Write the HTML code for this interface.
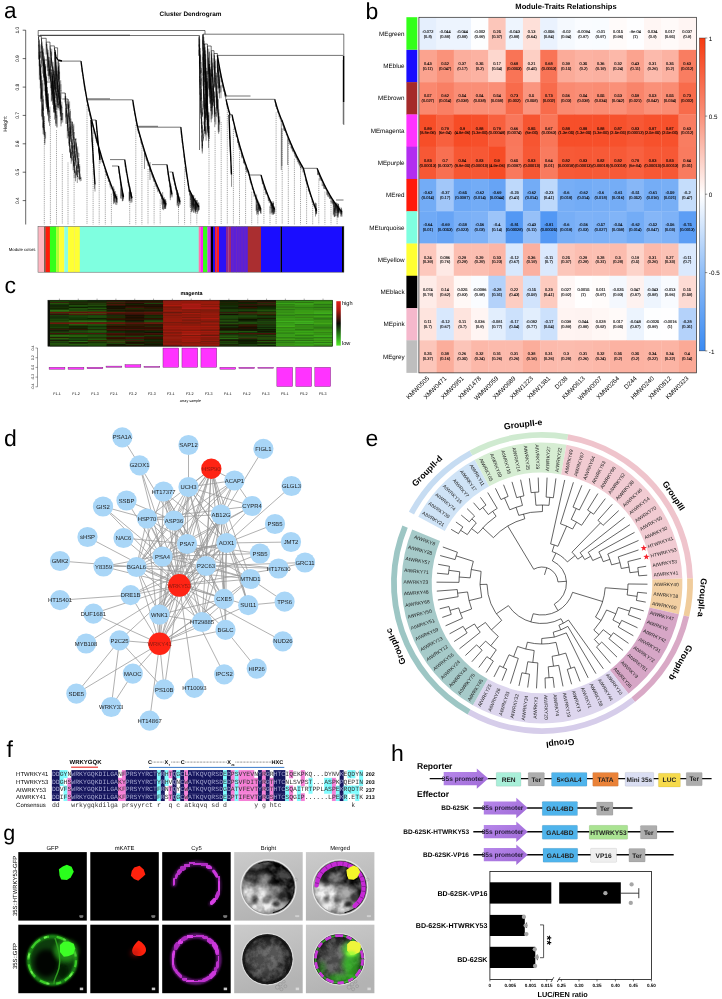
<!DOCTYPE html>
<html><head><meta charset="utf-8"><title>Figure</title>
<style>html,body{margin:0;padding:0;background:#fff}svg{display:block}text{font-family:"Liberation Sans",sans-serif;text-rendering:geometricPrecision}text.mo{font-family:"Liberation Mono",monospace;white-space:pre}</style>
</head><body>
<svg width="722" height="999" viewBox="0 0 722 999">
<rect width="722" height="999" fill="#fff"/>
<g id="panel_a">
<text x="3.9" y="17.7" font-size="22.5">a</text>
<text x="190.5" y="15.5" font-size="6.4" text-anchor="middle" font-weight="bold">Cluster Dendrogram</text>
<path d="M25.7 30.2V224.5" stroke="#000" stroke-width=".6" fill="none"/>
<text x="19.1" y="30.2" font-size="4.9" text-anchor="middle" transform="rotate(-90 19.1 30.2)">1.0</text>
<text x="19.1" y="58.6" font-size="4.9" text-anchor="middle" transform="rotate(-90 19.1 58.6)">0.9</text>
<text x="19.1" y="87.1" font-size="4.9" text-anchor="middle" transform="rotate(-90 19.1 87.1)">0.8</text>
<text x="19.1" y="115.4" font-size="4.9" text-anchor="middle" transform="rotate(-90 19.1 115.4)">0.7</text>
<text x="19.1" y="143.8" font-size="4.9" text-anchor="middle" transform="rotate(-90 19.1 143.8)">0.6</text>
<text x="19.1" y="172.2" font-size="4.9" text-anchor="middle" transform="rotate(-90 19.1 172.2)">0.5</text>
<text x="19.1" y="200.6" font-size="4.9" text-anchor="middle" transform="rotate(-90 19.1 200.6)">0.4</text>
<path d="M22.7 30.2H25.7M22.7 58.6H25.7M22.7 87.1H25.7M22.7 115.4H25.7M22.7 143.8H25.7M22.7 172.2H25.7M22.7 200.6H25.7" stroke="#000" stroke-width=".6" fill="none"/>
<text x="7" y="124" font-size="5.3" text-anchor="middle" transform="rotate(-90 7 124)">Height</text>
<path d="M44.3 121.07V224.4M50.4 116.22V224.4M56.5 130.23V224.4M62.3 154.08V224.4M68 162.48V224.4M74.1 159.5V224.4M87 104.9V224.4M93.1 132.75V224.4M99.2 157.48V224.4M105.3 174.33V224.4M111.4 193.77V224.4M129.7 192.73V224.4M135.8 124.94V224.4M141.9 145.91V224.4M148 169.17V224.4M154.1 186.16V224.4M160.2 199.51V224.4M178.5 203.28V224.4M184.6 166.83V224.4M190.7 195.62V224.4M196.8 210.82V224.4M209 128.48V224.4M215.1 130.97V224.4M221.2 122.16V224.4M227.3 108.37V224.4M233.4 129.25V224.4M239.5 151.32V224.4M245.6 167.4V224.4M251.7 191.75V224.4M257.8 209.02V224.4M263.9 190.29V224.4M270 206.82V224.4M276.1 112.47V224.4M282.2 129.33V224.4M288.3 141.2V224.4M294.4 158.76V224.4M300.5 166.84V224.4M306.6 186.86V224.4M312.7 204.25V224.4M318.8 178.58V224.4M324.9 191.66V224.4M331 201.24V224.4M337.1 209.83V224.4" stroke="#5c5c5c" stroke-width=".6" stroke-dasharray="1 .9" fill="none"/>
<path d="M39.28 39.41V46.27M39.22 40.4V45.9M38.48 44.34V59.26M40.07 44.25V59.03M39.85 45.88V57.92M39.36 45.8V66.54M40.54 51.96V57.61M38.99 51.91V59.94M39.33 55.2V79.53M39.74 55.3V75.41M39.3 60.43V65.98M40.08 60.11V80.03M40.36 64.26V81.58M40.87 64.43V86.22M40.74 66.64V85.05M40.24 66.33V88.4M40.76 71.1V79.12M40.9 73.26V79.84M41.72 75.76V94.4M40.78 75.4V98.67M41.58 80.22V96.59M42.35 80.17V101.51M40.74 83.6V101.65M42.7 83.23V101.32M41.68 87.8V98.12M41.84 89.3V93.15M41.24 91.61V98.91M41.64 92.74V99.13M41.55 96.68V116.35M43.23 95.57V110.6M42.22 100.89V119.78M43.5 99.26V111.02M42.27 105.55V111.36M42.92 104.47V112.74M42.17 109.09V117.12M43.36 107.49V118.85M43.52 112.61V127.72M42.55 111.76V127.5M44.54 116.17V132.73M43.54 118.26V126.85M43.11 122.47V134.2M43.32 121.65V127.98M43.25 126.33V129.69M44.01 126.71V130.38M44.81 130.45V144.81M44.25 129.8V136.39M45.58 132.02V138.6M44.82 134.74V143.06M41.89 41.6V48.87M41.51 42.33V67.23M42.62 46.05V73.62M41.56 44.9V63.6M43.68 48.49V77.57M42.64 50.08V60.47M43.37 52.34V76.07M42.72 52.24V65.85M44.43 56.35V84.27M44.2 58.09V80.54M43.8 62.78V77.42M43.64 62.09V66.81M45.47 65.62V84.69M45.54 64.1V89.81M44.35 70.38V81.54M44.32 69.18V78.14M46.09 73.71V95.71M46 74.9V90.88M46.68 76.9V94.54M45.77 78.71V96.22M45.91 80.94V100.36M46.04 82.13V103.66M47.19 86.92V106.51M45.99 84.72V92.3M46.43 89.05V107.48M47.51 90.48V110.37M46.87 95.58V106.78M47.96 94.04V113.49M47.97 97.1V116.21M47.51 98.96V114.58M48.04 102.05V110.27M48.42 103.42V109.78M48.76 106.53V122.5M49.92 106.64V118.02M49.55 110.4V125.93M48.54 110.68V120.81M46.06 43.76V54.64M47.04 43.98V54.37M47.16 48.66V67.53M48.12 49.89V67.5M47.46 53.44V71.1M48.01 52.58V76.09M49.34 57V79.11M48.49 56.79V75.76M48.88 60.78V80.95M49.91 60.28V76.24M50.43 65.66V88.2M50.43 63.92V81.51M49.24 69.17V76.4M49.49 70.27V75.09M51.18 71.86V90.6M51.03 72.57V80.56M51.94 75.7V84.15M52.09 77.41V85.58M52.73 80.17V94.12M51.56 81.12V88.3M51.64 85.76V95.13M51.27 85.06V101.67M51.84 89.78V100.43M52.88 90.58V103.41M54.05 91.92V112.41M52.95 94.71V98.82M53.56 98.5V112.53M54.9 96.43V107.31M53.91 100.19V108.64M55.06 102.68V112.95M55.65 105.72V109.75M56.17 105.1V109.94M50.07 47.55V74.08M51.71 48.76V55.65M51.54 51.56V66.25M50.65 52.76V64.52M51.12 58.08V67.67M51.32 57.63V63.31M53.04 61.92V73.01M51.82 61.74V77.36M52.54 66.96V70.68M53.17 66.44V85.95M54.56 70.91V84.07M53.5 69.74V91.1M54.02 73.93V94.72M55.26 74.42V91.86M55.29 77.76V97.99M54.54 79.51V90.04M54.58 81.67V88.9M54.78 83.64V91.12M56.9 86.1V104.75M55.58 87.24V95.4M56.04 91V102.02M57.73 89.42V98.92M56.88 93.66V106.97M57.12 96.55V103.44M58.03 99.27V108.24M58.09 100.76V105.72M57.89 103.8V110.43M57.75 104.09V107.54M55.39 50.29V61.6M55.54 49.73V74.61M55.29 54.98V81.03M54.79 53.79V83.59M54.9 57.53V78.69M56.13 57.84V84.51M55.46 62.55V85.89M56.92 61.71V78.95M56.77 65.52V89.44M57 67.51V86.33M56.2 71.2V76.13M57.68 70.6V77.66M57.63 74.32V91.94M56.32 73.97V89.18M57.77 78.83V97.64M56.85 78.23V95.94M57.28 83.72V91.91M57.55 82.3V100.59M58.58 87.45V108.18M58.97 86.3V99.57M59.31 92.45V105.37M58.49 90.45V97.64M59.58 96.72V103.91M58.95 94.74V100.11M60.24 99.97V113.3M59.8 99.44V110.72M61.13 104.32V108.7M61.22 104.87V120.62M61.42 106.1V116.97M60.26 108.37V116.84M44.15 62.26V91.16M44.81 61.14V71.3M45.69 66.47V74.7M45.45 67.31V92.35M45.27 71.93V95.24M45.28 70.65V75.48M44.84 74.97V85.48M46.31 75.99V85.77M46.61 79.64V97.64M46.35 77.3V101.06M45.95 82.82V92.07M46.4 82.92V104.98M46.07 87.86V97.83M47.24 87.14V92.32M46.34 91.2V109M46.22 90.88V102.37M48.01 93.56V111.87M48.08 93.18V107.22M48.01 99.85V109.14M47.45 97.74V111.52M52.33 73.85V93.89M52 72.58V100.93M52.63 75.78V89.86M52.56 76.03V104.94M53.48 80.82V92.34M52.65 81.38V89.31M53.67 85.34V108.96M54.72 84.65V108.97M53.37 89.73V96.04M53.15 89.28V100.21M54.5 91.34V102.04M54.17 92.76V111.62M54.44 96.99V110.49M54.23 95.1V101.98M55.07 100.11V106.85M54.46 101.19V119.62M55.21 104.66V112.54M56.16 103.38V124M54.81 107.87V112.66M55.74 108.24V125.92M55.94 111.22V116.17M56.92 111.08V127.79M55.73 117.54V123.23M56.93 115.18V126.79M59.21 63.01V77.25M59.01 65.19V73.93M58.53 66.75V81.74M58.68 69.13V80.09M59.58 71.63V79.32M58.39 72.15V77.7M59.27 77.26V87M58.48 77.02V87.2M60.69 80.2V89.52M59.68 81.43V94.04M60.93 84.23V91.22M58.95 84.85V91.84M60.02 89.78V99.38M61.08 89.87V99.31M60.09 93.5V97.22M59.8 92.37V103.24M60.69 98.35V107.52M60.28 96.5V109.56M60.34 100.89V107.03M61.87 101.68V107.56M60.59 106.13V110.68M62.12 106.94V114.45M60.83 108.66V116.22M60.49 111.41V114.35M62.52 113.14V120.14M62.73 113V122.5M61.29 117.19V123.64M60.97 118.01V126.35M65.72 96.07V105.47M64.94 96.22V102.43M67.23 100.75V108.88M65.66 100.06V117.5M67.26 103.89V119.07M66.53 104.07V108.58M66.26 108.16V123.94M65.92 108.02V123.65M67.81 113.19V126.12M66.33 110.55V116.28M68.11 114.68V122.94M67.12 114.5V123.94M67.45 119.29V131.01M67.48 121.43V127.49M69.19 123.6V136.25M67.32 124.8V138.36M69.65 126.7V136.84M68.17 128.27V135.89M69.97 133.08V140.78M69.57 131.16V143.96M69.68 136.7V147.26M69.16 135.34V142.8M69.21 139.49V144.37M68.93 141.65V145.94M69.87 142.87V152.52M71.26 145.02V155.46M69.79 148.38V152.27M70.53 149.17V157.55M71.29 151.92V158.85M71.77 151.94V161.49M72.17 157.12V160.41M71.18 155.79V163.75M68.26 102.38V108.93M69.6 101.38V108.26M68.87 104.24V114.68M68.52 104.8V117.24M70.43 111.03V123.07M70.07 108.81V120.61M68.77 114.56V130.3M69.09 112.53V119.7M70.99 118.44V129.67M69.98 118.78V133.33M71.38 123.35V135.89M70.7 123.01V133.62M70.06 127.17V134.65M71.02 125.82V133.27M70.16 130.91V136.6M70.53 130.95V142.14M72.19 134.36V140.54M70.73 134.81V138.96M72.25 139.84V148.24M72.37 138.88V144.05M71.95 141.36V149.26M72.49 143.15V149.56M73.52 145.34V154.5M72.12 146.15V153.97M72.12 149.74V156.31M73.83 151.23V158.42M73.49 156.07V166.48M73.68 154.63V158.52M73.12 158.8V170.38M73.99 160.23V165.66M74.45 162V168.81M74.38 162.36V167.35M74.19 168.51V178.13M75.82 167.44V177.94M76.14 171.84V174.9M75.5 170.53V181.28M73.63 125.56V130.81M73.75 123.74V133.39M72.77 129.26V135.09M73.12 130.09V138.49M74.2 132V139.75M73.86 132.42V137.75M74.83 138.57V141.82M74.22 137.04V147.04M74.35 141.41V148.3M74.85 141.81V149.36M73.93 145.53V153.4M74.37 145.09V153.83M75.26 151.08V160.08M74.53 151.23V157.61M74.93 154.52V161.2M74.82 153.94V161.81M76.71 157.74V162.63M75.29 158.57V165.72M77.62 163.9V168.71M77.71 162.11V171.96M76.48 165.59V175.44M78.08 165.79V173.39M78.19 169.98V175.36M77.27 170.5V174.77M78.88 176.18V179.37M77.3 175.49V182.99M75.88 142.21V151.89M76.11 142.89V148.75M76.19 144.19V150.11M77.73 146.49V153.69M76.54 149.41V158.04M77.06 148.38V157.03M77.99 152.35V160.15M78.86 153.11V157.27M78.94 158.21V162.87M78.48 157.92V166.44M78.7 162.47V168.68M77.87 160.54V168.56M79.63 164.05V169.62M79.68 166.06V171.35M78.88 170.55V172.21M79.72 169.46V175.16M79.63 174.32V180.04M79.4 174.99V178.97M80.12 177.93V181.42M81.13 177.23V180.9M81.46 64.57v1.4M81.92 67.95v3.81M82.38 71.24v1.73M82.85 74.44v1.45M83.31 77.56v1.29M83.77 80.6v2.91M84.23 83.56v3.61M84.69 86.44v3.35M85.15 89.24v2.21M85.62 91.98v1.79M86.08 94.64v1.03M86.54 97.25v2.93M87 99.8v2.69M87.45 101.85v3.58M87.91 103.87v2.78M88.36 105.88v4.75M88.82 107.87v3.93M89.27 109.85v1.99M89.73 111.8v4.61M90.18 113.74v1.18M90.64 115.66v3.13M91.09 117.56v2.62M91.55 119.45v1.95M92 121.31v1.23M92.45 123.16v4.12M92.91 125v1.05M93.36 126.81v3.2M93.82 128.61v4.76M94.27 130.39v1.57M94.73 132.15v1.8M95.18 133.9v3.43M95.64 135.63v3.03M96.09 137.34v3.57M96.55 139.04v4.25M97 140.72v1.7M97.45 142.38v2.24M97.91 144.02v2.2M98.36 145.65v1.19M98.82 147.26v4.56M99.27 148.86v4.13M99.73 150.44v3.86M100.18 152v1.03M100.64 153.55v4.38M101.09 155.08v3.98M101.55 156.6v2.86M102 158.1v3.97M102.45 159.58v2.81M102.91 161.05v1.9M103.36 162.5v1.42M103.82 163.94v1.93M104.27 165.36v1.16M104.73 166.76v2.34M105.18 168.15v4M105.64 169.53v3.78M106.09 170.89v4.38M106.55 172.24v3.85M107 173.57v2.06M107.45 174.89v3.22M107.91 176.19v2.74M108.36 177.48v4.15M108.82 178.75v3.09M109.27 180.01v2.06M109.73 181.26v3.57M110.18 182.49v4.86M110.64 183.71v1.87M111.09 184.92v4.52M111.55 186.11v1.06M112 187.29v2.04M112.45 188.45v1.94M112.91 189.61v3.98M113.36 190.75v4.78M113.82 191.88v3.98M114.27 193v2.31M114.73 194.11v4.52M115.18 195.21v2.31M115.64 196.29v1.96M116.09 197.37v4.63M116.55 198.44v3.52M117 199.5v3.77M114.21 188.74V203.3M114.72 195.19V202.48M116.69 197.77V197.72M116.57 196.37V198.63M116.89 195.97V202.57M114.21 191.61V202.22M115.55 191.11V204.63M116.74 194.11V205.05M116.57 198.46V197.78M113.61 186.37V204.1M114.47 195.56V198.28M113.97 194.53V200.89M91.5 128.9v2.21M92 137.54v4.57M92.5 145.93v4.83M93 154.07v9.16M93.5 161.99v5.68M94 169.68v5.21M94.5 177.18v11.64M95 184.5v7.04M96.5 125.52v4.09M97 130.88v1.15M97.5 136.08v3.06M98 141.13v3.18M98.5 146.04v4.87M99 150.81v2.73M99.5 155.46v4.52M100 160v3.69M125.16 162.67v4.45M125.61 165.64v1.36M126.07 168.52v4.28M126.53 171.3v1.68M126.98 173.99v1.01M127.44 176.59v1.81M127.89 179.09v4.05M128.35 181.51v4.91M128.81 183.84v1.02M129.26 186.09v2.96M129.72 188.26v2.97M130.18 190.35v4.19M130.63 192.36v1.74M131.09 194.3v2.98M131.54 196.18v2.39M132 198v4.33M129.17 191.83V201.6M130.51 193.16V196.65M129.64 185.9V201.02M130.93 193.6V203.12M131.74 196.78V197.65M131.21 192.12V199.03M129.35 191.45V200.25M129.74 186.44V198.79M131.02 192.52V201.3M118.95 169.43v3.97M119.41 172.72v1.68M119.86 175.89v2.76M120.32 178.92v4.09M120.77 181.84v3.32M121.23 184.63v1.5M121.68 187.31v2.85M122.14 189.88v4.54M122.59 192.35v1.95M123.05 194.71v1.77M123.5 197v2.21M121.39 187.7V196.25M122.76 192.92V196.29M122.52 190.72V200.83M123.19 195.11V198.07M120.55 181.98V198.48M122.91 194.57V196.65M122.33 194.07V201.33M121.42 188.29V198.71M123.07 193.67V200.93M133.15 102.69v3.72M133.61 105.5v2.29M134.06 108.22v2.72M134.52 110.86v3.25M134.97 113.41v2.26M135.43 115.89v1.69M135.88 118.29v3.17M136.34 120.61v3.64M136.79 122.87v3.32M137.25 125.06v3.1M137.7 127.2v3.56M138.16 128.89v3.57M138.61 130.56v2.82M139.07 132.22v2.25M139.53 133.86v3.51M139.98 135.48v1.39M140.44 137.09v2.68M140.9 138.68v4.13M141.35 140.26v3.85M141.81 141.82v3.52M142.26 143.37v2M142.72 144.9v2.69M143.18 146.42v2.82M143.63 147.92v3.49M144.09 149.4v2.64M144.55 150.87v3.7M145 152.33v4.72M145.46 153.77v1.73M145.92 155.19v3.62M146.37 156.6v4.11M146.83 158v2.55M147.29 159.38v2.96M147.74 160.75v4.9M148.2 162.1v1.15M148.65 163.44v3.17M149.11 164.76v1.64M149.57 166.07v4.13M150.02 167.36v4.76M150.48 168.64v3.08M150.94 169.91v1.4M151.39 171.16v3.3M151.85 172.4v3.16M152.31 173.62v3.87M152.76 174.83v3.05M153.22 176.03v3.56M153.68 177.21v4.32M154.13 178.38v3.09M154.59 179.54v2.64M155.05 180.68v4.79M155.5 181.81v1.84M155.96 182.93v3.74M156.41 184.03v2.57M156.87 185.12v4.05M157.33 186.2v1.49M157.78 187.26v4.94M158.24 188.32v2.42M158.7 189.36v1.23M159.15 190.39v2.1M159.61 191.4v2.6M160.07 192.41v1.05M160.52 193.4v2.67M160.98 194.38v2.68M161.44 195.35v3.79M161.89 196.31v2.41M162.35 197.26v2.06M162.8 198.2v1.9M163.26 199.13v3.97M163.72 200.05v4.76M164.17 200.95v3.11M164.63 201.85v1.88M165.09 202.74v4.21M165.54 203.62v2.57M166 204.5v1.85M163.65 199.27V210.21M164.23 196.99V209.03M163.66 199.17V203.5M161.83 195.03V204.64M164.12 200.47V203.99M165.99 203.07V204.46M164.49 200.02V207.6M162.7 195.67V209.34M165.71 199.29V208.77M165.3 199.65V202.62M165.94 201.07V204.5M165.49 202.95V208.71M164.27 198.65V208.83M165.16 199.33V208.75M162.66 192.05V209.21M167.45 167.91v1.79M167.91 171.08v3.77M168.36 174.14v3.12M168.82 177.07v3.97M169.27 179.88v2.75M169.73 182.57v4.53M170.18 185.16v3.22M170.64 187.63v2.06M171.09 190.01v1.94M171.55 192.29v1.56M172 194.5v2.97M171.88 193.33V196.43M171 185.96V192.55M170.32 185.28V197.82M170.32 186.94V200.18M171.85 190.59V192.73M170.78 183.63V195.14M173.06 174.29v4.93M173.53 176.53v3.04M173.99 178.7v2.94M174.45 180.81v4.59M174.91 182.87v1.14M175.38 184.87v3.87M175.84 186.81v3.5M176.3 188.69v2.35M176.76 190.53v4.45M177.22 192.31v2.46M177.69 194.04v2.9M178.15 195.72v3.1M178.61 197.35v4.08M179.07 198.94v1.84M179.54 200.49v2.74M180 202v2.69M177.52 193.3V203.23M178.49 196.82V207.8M178.04 192.82V202.54M179.1 196.12V206.27M179.88 197.14V204.36M179.85 201.69V201.52M177.24 190.14V206.31M177.27 190.42V205.01M177.91 192.22V201.7M144.5 151V169M150 162V180M181.26 131.19v3.67M181.72 135.11v2.83M182.17 138.96v4.05M182.63 142.74v1.41M183.09 146.45v1.73M183.55 150.1v1.15M184.01 153.68v4.1M184.46 157.19v4.66M184.92 160.64v3.62M185.38 164.03v2.48M185.84 167.36v4.29M186.29 170.63v4.15M186.75 173.84v3.25M187.21 176.99v2.03M187.67 180.09v2.21M188.13 183.14v2.69M188.58 186.13v2.27M189.04 189.09v2.72M189.5 192v3.57M189.97 191.04v3.49M190.45 192.06v8.11M190.93 193.06v3.35M191.4 194.04v4.07M191.88 194.99v10.29M192.35 195.93v8.18M192.82 196.84v11.27M193.3 197.73v7.02M193.78 198.61v3.13M194.25 199.46v6.48M194.72 200.29v8.33M195.2 201.11v11.44M195.68 201.9v11.83M196.15 202.68v7.28M196.62 203.44v6.71M197.1 204.18v3.92M197.57 204.91v8.8M198.05 205.62v4.91M198.53 206.32v4.37M199 207v3.14M197.9 204.91V211.96M197.84 203.12V206.94M192.4 203.63V211.19M192.58 194.6V205.67M193.34 198.09V212.46M196.71 199.97V205.09M198.87 202.77V205.64M196.2 202.83V211.89M194.62 203.84V209.6M195.05 201.83V211.38M195.73 200.31V208.34M195.53 197.86V211.28M193.9 203.57V212.79M192.67 196.95V209.85M190.2 192.29V207.47M195.14 199.69V210.48M193.58 195.29V207.27M198.98 204.88V209.69M191.66 196.47V211.67M191.69 194.07V207.19M191.34 193.63V212.31M195.88 203.18V211.38M197.2 200.14V206.87M193.54 198.52V206.65M196.71 200.24V208.68M198.21 202.11V206.86M193.78 195.18V209.17M198.96 38.36V46.61M199.76 39.25V49.46M198.98 44.38V55.87M199.46 44.2V63.73M200.43 48.11V61.57M199.5 47.02V61M198.95 49.67V55.74M199.9 50.94V69.05M200.63 55.42V63.45M200.6 54.24V74.02M199.64 60.64V77.98M199.48 60.5V66.46M200.39 62.2V68.18M201.21 62.09V74.21M200.6 67.68V72.36M201.35 68.1V73.17M200.81 70.06V83.43M200.29 71.59V84.92M201.61 74.02V81.65M199.67 76.23V82.51M201.61 78.34V88.21M199.81 78.69V94.77M201.2 82.15V96.83M200.14 82.85V88.18M201.39 88.27V103.57M201.56 88.85V99.08M200.64 92.86V99.53M200.45 92.51V101.51M201.65 97.25V101.21M200.64 97.18V108.26M200.83 98.55V114.56M202.23 100.93V113.83M200.7 102.62V112.67M201.82 104.05V117.27M202.36 108.03V115.32M200.93 108.8V118.59M202.27 111.87V116.1M202.6 112.73V117.06M201.23 116.77V123.88M201.61 117.08V128.46M201.71 118.93V128.58M203.1 121.47V124.66M202.59 125.07V136.5M201.79 124.93V132.29M202.09 126.79V133.45M203.27 129.47V141.23M203.35 133.65V138.22M202.09 130.89V142.35M203.31 136.86V139.64M201.62 135.38V140.77M202.15 140.63V148.14M202.21 140.23V151.54M202.28 143.69V148.67M202.31 145.76V153.55M203.82 37.03V44.66M202.97 36.68V49.41M204.3 40.79V64.01M202.73 40.34V51.42M204.16 46.4V60.26M203.35 44.04V70.07M203.74 50.54V74.85M203.7 47.97V75.94M203.15 52.11V64.39M203.11 53.49V66.74M202.83 57.07V75.66M203.91 58.26V72.27M204.6 60.05V81.93M204.38 61.5V73.19M203.08 64.05V86.28M203.99 65.13V90.67M204.15 70.63V85.14M203.49 70.14V94.37M203.61 72.26V79.99M203.29 72.61V78.49M203.19 76.93V85.72M204.25 76.62V93.37M205.05 80.6V87.76M203.48 81.27V86.63M203.88 86.4V99.18M203.58 85V97.38M203.67 89.07V109.48M203.71 88.31V107.37M204.25 93.55V114.32M204.54 93.63V112.57M205.14 97.82V117.82M204.21 97.53V105.67M205.27 100.12V121.91M205.36 102.69V119.12M205.66 104.07V117.78M204.54 104.98V113.43M204.84 110.69V119.04M204.78 110.83V120.11M205.83 112.59V119.36M205.13 112.49V131.46M205.73 118.83V134.12M204.43 116.9V130.57M205.09 120.19V128.98M204.47 121.4V133.87M206.02 126.12V134.94M205.38 126.62V133.2M206.11 129.46V140.73M205.08 129.4V136.49M204.47 47.65V55.73M205.06 47.18V59.41M204.52 50.45V61.95M205.62 50.38V76.75M204.9 54.01V75.62M205.63 54.3V71.03M205.27 59.46V74.9M205.7 59.03V69.06M204.8 63.17V81.27M205.27 62.56V87.63M205.53 65.31V82.76M206.55 67.8V78.36M206.92 71V77.14M205.91 71V77.04M205.49 75.69V95.28M206.81 75.9V100.04M206.16 78.38V90.56M207.21 77.95V96.34M207.15 82.22V97.95M206.59 82.1V102.81M207.69 88.12V105.32M205.78 86.2V108.48M206.99 89.66V106.53M206.82 90.19V106.27M207.4 95.45V115.4M207.08 94.42V107.69M207.12 98.97V108.56M206.98 98.28V110.18M207.53 103.35V121.88M207.12 104.25V110.47M207.89 108.46V120.79M207.35 106.2V126.5M208.86 112.16V128.6M208.76 112.74V122.03M208.22 115.33V119.91M208.66 115.2V133.32M208.31 119.31V137.88M208.04 119.79V133.26M208.15 122.07V135.53M208.52 124.61V136.68M208.45 127.27V136.13M209.45 126.06V138.85M208.72 131.13V141.33M208.52 131.41V147.95M207.43 49.18V74.51M208.8 48.6V78.59M209.15 52.2V60.68M209.35 51.6V77.91M207.83 57.53V71.85M208.56 57.84V73.97M209.05 60.72V70.11M209.82 60.62V73.96M208.84 64.3V70.92M209.42 66.65V76.65M209.99 69.04V80.33M208.64 69.31V87.9M209.04 72.99V89.03M210.58 73.21V88.59M209 78.6V89.84M208.97 78.77V96.48M210.11 80.73V89.1M210.71 83.01V97.16M210.9 86.36V90.22M210.03 86.83V102.4M209.77 88.76V98.39M210.29 90.12V103.59M209.95 92.93V104.02M211.86 94.28V107.09M210.65 99.6V111.14M211.92 98.79V115.71M212.12 102.96V118.46M212.43 102.38V114.36M211.21 106.83V122.35M211.16 107.07V119.34M211.89 52.54V80.79M211.23 53.84V64.9M213.11 58.27V67.4M211.32 57.54V76.5M212.14 63.16V75.98M213.03 62.31V69.84M211.93 66.73V76.57M211.6 65.59V76.39M212.1 69.68V82.53M212.34 69.29V77.14M212.96 73.51V81.88M212.36 74.96V95.96M213.07 77.36V97.71M214.28 78.73V87.45M213.49 84.07V91.73M213.09 81.76V100.86M213.58 87.94V102.17M213.26 86.06V102.55M214.16 91.27V97.7M214.7 91.75V100.25M214.55 96.19V110.48M213.54 96.59V106.07M214.31 99.35V117.02M214.82 100.26V105.44M214.55 105.36V115.2M214.4 105.18V112.41M214.8 108.57V121.85M215.84 107.13V124.52M214.78 113.17V127.2M215.93 112.01V116.38M214.55 55.55V70.28M214.21 54.99V79.06M215.23 61.01V73.94M215.83 59.36V68.14M214.24 65.47V86.13M214.57 64.68V73.08M214.49 68.68V81.88M214.79 67.1V87.79M216.18 72.88V89.7M216.11 72.6V86.7M216.7 75.35V80.99M215.04 75.11V87.1M215.33 80.97V97.42M216.89 81.08V87.18M217.09 85.48V106.98M216.34 83.49V102.61M216.4 89.49V108.55M216.7 86.97V110.8M217.66 91.3V109.31M217.06 93.63V108.15M217.31 96.29V112.81M216.68 95.54V116.85M218.19 99.44V105.18M217.86 98.94V108.84M218.17 105.13V118.59M217.78 104.65V109.31M217.99 109.5V115.35M218.75 109.2V123.08M218.74 112.61V119.69M218.39 113.04V129.77M218.27 116.28V132.27M219.69 116.33V124.68M218.66 120V133.89M219.27 119.7V131.78M217.35 58.61V83.48M217.54 59.29V72.01M217.78 61.45V73.44M217.6 62.58V77.24M218.41 67.12V80.78M217.67 64.65V72.39M218.11 69.55V89.33M219.12 71.37V93.81M219.15 75.21V87.26M218.26 73.02V88.23M219.87 77.04V92.82M219.08 79.11V92.95M218.93 81.6V88.2M219.49 83.37V98.45M220.98 85.22V98.3M220.85 85.51V92.19M209.89 67.45V90.01M209.87 66.89V92.04M210.22 69.51V88.29M209.53 70.3V81.09M211.43 73.88V92.94M211.69 74.52V98.95M210.31 79.1V93.21M210.15 77.94V94.86M211.2 81.09V89.96M210.36 82.68V88.57M212.09 87.99V93.97M212.36 85.64V105.24M211.47 90.02V101.2M211.76 90.98V102.62M212.58 93.52V104.56M211.53 95.11V111.28M212.68 98.96V107.76M211.68 99.03V104.54M207.13 71.44V89.47M207.13 71.28V99.56M206.89 78.15V96.77M206.47 77.44V98.12M207.31 81.06V98.99M205.93 81.47V100.73M205.48 86.1V109.18M206.36 86.41V104.7M206.33 89.09V107.59M206.66 89.14V102.57M205.92 94.46V105.73M206.83 94.66V115.35M206.34 98.88V117.88M206.34 97.7V111.78M206.42 101.62V115.6M207.02 101.57V107.96M206.93 107.28V111.3M207.89 105.85V117.14M207.81 111.32V124.84M207.73 111.36V129.02M207.18 115.32V129.69M207.54 113.51V131.52M208.13 119.83V123.78M207.28 119.95V125.08M343.2 60V124M217.88 58.29v3.97M218.36 61.1v2.07M218.83 63.83v2.5M219.31 66.48v4.54M219.79 69.05v3.13M220.27 71.54v5.44M220.74 73.96v4.11M221.22 76.3v5.36M221.7 78.57v3.81M222.18 80.76v5.59M222.66 82.89v5.35M223.13 84.94v1.84M223.61 86.94v4.73M224.09 88.86v2.71M224.57 90.73v4.82M225.04 92.54v4.4M225.52 94.29v5.13M226 96v1.61M226.5 101.42v3.21M227 103.49v3.84M227.5 105.49v3.17M228 107.43v1.13M228.5 109.32v2.81M229 111.16v1.3M229.5 112.95v2.65M230 114.7v3.41M229.42 125.66v13.18M229.83 136.21v10.43M230.25 146.34v5.8M230.67 156.1v5.12M231.08 165.5v7.91M231.5 174.6v12.22M232.46 116.75v3.91M232.92 118.78v1.57M233.38 120.78v1.1M233.83 122.74v1.55M234.29 124.68v5M234.75 126.6v1.93M235.21 128.48v3.77M235.67 130.33v2.45M236.12 132.16v4.44M236.58 133.96v2.9M237.04 135.73v1.72M237.5 137.48v5.38M237.96 139.2v3.69M238.42 140.89v4.45M238.88 142.55v5.04M239.33 144.19v5.74M239.79 145.81v1.07M240.25 147.39v2.71M240.71 148.96v1.75M241.17 150.49v3.51M241.62 152.01v5.37M242.08 153.49v5M242.54 154.96v1.18M243 156.4v1.91M243.46 157.81v5.09M243.92 159.21v4.4M244.38 160.58v2.96M244.83 161.93v3.38M245.29 163.25v1.79M245.75 164.56v5.23M246.21 165.85v2.97M246.67 167.11v5.37M247.12 168.36v4.05M247.58 169.59v1.38M248.04 170.8v2.65M248.5 172v2.08M248.96 173.87v1.68M249.43 175.7v2.44M249.89 177.48v2.87M250.35 179.23v3.31M250.81 180.94v2.55M251.28 182.61v2.41M251.74 184.24v1.02M252.2 185.83v3.32M252.67 187.39v2.34M253.13 188.91v1.08M253.59 190.39v2.84M254.06 191.83v4.95M254.52 193.24v1.18M254.98 194.61v1.58M255.44 195.94v3.68M255.91 197.25v2.09M256.37 198.51v2.09M256.83 199.75v3M257.3 200.95v2.05M257.76 202.12v3.28M258.22 203.26v3.11M258.69 204.36v4.83M259.15 205.44v4.97M259.61 206.49v1.14M260.07 207.52v3.24M260.54 208.52v4.08M261 209.5v4.49M257.83 204.06V213.86M256.64 194.52V209.93M257.18 198.65V212.58M259.25 204.45V207.98M259.31 202.58V211.35M259.16 206.52V210.29M260.32 204.86V211.13M258.77 204.06V208.85M260.67 207.58V213.31M258.24 200.49V214.87M258.08 206.88V212.14M256.06 199.42V210.93M256.66 204.63V214.69M259.62 207.98V208.82M259.66 205.61V210.7M261.46 176.55v1.8M261.91 178.07v3.41M262.37 179.56v4.46M262.83 181.02v3.59M263.28 182.44v1.79M263.74 183.85v3.94M264.2 185.22v4.85M264.65 186.56v3.4M265.11 187.87v1.32M265.57 189.16v4.24M266.02 190.42v4.5M266.48 191.65v2.36M266.94 192.85v1.55M267.39 194.02v1.75M267.85 195.17v3.15M268.31 196.29v4.5M268.76 197.39v3.56M269.22 198.46v4.69M269.68 199.51v1.85M270.13 200.53v2.31M270.59 201.52v4M271.05 202.49v3.6M271.5 203.44v2.62M271.96 204.37v3.72M272.42 205.27v2.35M272.87 206.16v1.23M273.33 207.02v2.66M273.79 207.86v1.18M274.24 208.69v3.51M274.7 209.5v2.34M273.41 207.49V214.9M271.88 201.41V212.41M271.08 204.72V208.75M273.99 207.45V214.01M272.58 202.98V211.94M271.41 201.79V213.43M273.41 202.97V213.71M273.15 201.13V211.13M273.31 202.49V208.55M274.65 206.15V213.69M272.89 203.33V213.55M274.25 208.62V207.98M272.19 204.24V215.02M272.87 207.23V213.4M270.09 205.72V213.72M275.19 101.08v1.73M275.67 102.8v3.95M276.16 104.48v2.5M276.64 106.1v2.91M277.13 107.67v2.03M277.61 109.18v3.4M278.1 110.65v2.38M278.59 112.07v1.97M279.07 113.45v3.71M279.56 114.78v1.32M280.04 116.07v3.2M280.53 117.31v1.2M281.01 118.52v2.94M281.5 119.7v2.21M281.3 120V170M281.9 128V166M287.7 140V165M282.26 121.04v1.24M282.72 122.36v3.26M283.18 123.67v2.64M283.64 124.96v4.68M284.1 126.24v4.78M284.56 127.51v3.51M285.02 128.76v1.9M285.48 129.99v2.01M285.94 131.22v2.05M286.4 132.43v2.74M286.86 133.62v1.93M287.31 134.8v1.81M287.77 135.97v4.04M288.23 137.13v3.57M288.69 138.27v2.19M289.15 139.39v4.98M289.61 140.51v1.87M290.07 141.61v3.28M290.53 142.7v1.63M290.99 143.77v4.45M291.45 144.83v4.48M291.91 145.88v2.07M292.37 146.92v4.01M292.83 147.94v4.29M293.29 148.95v2.13M293.75 149.95v2.33M294.21 150.93v2.94M294.67 151.91v4.56M295.13 152.87v1.65M295.59 153.82v3.73M296.05 154.76v3.39M296.51 155.68v2.81M296.97 156.6v3.32M297.43 157.5v4.53M297.89 158.39v1.84M298.34 159.27v4.53M298.8 160.14v2.44M299.26 161v4.12M299.72 161.85v4.45M300.18 162.69v1.73M300.64 163.52v4.46M301.1 164.33v4.98M301.56 165.14v2.19M302.02 165.94v1.1M302.48 166.74v1.45M302.94 167.52v4.9M303.4 168.3v1.04M303.86 170.18v1.51M304.31 172.04v3.05M304.77 173.85v1.27M305.22 175.64v2.02M305.68 177.39v3.76M306.13 179.11v3.15M306.59 180.8v3.65M307.04 182.46v3.94M307.5 184.09v1.1M307.95 185.68v1.7M308.41 187.25v3.38M308.86 188.79v3.07M309.32 190.29v1.11M309.77 191.77v2.51M310.23 193.21v1.69M310.68 194.63v2.29M311.14 196.02v1.31M311.59 197.38v1.06M312.05 198.72v3.97M312.5 200.02v1.95M312.96 201.3v3.64M313.41 202.56v1.36M313.87 203.79v2.46M314.32 205v1.41M314.78 206.18v2.29M315.23 207.34v1.54M315.69 208.48v3.06M316.14 209.6v1.44M316.6 210.7v3.21M315.89 203.29V211.5M316.17 203.36V214.55M316.05 208.25V209.25M316.51 208.31V213.15M315.87 206.49V213.92M315.51 202.58V216.56M317.56 169.44v5.37M318.02 170.57v4.59M318.48 171.69v3M318.94 172.79v2.59M319.41 173.87v3.1M319.87 174.95v5.86M320.33 176.01v2.94M320.79 177.05v2.93M321.25 178.09v3.05M321.71 179.11v1.72M322.17 180.11v5.99M322.63 181.11v1.03M323.09 182.09v4.04M323.56 183.06v5.63M324.02 184.01v2.27M324.48 184.95v4.05M324.94 185.88v2.88M325.4 186.8v2.2M325.86 187.7v1.99M326.32 188.59v1.58M326.78 189.47v5.22M327.24 190.33v4.92M327.71 191.18v5.54M328.17 192.02v1.25M328.63 192.85v4.47M329.09 193.67v2.62M329.55 194.47v4.23M330.01 195.26v3.74M330.47 196.04v2.58M330.93 196.81v5.86M331.39 197.56v1M331.86 198.31v4.73M332.32 199.04v5.27M332.78 199.76v3.55M333.24 200.47v3.96M333.7 201.17v5.97M334.16 201.85v2.17M334.62 202.53v4.15M335.08 203.2v4.72M335.54 203.85v2.89M336.01 204.5v4.56M336.47 205.13v2.97M336.93 205.75v3.63M337.39 206.37v4.06M337.85 206.97v4.39M338.31 207.56v2.61M338.77 208.15v4.14M339.23 208.72v3.72M339.69 209.29v2.12M340.16 209.85v4.06M340.62 210.4v2.32M341.08 210.94v5.54M341.54 211.47v3.37M342 212v4.61M333.65 201.64V214.22M334.68 207.18V216.58M337.86 203.4V217.15M334.19 207.91V216.66M334.64 208.39V212.01M341.07 207.34V214.17M337.92 208.64V217.98M335.74 204.47V216.39M335.17 205.72V212.94M337.31 207.62V212.72M338.57 210.15V214.56M341.48 208.17V212.2M339.08 206.24V210.73M336.27 203.16V213.39M334.87 202.68V210.35M338.02 205.6V212.36M338.33 203.96V212.82M338.53 203.93V211.53M333.26 199.9V215.32M339.03 207.28V213.04M337.27 203.31V216.06M341.77 209.45V213.7M334.44 203.77V217.12M338.04 205.97V216.6M335.97 202.69V210.32M335.88 202.28V216.16M340.94 211.07V216.54" stroke="#000" stroke-width=".42" fill="none"/>
<path d="M38.2 30.5H205M38.2 30.5V36M205 30.5V34.2M38.2 35.5H199.5M199.5 35.5V150M203 34.2H343.8M343.8 34.2V125M203 34.2V60M40 35.2H130M38.5 36.4H41.4V38.3H46.2V42.1H50V45.9H54.4V47.8H57.6V59M39.5 52H43M43 60H47M48 70H52M45 82H50M58 61.1H81M61.4 93H65.2M62.3 99H68M70 122H72.8M74.7 139H76.6M87 99.8H132.7M87 98.8H110M91 120H96M110 159.6H124.7M112 166H118.5M137.7 127.2H180.8M137.7 126.3H158M152 164.6H167M169.6 172H172.6M203 34.5V44H207.4V46H211.2V50.7H214V53.5H217.4V55.4M217.4 55.4H343.3M226 96H250.5M226 99.3H274.7M229 114.7H232M248.5 175H261M303.4 168.3H317.1M336 200H343.5" stroke="#000" stroke-width=".55" fill="none"/>
<path d="M38.5 36.4 38.65 40.51 38.83 44.62 39.03 48.72 39.24 52.83 39.45 56.94 39.68 61.05 39.91 65.16 40.14 69.27 40.38 73.38 40.62 77.48 40.86 81.59 41.11 85.7 41.37 89.81 41.62 93.92 41.88 98.03 42.14 102.13 42.4 106.24 42.67 110.35 42.93 114.46 43.2 118.57 43.47 122.67 43.75 126.78 44.02 130.89 44.3 135M41.4 38.3 41.67 42.39 42.01 46.49 42.37 50.58 42.75 54.68 43.14 58.77 43.55 62.87 43.97 66.96 44.39 71.06 44.82 75.15 45.27 79.24 45.71 83.34 46.17 87.43 46.63 91.53 47.09 95.62 47.56 99.72 48.04 103.81 48.52 107.91 49 112M46.2 42.1 46.55 46.16 46.98 50.21 47.44 54.27 47.93 58.33 48.43 62.38 48.95 66.44 49.49 70.49 50.03 74.55 50.59 78.61 51.15 82.66 51.72 86.72 52.31 90.78 52.89 94.83 53.49 98.89 54.09 102.94 54.7 107M50 45.9 50.39 50.12 50.87 54.34 51.39 58.56 51.94 62.79 52.51 67.01 53.09 71.23 53.7 75.45 54.31 79.67 54.93 83.89 55.57 88.11 56.21 92.34 56.87 96.56 57.53 100.78 58.2 105M54.4 47.8 54.66 51.88 54.97 55.96 55.31 60.04 55.67 64.12 56.04 68.2 56.42 72.28 56.81 76.36 57.21 80.44 57.62 84.52 58.04 88.6 58.46 92.68 58.89 96.76 59.32 100.84 59.76 104.92 60.2 109M44 60 44.21 64 44.47 68 44.75 72 45.05 76 45.35 80 45.67 84 45.99 88 46.32 92 46.66 96 47 100M52 70 52.23 74 52.51 78 52.81 82 53.13 86 53.46 90 53.8 94 54.15 98 54.51 102 54.87 106 55.24 110 55.62 114 56 118M58.2 61.1 58.35 65.31 58.54 69.51 58.74 73.72 58.96 77.93 59.18 82.14 59.41 86.34 59.64 90.55 59.88 94.76 60.13 98.96 60.37 103.17 60.62 107.38 60.88 111.59 61.14 115.79 61.4 120M65.2 93 65.44 97.06 65.72 101.12 66.03 105.19 66.36 109.25 66.7 113.31 67.05 117.38 67.4 121.44 67.77 125.5 68.14 129.56 68.52 133.62 68.9 137.69 69.29 141.75 69.69 145.81 70.09 149.88 70.49 153.94 70.9 158M68 99 68.24 103.11 68.54 107.22 68.85 111.33 69.19 115.44 69.54 119.56 69.89 123.67 70.26 127.78 70.64 131.89 71.02 136 71.41 140.11 71.8 144.22 72.2 148.33 72.61 152.44 73.02 156.56 73.43 160.67 73.85 164.78 74.27 168.89 74.7 173M72.2 122 72.48 126.23 72.82 130.46 73.18 134.69 73.57 138.92 73.97 143.15 74.38 147.38 74.8 151.62 75.23 155.85 75.67 160.08 76.12 164.31 76.57 168.54 77.03 172.77 77.5 177M75.6 139 75.94 143 76.35 147 76.8 151 77.27 155 77.76 159 78.27 163 78.78 167 79.31 171 79.85 175 80.4 179M199 36.4 199.08 40.46 199.17 44.52 199.27 48.58 199.38 52.64 199.49 56.7 199.6 60.76 199.72 64.81 199.84 68.87 199.96 72.93 200.08 76.99 200.21 81.05 200.34 85.11 200.47 89.17 200.6 93.23 200.73 97.29 200.86 101.35 201 105.41 201.13 109.47 201.27 113.53 201.41 117.59 201.55 121.64 201.69 125.7 201.83 129.76 201.97 133.82 202.11 137.88 202.26 141.94 202.4 146M203 34.5 203.04 38.52 203.09 42.54 203.15 46.56 203.2 50.58 203.26 54.6 203.32 58.62 203.39 62.65 203.45 66.67 203.52 70.69 203.58 74.71 203.65 78.73 203.72 82.75 203.79 86.77 203.86 90.79 203.93 94.81 204 98.83 204.08 102.85 204.15 106.88 204.22 110.9 204.3 114.92 204.37 118.94 204.45 122.96 204.52 126.98 204.6 131M204.6 44 204.71 48.05 204.83 52.09 204.97 56.14 205.12 60.18 205.27 64.23 205.43 68.27 205.59 72.32 205.76 76.36 205.92 80.41 206.09 84.45 206.27 88.5 206.44 92.55 206.62 96.59 206.8 100.64 206.98 104.68 207.17 108.73 207.35 112.77 207.54 116.82 207.73 120.86 207.92 124.91 208.11 128.95 208.3 133M207.4 46 207.57 50.13 207.77 54.27 208 58.4 208.23 62.53 208.47 66.67 208.72 70.8 208.98 74.93 209.24 79.07 209.51 83.2 209.78 87.33 210.06 91.47 210.34 95.6 210.62 99.73 210.91 103.87 211.2 108M211.2 50.7 211.37 54.92 211.57 59.14 211.8 63.36 212.03 67.58 212.27 71.8 212.52 76.02 212.78 80.24 213.04 84.46 213.31 88.68 213.58 92.9 213.86 97.12 214.14 101.34 214.42 105.56 214.71 109.78 215 114M214 53.5 214.18 57.53 214.41 61.56 214.65 65.59 214.91 69.62 215.18 73.65 215.45 77.68 215.73 81.71 216.02 85.74 216.31 89.76 216.61 93.79 216.91 97.82 217.22 101.85 217.53 105.88 217.84 109.91 218.16 113.94 218.48 117.97 218.8 122M217.4 55.4 217.61 59.48 217.87 63.55 218.14 67.62 218.44 71.7 218.74 75.78 219.05 79.85 219.37 83.92 219.7 88M209.5 64 209.7 68 209.94 72 210.21 76 210.48 80 210.77 84 211.07 88 211.37 92 211.68 96 212 100M205.5 70 205.59 74.17 205.69 78.33 205.8 82.5 205.92 86.67 206.05 90.83 206.18 95 206.31 99.17 206.44 103.33 206.58 107.5 206.72 111.67 206.86 115.83 207 120" stroke="#000" stroke-width=".8" fill="none"/>
<path d="M55 52 56 57 58 60 62 61M81 61.1 81.46 64.57 81.92 67.95 82.38 71.24 82.85 74.44 83.31 77.56 83.77 80.6 84.23 83.56 84.69 86.44 85.15 89.24 85.62 91.98 86.08 94.64 86.54 97.25 87 99.8M87 99.8 87.45 101.85 87.91 103.87 88.36 105.88 88.82 107.87 89.27 109.85 89.73 111.8 90.18 113.74 90.64 115.66 91.09 117.56 91.55 119.45 92 121.31 92.45 123.16 92.91 125 93.36 126.81 93.82 128.61 94.27 130.39 94.73 132.15 95.18 133.9 95.64 135.63 96.09 137.34 96.55 139.04 97 140.72 97.45 142.38 97.91 144.02 98.36 145.65 98.82 147.26 99.27 148.86 99.73 150.44 100.18 152 100.64 153.55 101.09 155.08 101.55 156.6 102 158.1 102.45 159.58 102.91 161.05 103.36 162.5 103.82 163.94 104.27 165.36 104.73 166.76 105.18 168.15 105.64 169.53 106.09 170.89 106.55 172.24 107 173.57 107.45 174.89 107.91 176.19 108.36 177.48 108.82 178.75 109.27 180.01 109.73 181.26 110.18 182.49 110.64 183.71 111.09 184.92 111.55 186.11 112 187.29 112.45 188.45 112.91 189.61 113.36 190.75 113.82 191.88 114.27 193 114.73 194.11 115.18 195.21 115.64 196.29 116.09 197.37 116.55 198.44 117 199.5M91 120 91.5 128.9 92 137.54 92.5 145.93 93 154.07 93.5 161.99 94 169.68 94.5 177.18 95 184.5M96 120 96.5 125.52 97 130.88 97.5 136.08 98 141.13 98.5 146.04 99 150.81 99.5 155.46 100 160M124.7 159.6 125.16 162.67 125.61 165.64 126.07 168.52 126.53 171.3 126.98 173.99 127.44 176.59 127.89 179.09 128.35 181.51 128.81 183.84 129.26 186.09 129.72 188.26 130.18 190.35 130.63 192.36 131.09 194.3 131.54 196.18 132 198M118.5 166 118.95 169.43 119.41 172.72 119.86 175.89 120.32 178.92 120.77 181.84 121.23 184.63 121.68 187.31 122.14 189.88 122.59 192.35 123.05 194.71 123.5 197M132.7 99.8 133.15 102.69 133.61 105.5 134.06 108.22 134.52 110.86 134.97 113.41 135.43 115.89 135.88 118.29 136.34 120.61 136.79 122.87 137.25 125.06 137.7 127.2M137.7 127.2 138.16 128.89 138.61 130.56 139.07 132.22 139.53 133.86 139.98 135.48 140.44 137.09 140.9 138.68 141.35 140.26 141.81 141.82 142.26 143.37 142.72 144.9 143.18 146.42 143.63 147.92 144.09 149.4 144.55 150.87 145 152.33 145.46 153.77 145.92 155.19 146.37 156.6 146.83 158 147.29 159.38 147.74 160.75 148.2 162.1 148.65 163.44 149.11 164.76 149.57 166.07 150.02 167.36 150.48 168.64 150.94 169.91 151.39 171.16 151.85 172.4 152.31 173.62 152.76 174.83 153.22 176.03 153.68 177.21 154.13 178.38 154.59 179.54 155.05 180.68 155.5 181.81 155.96 182.93 156.41 184.03 156.87 185.12 157.33 186.2 157.78 187.26 158.24 188.32 158.7 189.36 159.15 190.39 159.61 191.4 160.07 192.41 160.52 193.4 160.98 194.38 161.44 195.35 161.89 196.31 162.35 197.26 162.8 198.2 163.26 199.13 163.72 200.05 164.17 200.95 164.63 201.85 165.09 202.74 165.54 203.62 166 204.5M167 164.6 167.45 167.91 167.91 171.08 168.36 174.14 168.82 177.07 169.27 179.88 169.73 182.57 170.18 185.16 170.64 187.63 171.09 190.01 171.55 192.29 172 194.5M172.6 172 173.06 174.29 173.53 176.53 173.99 178.7 174.45 180.81 174.91 182.87 175.38 184.87 175.84 186.81 176.3 188.69 176.76 190.53 177.22 192.31 177.69 194.04 178.15 195.72 178.61 197.35 179.07 198.94 179.54 200.49 180 202M180.8 127.2 181.26 131.19 181.72 135.11 182.17 138.96 182.63 142.74 183.09 146.45 183.55 150.1 184.01 153.68 184.46 157.19 184.92 160.64 185.38 164.03 185.84 167.36 186.29 170.63 186.75 173.84 187.21 176.99 187.67 180.09 188.13 183.14 188.58 186.13 189.04 189.09 189.5 192M189.5 190 189.97 191.04 190.45 192.06 190.93 193.06 191.4 194.04 191.88 194.99 192.35 195.93 192.82 196.84 193.3 197.73 193.78 198.61 194.25 199.46 194.72 200.29 195.2 201.11 195.68 201.9 196.15 202.68 196.62 203.44 197.1 204.18 197.57 204.91 198.05 205.62 198.53 206.32 199 207M343.6 56V102M217.4 55.4 217.88 58.29 218.36 61.1 218.83 63.83 219.31 66.48 219.79 69.05 220.27 71.54 220.74 73.96 221.22 76.3 221.7 78.57 222.18 80.76 222.66 82.89 223.13 84.94 223.61 86.94 224.09 88.86 224.57 90.73 225.04 92.54 225.52 94.29 226 96M226 99.3 226.5 101.42 227 103.49 227.5 105.49 228 107.43 228.5 109.32 229 111.16 229.5 112.95 230 114.7M229 114.7 229.42 125.66 229.83 136.21 230.25 146.34 230.67 156.1 231.08 165.5 231.5 174.6M232 114.7 232.46 116.75 232.92 118.78 233.38 120.78 233.83 122.74 234.29 124.68 234.75 126.6 235.21 128.48 235.67 130.33 236.12 132.16 236.58 133.96 237.04 135.73 237.5 137.48 237.96 139.2 238.42 140.89 238.88 142.55 239.33 144.19 239.79 145.81 240.25 147.39 240.71 148.96 241.17 150.49 241.62 152.01 242.08 153.49 242.54 154.96 243 156.4 243.46 157.81 243.92 159.21 244.38 160.58 244.83 161.93 245.29 163.25 245.75 164.56 246.21 165.85 246.67 167.11 247.12 168.36 247.58 169.59 248.04 170.8 248.5 172M248.5 172 248.96 173.87 249.43 175.7 249.89 177.48 250.35 179.23 250.81 180.94 251.28 182.61 251.74 184.24 252.2 185.83 252.67 187.39 253.13 188.91 253.59 190.39 254.06 191.83 254.52 193.24 254.98 194.61 255.44 195.94 255.91 197.25 256.37 198.51 256.83 199.75 257.3 200.95 257.76 202.12 258.22 203.26 258.69 204.36 259.15 205.44 259.61 206.49 260.07 207.52 260.54 208.52 261 209.5M261 175 261.46 176.55 261.91 178.07 262.37 179.56 262.83 181.02 263.28 182.44 263.74 183.85 264.2 185.22 264.65 186.56 265.11 187.87 265.57 189.16 266.02 190.42 266.48 191.65 266.94 192.85 267.39 194.02 267.85 195.17 268.31 196.29 268.76 197.39 269.22 198.46 269.68 199.51 270.13 200.53 270.59 201.52 271.05 202.49 271.5 203.44 271.96 204.37 272.42 205.27 272.87 206.16 273.33 207.02 273.79 207.86 274.24 208.69 274.7 209.5M274.7 99.3 275.19 101.08 275.67 102.8 276.16 104.48 276.64 106.1 277.13 107.67 277.61 109.18 278.1 110.65 278.59 112.07 279.07 113.45 279.56 114.78 280.04 116.07 280.53 117.31 281.01 118.52 281.5 119.7M281.8 119.7 282.26 121.04 282.72 122.36 283.18 123.67 283.64 124.96 284.1 126.24 284.56 127.51 285.02 128.76 285.48 129.99 285.94 131.22 286.4 132.43 286.86 133.62 287.31 134.8 287.77 135.97 288.23 137.13 288.69 138.27 289.15 139.39 289.61 140.51 290.07 141.61 290.53 142.7 290.99 143.77 291.45 144.83 291.91 145.88 292.37 146.92 292.83 147.94 293.29 148.95 293.75 149.95 294.21 150.93 294.67 151.91 295.13 152.87 295.59 153.82 296.05 154.76 296.51 155.68 296.97 156.6 297.43 157.5 297.89 158.39 298.34 159.27 298.8 160.14 299.26 161 299.72 161.85 300.18 162.69 300.64 163.52 301.1 164.33 301.56 165.14 302.02 165.94 302.48 166.74 302.94 167.52 303.4 168.3M303.4 168.3 303.86 170.18 304.31 172.04 304.77 173.85 305.22 175.64 305.68 177.39 306.13 179.11 306.59 180.8 307.04 182.46 307.5 184.09 307.95 185.68 308.41 187.25 308.86 188.79 309.32 190.29 309.77 191.77 310.23 193.21 310.68 194.63 311.14 196.02 311.59 197.38 312.05 198.72 312.5 200.02 312.96 201.3 313.41 202.56 313.87 203.79 314.32 205 314.78 206.18 315.23 207.34 315.69 208.48 316.14 209.6 316.6 210.7M317.1 168.3 317.56 169.44 318.02 170.57 318.48 171.69 318.94 172.79 319.41 173.87 319.87 174.95 320.33 176.01 320.79 177.05 321.25 178.09 321.71 179.11 322.17 180.11 322.63 181.11 323.09 182.09 323.56 183.06 324.02 184.01 324.48 184.95 324.94 185.88 325.4 186.8 325.86 187.7 326.32 188.59 326.78 189.47 327.24 190.33 327.71 191.18 328.17 192.02 328.63 192.85 329.09 193.67 329.55 194.47 330.01 195.26 330.47 196.04 330.93 196.81 331.39 197.56 331.86 198.31 332.32 199.04 332.78 199.76 333.24 200.47 333.7 201.17 334.16 201.85 334.62 202.53 335.08 203.2 335.54 203.85 336.01 204.5 336.47 205.13 336.93 205.75 337.39 206.37 337.85 206.97 338.31 207.56 338.77 208.15 339.23 208.72 339.69 209.29 340.16 209.85 340.62 210.4 341.08 210.94 341.54 211.47 342 212" stroke="#000" stroke-width="1.35" fill="none" stroke-linejoin="round"/>
<rect x="38.2" y="226.4" width="6.1" height="45.8" fill="#FFB6C1"/>
<rect x="44.1" y="226.4" width="1.7" height="45.8" fill="#6b5a4a"/>
<rect x="45.6" y="226.4" width="4.5" height="45.8" fill="#FF1a0a"/>
<rect x="49.9" y="226.4" width="6.4" height="45.8" fill="#33FF1a"/>
<rect x="56.1" y="226.4" width="3.2" height="45.8" fill="#ADFF2F"/>
<rect x="59.1" y="226.4" width="5.4" height="45.8" fill="#FFFF33"/>
<rect x="64.3" y="226.4" width="4" height="45.8" fill="#8CFFE0"/>
<rect x="68.1" y="226.4" width="6.3" height="45.8" fill="#FFFF33"/>
<rect x="74.2" y="226.4" width="0.5" height="45.8" fill="#d8c860"/>
<rect x="74.5" y="226.4" width="5.5" height="45.8" fill="#FFFF33"/>
<rect x="79.8" y="226.4" width="119.1" height="45.8" fill="#7FFFE0"/>
<rect x="198.7" y="226.4" width="1.9" height="45.8" fill="#FF77AA"/>
<rect x="200.4" y="226.4" width="2.8" height="45.8" fill="#FF22EE"/>
<rect x="203" y="226.4" width="4.6" height="45.8" fill="#33FF1a"/>
<rect x="207.4" y="226.4" width="3.5" height="45.8" fill="#CC33EE"/>
<rect x="210.7" y="226.4" width="2.5" height="45.8" fill="#000"/>
<rect x="213" y="226.4" width="2.2" height="45.8" fill="#2211EE"/>
<rect x="215" y="226.4" width="1.2" height="45.8" fill="#FF1a1a"/>
<rect x="216" y="226.4" width="0.8" height="45.8" fill="#7a20c0"/>
<rect x="216.6" y="226.4" width="2.6" height="45.8" fill="#FF1a1a"/>
<rect x="219" y="226.4" width="7.2" height="45.8" fill="#2a10F5"/>
<rect x="226" y="226.4" width="2.7" height="45.8" fill="#8a2590"/>
<rect x="228.5" y="226.4" width="2.7" height="45.8" fill="#a02a6a"/>
<rect x="231" y="226.4" width="17" height="45.8" fill="#5a20D8"/>
<rect x="247.8" y="226.4" width="13.4" height="45.8" fill="#AA2E30"/>
<rect x="261" y="226.4" width="19.7" height="45.8" fill="#1a0DFF"/>
<rect x="280.5" y="226.4" width="1.7" height="45.8" fill="#000"/>
<rect x="282" y="226.4" width="60.2" height="45.8" fill="#1a0DFF"/>
<rect x="342" y="226.4" width="2" height="45.8" fill="#000"/>
<path d="M233 226.4V272.2M236.5 226.4V272.2M239 226.4V272.2M242 226.4V272.2M245 226.4V272.2" stroke="#7a2ab0" stroke-width=".6"/>
<rect x="38" y="226.4" width="305.9" height="45.8" fill="none" stroke="#555" stroke-width=".5"/>
<text x="8.7" y="251" font-size="4.3">Module colors</text>
</g>
<g id="panel_b">
<text x="365.5" y="18.5" font-size="23">b</text>
<text x="566" y="9.3" font-size="7.6" text-anchor="middle" font-weight="bold">Module-Traits Relationships</text>
<rect x="406.4" y="17.2" width="10.9" height="32.57" fill="#33FF1a"/>
<text x="404.6" y="35.94" font-size="6.3" text-anchor="end">MEgreen</text>
<rect x="419.2" y="17.6" width="17.59" height="32.57" fill="#e5effd"/>
<rect x="436.49" y="17.6" width="17.59" height="32.57" fill="#edf4fe"/>
<rect x="453.78" y="17.6" width="17.59" height="32.57" fill="#edf4fe"/>
<rect x="471.07" y="17.6" width="17.59" height="32.57" fill="#fdfeff"/>
<rect x="488.36" y="17.6" width="17.59" height="32.57" fill="#fcc6ba"/>
<rect x="505.65" y="17.6" width="17.59" height="32.57" fill="#eef5fe"/>
<rect x="522.94" y="17.6" width="17.59" height="32.57" fill="#fee0d9"/>
<rect x="540.23" y="17.6" width="17.59" height="32.57" fill="#eaf2fe"/>
<rect x="557.52" y="17.6" width="17.59" height="32.57" fill="#f5f9fe"/>
<rect x="574.81" y="17.6" width="17.59" height="32.57" fill="#fafcff"/>
<rect x="592.1" y="17.6" width="17.59" height="32.57" fill="#f9fcff"/>
<rect x="609.39" y="17.6" width="17.59" height="32.57" fill="#fffbfa"/>
<rect x="626.68" y="17.6" width="17.59" height="32.57" fill="#fefeff"/>
<rect x="643.97" y="17.6" width="17.59" height="32.57" fill="#fff6f4"/>
<rect x="661.26" y="17.6" width="17.59" height="32.57" fill="#fffaf9"/>
<rect x="678.55" y="17.6" width="17.59" height="32.57" fill="#fff5f3"/>
<rect x="406.4" y="49.87" width="10.9" height="32.57" fill="#1a0DFF"/>
<text x="404.6" y="68.21" font-size="6.3" text-anchor="end">MEblue</text>
<rect x="419.2" y="49.87" width="17.59" height="32.57" fill="#fba38f"/>
<rect x="436.49" y="49.87" width="17.59" height="32.57" fill="#fa927a"/>
<rect x="453.78" y="49.87" width="17.59" height="32.57" fill="#fbae9d"/>
<rect x="471.07" y="49.87" width="17.59" height="32.57" fill="#fcb2a2"/>
<rect x="488.36" y="49.87" width="17.59" height="32.57" fill="#fdd7ce"/>
<rect x="505.65" y="49.87" width="17.59" height="32.57" fill="#f97456"/>
<rect x="522.94" y="49.87" width="17.59" height="32.57" fill="#fdcfc4"/>
<rect x="540.23" y="49.87" width="17.59" height="32.57" fill="#f97456"/>
<rect x="557.52" y="49.87" width="17.59" height="32.57" fill="#fbab99"/>
<rect x="574.81" y="49.87" width="17.59" height="32.57" fill="#fcb2a2"/>
<rect x="592.1" y="49.87" width="17.59" height="32.57" fill="#fbb0a0"/>
<rect x="609.39" y="49.87" width="17.59" height="32.57" fill="#fcb8a9"/>
<rect x="626.68" y="49.87" width="17.59" height="32.57" fill="#fba38f"/>
<rect x="643.97" y="49.87" width="17.59" height="32.57" fill="#fcbaac"/>
<rect x="661.26" y="49.87" width="17.59" height="32.57" fill="#fcb2a2"/>
<rect x="678.55" y="49.87" width="17.59" height="32.57" fill="#f97d61"/>
<rect x="406.4" y="82.14" width="10.9" height="32.57" fill="#A52A2A"/>
<text x="404.6" y="100.48" font-size="6.3" text-anchor="end">MEbrown</text>
<rect x="419.2" y="82.14" width="17.59" height="32.57" fill="#fa886f"/>
<rect x="436.49" y="82.14" width="17.59" height="32.57" fill="#f97f64"/>
<rect x="453.78" y="82.14" width="17.59" height="32.57" fill="#fa8e76"/>
<rect x="471.07" y="82.14" width="17.59" height="32.57" fill="#fa8e76"/>
<rect x="488.36" y="82.14" width="17.59" height="32.57" fill="#fa8e76"/>
<rect x="505.65" y="82.14" width="17.59" height="32.57" fill="#f86b4b"/>
<rect x="522.94" y="82.14" width="17.59" height="32.57" fill="#fa957f"/>
<rect x="540.23" y="82.14" width="17.59" height="32.57" fill="#f86b4b"/>
<rect x="557.52" y="82.14" width="17.59" height="32.57" fill="#fa8a71"/>
<rect x="574.81" y="82.14" width="17.59" height="32.57" fill="#fa8e76"/>
<rect x="592.1" y="82.14" width="17.59" height="32.57" fill="#fa8c73"/>
<rect x="609.39" y="82.14" width="17.59" height="32.57" fill="#fa9078"/>
<rect x="626.68" y="82.14" width="17.59" height="32.57" fill="#f9846a"/>
<rect x="643.97" y="82.14" width="17.59" height="32.57" fill="#fa9078"/>
<rect x="661.26" y="82.14" width="17.59" height="32.57" fill="#fa8c73"/>
<rect x="678.55" y="82.14" width="17.59" height="32.57" fill="#f86b4b"/>
<rect x="406.4" y="114.41" width="10.9" height="32.57" fill="#FF33FF"/>
<text x="404.6" y="132.74" font-size="6.3" text-anchor="end">MEmagenta</text>
<rect x="419.2" y="114.41" width="17.59" height="32.57" fill="#f74e28"/>
<rect x="436.49" y="114.41" width="17.59" height="32.57" fill="#f8603e"/>
<rect x="453.78" y="114.41" width="17.59" height="32.57" fill="#f74c26"/>
<rect x="471.07" y="114.41" width="17.59" height="32.57" fill="#f74f2a"/>
<rect x="488.36" y="114.41" width="17.59" height="32.57" fill="#f8603e"/>
<rect x="505.65" y="114.41" width="17.59" height="32.57" fill="#f9775b"/>
<rect x="522.94" y="114.41" width="17.59" height="32.57" fill="#f75531"/>
<rect x="540.23" y="114.41" width="17.59" height="32.57" fill="#f97658"/>
<rect x="557.52" y="114.41" width="17.59" height="32.57" fill="#f74f2a"/>
<rect x="574.81" y="114.41" width="17.59" height="32.57" fill="#f74f2a"/>
<rect x="592.1" y="114.41" width="17.59" height="32.57" fill="#f74f2a"/>
<rect x="609.39" y="114.41" width="17.59" height="32.57" fill="#f7512c"/>
<rect x="626.68" y="114.41" width="17.59" height="32.57" fill="#f75835"/>
<rect x="643.97" y="114.41" width="17.59" height="32.57" fill="#f7512c"/>
<rect x="661.26" y="114.41" width="17.59" height="32.57" fill="#f7512c"/>
<rect x="678.55" y="114.41" width="17.59" height="32.57" fill="#f97d61"/>
<rect x="406.4" y="146.68" width="10.9" height="32.57" fill="#B22DF0"/>
<text x="404.6" y="165.01" font-size="6.3" text-anchor="end">MEpurple</text>
<rect x="419.2" y="146.68" width="17.59" height="32.57" fill="#f75835"/>
<rect x="436.49" y="146.68" width="17.59" height="32.57" fill="#f87052"/>
<rect x="453.78" y="146.68" width="17.59" height="32.57" fill="#f75733"/>
<rect x="471.07" y="146.68" width="17.59" height="32.57" fill="#f75835"/>
<rect x="488.36" y="146.68" width="17.59" height="32.57" fill="#f74c26"/>
<rect x="505.65" y="146.68" width="17.59" height="32.57" fill="#f9795d"/>
<rect x="522.94" y="146.68" width="17.59" height="32.57" fill="#f75835"/>
<rect x="540.23" y="146.68" width="17.59" height="32.57" fill="#f97b5f"/>
<rect x="557.52" y="146.68" width="17.59" height="32.57" fill="#f75a37"/>
<rect x="574.81" y="146.68" width="17.59" height="32.57" fill="#f75835"/>
<rect x="592.1" y="146.68" width="17.59" height="32.57" fill="#f75a37"/>
<rect x="609.39" y="146.68" width="17.59" height="32.57" fill="#f75a37"/>
<rect x="626.68" y="146.68" width="17.59" height="32.57" fill="#f86140"/>
<rect x="643.97" y="146.68" width="17.59" height="32.57" fill="#f75835"/>
<rect x="661.26" y="146.68" width="17.59" height="32.57" fill="#f75835"/>
<rect x="678.55" y="146.68" width="17.59" height="32.57" fill="#f97b5f"/>
<rect x="406.4" y="178.95" width="10.9" height="32.57" fill="#FF1a0a"/>
<text x="404.6" y="197.28" font-size="6.3" text-anchor="end">MEred</text>
<rect x="419.2" y="178.95" width="17.59" height="32.57" fill="#73acf6"/>
<rect x="436.49" y="178.95" width="17.59" height="32.57" fill="#a2c7f9"/>
<rect x="453.78" y="178.95" width="17.59" height="32.57" fill="#6ea9f6"/>
<rect x="471.07" y="178.95" width="17.59" height="32.57" fill="#73acf6"/>
<rect x="488.36" y="178.95" width="17.59" height="32.57" fill="#67a4f5"/>
<rect x="505.65" y="178.95" width="17.59" height="32.57" fill="#bed9fb"/>
<rect x="522.94" y="178.95" width="17.59" height="32.57" fill="#73acf6"/>
<rect x="540.23" y="178.95" width="17.59" height="32.57" fill="#bed9fb"/>
<rect x="557.52" y="178.95" width="17.59" height="32.57" fill="#77aef6"/>
<rect x="574.81" y="178.95" width="17.59" height="32.57" fill="#73acf6"/>
<rect x="592.1" y="178.95" width="17.59" height="32.57" fill="#77aef6"/>
<rect x="609.39" y="178.95" width="17.59" height="32.57" fill="#75adf6"/>
<rect x="626.68" y="178.95" width="17.59" height="32.57" fill="#87b7f7"/>
<rect x="643.97" y="178.95" width="17.59" height="32.57" fill="#75adf6"/>
<rect x="661.26" y="178.95" width="17.59" height="32.57" fill="#78aff6"/>
<rect x="678.55" y="178.95" width="17.59" height="32.57" fill="#c5ddfb"/>
<rect x="406.4" y="211.22" width="10.9" height="32.57" fill="#7FFFE0"/>
<text x="404.6" y="229.55" font-size="6.3" text-anchor="end">MEturquoise</text>
<rect x="419.2" y="211.22" width="17.59" height="32.57" fill="#70aaf6"/>
<rect x="436.49" y="211.22" width="17.59" height="32.57" fill="#67a4f5"/>
<rect x="453.78" y="211.22" width="17.59" height="32.57" fill="#7ab0f7"/>
<rect x="471.07" y="211.22" width="17.59" height="32.57" fill="#7eb2f7"/>
<rect x="488.36" y="211.22" width="17.59" height="32.57" fill="#9cc4f9"/>
<rect x="505.65" y="211.22" width="17.59" height="32.57" fill="#5398f4"/>
<rect x="522.94" y="211.22" width="17.59" height="32.57" fill="#96c0f8"/>
<rect x="540.23" y="211.22" width="17.59" height="32.57" fill="#5398f4"/>
<rect x="557.52" y="211.22" width="17.59" height="32.57" fill="#77aef6"/>
<rect x="574.81" y="211.22" width="17.59" height="32.57" fill="#7eb2f7"/>
<rect x="592.1" y="211.22" width="17.59" height="32.57" fill="#7cb1f7"/>
<rect x="609.39" y="211.22" width="17.59" height="32.57" fill="#81b4f7"/>
<rect x="626.68" y="211.22" width="17.59" height="32.57" fill="#73acf6"/>
<rect x="643.97" y="211.22" width="17.59" height="32.57" fill="#85b6f7"/>
<rect x="661.26" y="211.22" width="17.59" height="32.57" fill="#7eb2f7"/>
<rect x="678.55" y="211.22" width="17.59" height="32.57" fill="#5d9ef5"/>
<rect x="406.4" y="243.49" width="10.9" height="32.57" fill="#FFFF33"/>
<text x="404.6" y="261.82" font-size="6.3" text-anchor="end">MEyellow</text>
<rect x="419.2" y="243.49" width="17.59" height="32.57" fill="#fdc8bd"/>
<rect x="436.49" y="243.49" width="17.59" height="32.57" fill="#fee9e5"/>
<rect x="453.78" y="243.49" width="17.59" height="32.57" fill="#fcbeb1"/>
<rect x="471.07" y="243.49" width="17.59" height="32.57" fill="#fcbeb1"/>
<rect x="488.36" y="243.49" width="17.59" height="32.57" fill="#fcb6a7"/>
<rect x="505.65" y="243.49" width="17.59" height="32.57" fill="#d8e8fd"/>
<rect x="522.94" y="243.49" width="17.59" height="32.57" fill="#fbb0a0"/>
<rect x="540.23" y="243.49" width="17.59" height="32.57" fill="#dbe9fd"/>
<rect x="557.52" y="243.49" width="17.59" height="32.57" fill="#fcc6ba"/>
<rect x="574.81" y="243.49" width="17.59" height="32.57" fill="#fcbeb1"/>
<rect x="592.1" y="243.49" width="17.59" height="32.57" fill="#fcc0b3"/>
<rect x="609.39" y="243.49" width="17.59" height="32.57" fill="#fcbcae"/>
<rect x="626.68" y="243.49" width="17.59" height="32.57" fill="#fdd3c9"/>
<rect x="643.97" y="243.49" width="17.59" height="32.57" fill="#fcbaac"/>
<rect x="661.26" y="243.49" width="17.59" height="32.57" fill="#fcc2b5"/>
<rect x="678.55" y="243.49" width="17.59" height="32.57" fill="#dbe9fd"/>
<rect x="406.4" y="275.76" width="10.9" height="32.57" fill="#000000"/>
<text x="404.6" y="294.1" font-size="6.3" text-anchor="end">MEblack</text>
<rect x="419.2" y="275.76" width="17.59" height="32.57" fill="#feece8"/>
<rect x="436.49" y="275.76" width="17.59" height="32.57" fill="#fdddd6"/>
<rect x="453.78" y="275.76" width="17.59" height="32.57" fill="#fff8f6"/>
<rect x="471.07" y="275.76" width="17.59" height="32.57" fill="#fafcff"/>
<rect x="488.36" y="275.76" width="17.59" height="32.57" fill="#b4d2fa"/>
<rect x="505.65" y="275.76" width="17.59" height="32.57" fill="#fdcdc2"/>
<rect x="522.94" y="275.76" width="17.59" height="32.57" fill="#d1e3fc"/>
<rect x="540.23" y="275.76" width="17.59" height="32.57" fill="#fdcbbf"/>
<rect x="557.52" y="275.76" width="17.59" height="32.57" fill="#fff7f6"/>
<rect x="574.81" y="275.76" width="17.59" height="32.57" fill="#fffefe"/>
<rect x="592.1" y="275.76" width="17.59" height="32.57" fill="#fffcfb"/>
<rect x="609.39" y="275.76" width="17.59" height="32.57" fill="#f4f8fe"/>
<rect x="626.68" y="275.76" width="17.59" height="32.57" fill="#fef2f0"/>
<rect x="643.97" y="275.76" width="17.59" height="32.57" fill="#eef5fe"/>
<rect x="661.26" y="275.76" width="17.59" height="32.57" fill="#f8fbff"/>
<rect x="678.55" y="275.76" width="17.59" height="32.57" fill="#fddbd4"/>
<rect x="406.4" y="308.03" width="10.9" height="32.57" fill="#F5B8CC"/>
<text x="404.6" y="326.37" font-size="6.3" text-anchor="end">MEpink</text>
<rect x="419.2" y="308.03" width="17.59" height="32.57" fill="#fee4de"/>
<rect x="436.49" y="308.03" width="17.59" height="32.57" fill="#d8e8fd"/>
<rect x="453.78" y="308.03" width="17.59" height="32.57" fill="#fee4de"/>
<rect x="471.07" y="308.03" width="17.59" height="32.57" fill="#fff5f3"/>
<rect x="488.36" y="308.03" width="17.59" height="32.57" fill="#e2eefd"/>
<rect x="505.65" y="308.03" width="17.59" height="32.57" fill="#cce1fc"/>
<rect x="522.94" y="308.03" width="17.59" height="32.57" fill="#e2eefd"/>
<rect x="540.23" y="308.03" width="17.59" height="32.57" fill="#cce1fc"/>
<rect x="557.52" y="308.03" width="17.59" height="32.57" fill="#fff4f2"/>
<rect x="574.81" y="308.03" width="17.59" height="32.57" fill="#fef3f1"/>
<rect x="592.1" y="308.03" width="17.59" height="32.57" fill="#fff7f5"/>
<rect x="609.39" y="308.03" width="17.59" height="32.57" fill="#fffaf9"/>
<rect x="626.68" y="308.03" width="17.59" height="32.57" fill="#ecf4fe"/>
<rect x="643.97" y="308.03" width="17.59" height="32.57" fill="#fdfeff"/>
<rect x="661.26" y="308.03" width="17.59" height="32.57" fill="#fefeff"/>
<rect x="678.55" y="308.03" width="17.59" height="32.57" fill="#b4d2fa"/>
<rect x="406.4" y="340.3" width="10.9" height="32.57" fill="#BEBEBE"/>
<text x="404.6" y="358.64" font-size="6.3" text-anchor="end">MEgrey</text>
<rect x="419.2" y="340.3" width="17.59" height="32.57" fill="#fcc6ba"/>
<rect x="436.49" y="340.3" width="17.59" height="32.57" fill="#fbad9b"/>
<rect x="453.78" y="340.3" width="17.59" height="32.57" fill="#fcc4b8"/>
<rect x="471.07" y="340.3" width="17.59" height="32.57" fill="#fcb8a9"/>
<rect x="488.36" y="340.3" width="17.59" height="32.57" fill="#fcbaac"/>
<rect x="505.65" y="340.3" width="17.59" height="32.57" fill="#fcbaac"/>
<rect x="522.94" y="340.3" width="17.59" height="32.57" fill="#fbad9b"/>
<rect x="540.23" y="340.3" width="17.59" height="32.57" fill="#fcbaac"/>
<rect x="557.52" y="340.3" width="17.59" height="32.57" fill="#fcbcae"/>
<rect x="574.81" y="340.3" width="17.59" height="32.57" fill="#fcbaac"/>
<rect x="592.1" y="340.3" width="17.59" height="32.57" fill="#fcb8a9"/>
<rect x="609.39" y="340.3" width="17.59" height="32.57" fill="#fcb2a2"/>
<rect x="626.68" y="340.3" width="17.59" height="32.57" fill="#fcb2a2"/>
<rect x="643.97" y="340.3" width="17.59" height="32.57" fill="#fcb4a4"/>
<rect x="661.26" y="340.3" width="17.59" height="32.57" fill="#fcb4a4"/>
<rect x="678.55" y="340.3" width="17.59" height="32.57" fill="#fba996"/>
<g font-size="3.95" text-anchor="middle" fill="#000" stroke="#000" stroke-width=".1"><text x="427.84" y="32.73">-0.072</text><text x="427.84" y="37.53">(0.8)</text><text x="445.13" y="32.73">-0.044</text><text x="445.13" y="37.53">(0.88)</text><text x="462.42" y="32.73">-0.044</text><text x="462.42" y="37.53">(0.88)</text><text x="479.71" y="32.73">-0.002</text><text x="479.71" y="37.53">(0.99)</text><text x="497" y="32.73">0.25</text><text x="497" y="37.53">(0.37)</text><text x="514.29" y="32.73">-0.043</text><text x="514.29" y="37.53">(0.88)</text><text x="531.58" y="32.73">0.13</text><text x="531.58" y="37.53">(0.64)</text><text x="548.88" y="32.73">-0.056</text><text x="548.88" y="37.53">(0.84)</text><text x="566.16" y="32.73">-0.02</text><text x="566.16" y="37.53">(0.94)</text><text x="583.45" y="32.73">-0.0094</text><text x="583.45" y="37.53">(0.97)</text><text x="600.74" y="32.73">-0.01</text><text x="600.74" y="37.53">(0.97)</text><text x="618.03" y="32.73">0.015</text><text x="618.03" y="37.53">(0.96)</text><text x="635.32" y="32.73">-9e-04</text><text x="635.32" y="37.53">(1)</text><text x="652.62" y="32.73">0.034</text><text x="652.62" y="37.53">(0.9)</text><text x="669.9" y="32.73">0.017</text><text x="669.9" y="37.53">(0.95)</text><text x="687.19" y="32.73">0.037</text><text x="687.19" y="37.53">(0.9)</text><text x="427.84" y="65.01">0.43</text><text x="427.84" y="69.81">(0.11)</text><text x="445.13" y="65.01">0.52</text><text x="445.13" y="69.81">(0.047)</text><text x="462.42" y="65.01">0.37</text><text x="462.42" y="69.81">(0.17)</text><text x="479.71" y="65.01">0.35</text><text x="479.71" y="69.81">(0.2)</text><text x="497" y="65.01">0.17</text><text x="497" y="69.81">(0.54)</text><text x="514.29" y="65.01">0.68</text><text x="514.29" y="69.81">(0.0053)</text><text x="531.58" y="65.01">0.21</text><text x="531.58" y="69.81">(0.45)</text><text x="548.88" y="65.01">0.68</text><text x="548.88" y="69.81">(0.0053)</text><text x="566.16" y="65.01">0.39</text><text x="566.16" y="69.81">(0.15)</text><text x="583.45" y="65.01">0.35</text><text x="583.45" y="69.81">(0.2)</text><text x="600.74" y="65.01">0.36</text><text x="600.74" y="69.81">(0.19)</text><text x="618.03" y="65.01">0.32</text><text x="618.03" y="69.81">(0.24)</text><text x="635.32" y="65.01">0.43</text><text x="635.32" y="69.81">(0.11)</text><text x="652.62" y="65.01">0.31</text><text x="652.62" y="69.81">(0.26)</text><text x="669.9" y="65.01">0.35</text><text x="669.9" y="69.81">(0.2)</text><text x="687.19" y="65.01">0.63</text><text x="687.19" y="69.81">(0.012)</text><text x="427.84" y="97.28">0.57</text><text x="427.84" y="102.08">(0.027)</text><text x="445.13" y="97.28">0.62</text><text x="445.13" y="102.08">(0.014)</text><text x="462.42" y="97.28">0.54</text><text x="462.42" y="102.08">(0.038)</text><text x="479.71" y="97.28">0.54</text><text x="479.71" y="102.08">(0.038)</text><text x="497" y="97.28">0.54</text><text x="497" y="102.08">(0.038)</text><text x="514.29" y="97.28">0.73</text><text x="514.29" y="102.08">(0.002)</text><text x="531.58" y="97.28">0.5</text><text x="531.58" y="102.08">(0.058)</text><text x="548.88" y="97.28">0.73</text><text x="548.88" y="102.08">(0.002)</text><text x="566.16" y="97.28">0.56</text><text x="566.16" y="102.08">(0.03)</text><text x="583.45" y="97.28">0.54</text><text x="583.45" y="102.08">(0.038)</text><text x="600.74" y="97.28">0.55</text><text x="600.74" y="102.08">(0.034)</text><text x="618.03" y="97.28">0.53</text><text x="618.03" y="102.08">(0.042)</text><text x="635.32" y="97.28">0.59</text><text x="635.32" y="102.08">(0.021)</text><text x="652.62" y="97.28">0.53</text><text x="652.62" y="102.08">(0.042)</text><text x="669.9" y="97.28">0.55</text><text x="669.9" y="102.08">(0.034)</text><text x="687.19" y="97.28">0.73</text><text x="687.19" y="102.08">(0.002)</text><text x="427.84" y="129.54">0.89</text><text x="427.84" y="134.34">(8.8e-06)</text><text x="445.13" y="129.54">0.79</text><text x="445.13" y="134.34">(6e-04)</text><text x="462.42" y="129.54">0.9</text><text x="462.42" y="134.34">(4.8e-06)</text><text x="479.71" y="129.54">0.88</text><text x="479.71" y="134.34">(1.3e-05)</text><text x="497" y="129.54">0.79</text><text x="497" y="134.34">(0.00048)</text><text x="514.29" y="129.54">0.66</text><text x="514.29" y="134.34">(0.0074)</text><text x="531.58" y="129.54">0.85</text><text x="531.58" y="134.34">(6e-05)</text><text x="548.88" y="129.54">0.67</text><text x="548.88" y="134.34">(0.0063)</text><text x="566.16" y="129.54">0.88</text><text x="566.16" y="134.34">(1.3e-05)</text><text x="583.45" y="129.54">0.88</text><text x="583.45" y="134.34">(1.3e-05)</text><text x="600.74" y="129.54">0.88</text><text x="600.74" y="134.34">(1.3e-05)</text><text x="618.03" y="129.54">0.87</text><text x="618.03" y="134.34">(2.5e-05)</text><text x="635.32" y="129.54">0.83</text><text x="635.32" y="134.34">(0.00013)</text><text x="652.62" y="129.54">0.87</text><text x="652.62" y="134.34">(2.5e-05)</text><text x="669.9" y="129.54">0.87</text><text x="669.9" y="134.34">(2.5e-05)</text><text x="687.19" y="129.54">0.63</text><text x="687.19" y="134.34">(0.012)</text><text x="427.84" y="161.81">0.83</text><text x="427.84" y="166.62">(0.00013)</text><text x="445.13" y="161.81">0.7</text><text x="445.13" y="166.62">(0.0037)</text><text x="462.42" y="161.81">0.84</text><text x="462.42" y="166.62">(8.9e-05)</text><text x="479.71" y="161.81">0.83</text><text x="479.71" y="166.62">(0.00013)</text><text x="497" y="161.81">0.9</text><text x="497" y="166.62">(4.9e-06)</text><text x="514.29" y="161.81">0.65</text><text x="514.29" y="166.62">(0.0087)</text><text x="531.58" y="161.81">0.83</text><text x="531.58" y="166.62">(0.00013)</text><text x="548.88" y="161.81">0.64</text><text x="548.88" y="166.62">(0.01)</text><text x="566.16" y="161.81">0.82</text><text x="566.16" y="166.62">(0.00018)</text><text x="583.45" y="161.81">0.83</text><text x="583.45" y="166.62">(0.00013)</text><text x="600.74" y="161.81">0.82</text><text x="600.74" y="166.62">(0.00018)</text><text x="618.03" y="161.81">0.82</text><text x="618.03" y="166.62">(0.00018)</text><text x="635.32" y="161.81">0.78</text><text x="635.32" y="166.62">(6e-04)</text><text x="652.62" y="161.81">0.83</text><text x="652.62" y="166.62">(0.00013)</text><text x="669.9" y="161.81">0.83</text><text x="669.9" y="166.62">(0.00013)</text><text x="687.19" y="161.81">0.64</text><text x="687.19" y="166.62">(0.01)</text><text x="427.84" y="194.09">-0.62</text><text x="427.84" y="198.89">(0.014)</text><text x="445.13" y="194.09">-0.37</text><text x="445.13" y="198.89">(0.17)</text><text x="462.42" y="194.09">-0.65</text><text x="462.42" y="198.89">(0.0087)</text><text x="479.71" y="194.09">-0.62</text><text x="479.71" y="198.89">(0.014)</text><text x="497" y="194.09">-0.69</text><text x="497" y="198.89">(0.0044)</text><text x="514.29" y="194.09">-0.23</text><text x="514.29" y="198.89">(0.41)</text><text x="531.58" y="194.09">-0.62</text><text x="531.58" y="198.89">(0.014)</text><text x="548.88" y="194.09">-0.23</text><text x="548.88" y="198.89">(0.41)</text><text x="566.16" y="194.09">-0.6</text><text x="566.16" y="198.89">(0.018)</text><text x="583.45" y="194.09">-0.62</text><text x="583.45" y="198.89">(0.014)</text><text x="600.74" y="194.09">-0.6</text><text x="600.74" y="198.89">(0.018)</text><text x="618.03" y="194.09">-0.61</text><text x="618.03" y="198.89">(0.016)</text><text x="635.32" y="194.09">-0.51</text><text x="635.32" y="198.89">(0.052)</text><text x="652.62" y="194.09">-0.61</text><text x="652.62" y="198.89">(0.016)</text><text x="669.9" y="194.09">-0.59</text><text x="669.9" y="198.89">(0.021)</text><text x="687.19" y="194.09">-0.2</text><text x="687.19" y="198.89">(0.47)</text><text x="427.84" y="226.35">-0.64</text><text x="427.84" y="231.16">(0.01)</text><text x="445.13" y="226.35">-0.69</text><text x="445.13" y="231.16">(0.0053)</text><text x="462.42" y="226.35">-0.58</text><text x="462.42" y="231.16">(0.023)</text><text x="479.71" y="226.35">-0.56</text><text x="479.71" y="231.16">(0.03)</text><text x="497" y="226.35">-0.4</text><text x="497" y="231.16">(0.14)</text><text x="514.29" y="226.35">-0.81</text><text x="514.29" y="231.16">(0.00028)</text><text x="531.58" y="226.35">-0.43</text><text x="531.58" y="231.16">(0.11)</text><text x="548.88" y="226.35">-0.81</text><text x="548.88" y="231.16">(0.00025)</text><text x="566.16" y="226.35">-0.6</text><text x="566.16" y="231.16">(0.018)</text><text x="583.45" y="226.35">-0.56</text><text x="583.45" y="231.16">(0.03)</text><text x="600.74" y="226.35">-0.57</text><text x="600.74" y="231.16">(0.027)</text><text x="618.03" y="226.35">-0.54</text><text x="618.03" y="231.16">(0.038)</text><text x="635.32" y="226.35">-0.62</text><text x="635.32" y="231.16">(0.014)</text><text x="652.62" y="226.35">-0.52</text><text x="652.62" y="231.16">(0.047)</text><text x="669.9" y="226.35">-0.56</text><text x="669.9" y="231.16">(0.03)</text><text x="687.19" y="226.35">-0.75</text><text x="687.19" y="231.16">(0.0013)</text><text x="427.84" y="258.62">0.24</text><text x="427.84" y="263.43">(0.39)</text><text x="445.13" y="258.62">0.086</text><text x="445.13" y="263.43">(0.76)</text><text x="462.42" y="258.62">0.29</text><text x="462.42" y="263.43">(0.29)</text><text x="479.71" y="258.62">0.29</text><text x="479.71" y="263.43">(0.29)</text><text x="497" y="258.62">0.33</text><text x="497" y="263.43">(0.23)</text><text x="514.29" y="258.62">-0.12</text><text x="514.29" y="263.43">(0.67)</text><text x="531.58" y="258.62">0.36</text><text x="531.58" y="263.43">(0.19)</text><text x="548.88" y="258.62">-0.11</text><text x="548.88" y="263.43">(0.7)</text><text x="566.16" y="258.62">0.25</text><text x="566.16" y="263.43">(0.37)</text><text x="583.45" y="258.62">0.29</text><text x="583.45" y="263.43">(0.29)</text><text x="600.74" y="258.62">0.28</text><text x="600.74" y="263.43">(0.31)</text><text x="618.03" y="258.62">0.3</text><text x="618.03" y="263.43">(0.28)</text><text x="635.32" y="258.62">0.19</text><text x="635.32" y="263.43">(0.5)</text><text x="652.62" y="258.62">0.31</text><text x="652.62" y="263.43">(0.26)</text><text x="669.9" y="258.62">0.27</text><text x="669.9" y="263.43">(0.33)</text><text x="687.19" y="258.62">-0.11</text><text x="687.19" y="263.43">(0.7)</text><text x="427.84" y="290.9">0.074</text><text x="427.84" y="295.7">(0.79)</text><text x="445.13" y="290.9">0.14</text><text x="445.13" y="295.7">(0.62)</text><text x="462.42" y="290.9">0.025</text><text x="462.42" y="295.7">(0.93)</text><text x="479.71" y="290.9">-0.0086</text><text x="479.71" y="295.7">(0.98)</text><text x="497" y="290.9">-0.28</text><text x="497" y="295.7">(0.31)</text><text x="514.29" y="290.9">0.22</text><text x="514.29" y="295.7">(0.43)</text><text x="531.58" y="290.9">-0.15</text><text x="531.58" y="295.7">(0.59)</text><text x="548.88" y="290.9">0.23</text><text x="548.88" y="295.7">(0.41)</text><text x="566.16" y="290.9">0.027</text><text x="566.16" y="295.7">(0.92)</text><text x="583.45" y="290.9">0.0015</text><text x="583.45" y="295.7">(1)</text><text x="600.74" y="290.9">0.011</text><text x="600.74" y="295.7">(0.97)</text><text x="618.03" y="290.9">-0.025</text><text x="618.03" y="295.7">(0.93)</text><text x="635.32" y="290.9">0.047</text><text x="635.32" y="295.7">(0.87)</text><text x="652.62" y="290.9">-0.043</text><text x="652.62" y="295.7">(0.88)</text><text x="669.9" y="290.9">-0.013</text><text x="669.9" y="295.7">(0.96)</text><text x="687.19" y="290.9">0.15</text><text x="687.19" y="295.7">(0.59)</text><text x="427.84" y="323.17">0.11</text><text x="427.84" y="327.97">(0.7)</text><text x="445.13" y="323.17">-0.12</text><text x="445.13" y="327.97">(0.67)</text><text x="462.42" y="323.17">0.11</text><text x="462.42" y="327.97">(0.7)</text><text x="479.71" y="323.17">0.036</text><text x="479.71" y="327.97">(0.9)</text><text x="497" y="323.17">-0.081</text><text x="497" y="327.97">(0.77)</text><text x="514.29" y="323.17">-0.17</text><text x="514.29" y="327.97">(0.54)</text><text x="531.58" y="323.17">-0.082</text><text x="531.58" y="327.97">(0.77)</text><text x="548.88" y="323.17">-0.17</text><text x="548.88" y="327.97">(0.54)</text><text x="566.16" y="323.17">0.039</text><text x="566.16" y="327.97">(0.89)</text><text x="583.45" y="323.17">0.044</text><text x="583.45" y="327.97">(0.88)</text><text x="600.74" y="323.17">0.028</text><text x="600.74" y="327.97">(0.92)</text><text x="618.03" y="323.17">0.017</text><text x="618.03" y="327.97">(0.95)</text><text x="635.32" y="323.17">-0.048</text><text x="635.32" y="327.97">(0.87)</text><text x="652.62" y="323.17">-0.0025</text><text x="652.62" y="327.97">(0.99)</text><text x="669.9" y="323.17">-0.0016</text><text x="669.9" y="327.97">(1)</text><text x="687.19" y="323.17">-0.28</text><text x="687.19" y="327.97">(0.31)</text><text x="427.84" y="355.44">0.25</text><text x="427.84" y="360.24">(0.37)</text><text x="445.13" y="355.44">0.38</text><text x="445.13" y="360.24">(0.16)</text><text x="462.42" y="355.44">0.26</text><text x="462.42" y="360.24">(0.35)</text><text x="479.71" y="355.44">0.32</text><text x="479.71" y="360.24">(0.24)</text><text x="497" y="355.44">0.31</text><text x="497" y="360.24">(0.26)</text><text x="514.29" y="355.44">0.31</text><text x="514.29" y="360.24">(0.26)</text><text x="531.58" y="355.44">0.38</text><text x="531.58" y="360.24">(0.16)</text><text x="548.88" y="355.44">0.31</text><text x="548.88" y="360.24">(0.26)</text><text x="566.16" y="355.44">0.3</text><text x="566.16" y="360.24">(0.28)</text><text x="583.45" y="355.44">0.31</text><text x="583.45" y="360.24">(0.26)</text><text x="600.74" y="355.44">0.32</text><text x="600.74" y="360.24">(0.24)</text><text x="618.03" y="355.44">0.35</text><text x="618.03" y="360.24">(0.2)</text><text x="635.32" y="355.44">0.35</text><text x="635.32" y="360.24">(0.2)</text><text x="652.62" y="355.44">0.34</text><text x="652.62" y="360.24">(0.22)</text><text x="669.9" y="355.44">0.34</text><text x="669.9" y="360.24">(0.22)</text><text x="687.19" y="355.44">0.4</text><text x="687.19" y="360.24">(0.14)</text></g>
<rect x="418.9" y="17.3" width="277.54" height="355.57" fill="none" stroke="#222" stroke-width=".7"/>
<text x="429.64" y="378.8" font-size="6.3" text-anchor="end" transform="rotate(-45 429.64 378.8)">KMW0505</text>
<text x="446.94" y="378.8" font-size="6.3" text-anchor="end" transform="rotate(-45 446.94 378.8)">XMW0471</text>
<text x="464.22" y="378.8" font-size="6.3" text-anchor="end" transform="rotate(-45 464.22 378.8)">XMW0951</text>
<text x="481.51" y="378.8" font-size="6.3" text-anchor="end" transform="rotate(-45 481.51 378.8)">XMW1478</text>
<text x="498.81" y="378.8" font-size="6.3" text-anchor="end" transform="rotate(-45 498.81 378.8)">WMW0059</text>
<text x="516.09" y="378.8" font-size="6.3" text-anchor="end" transform="rotate(-45 516.09 378.8)">XMW0689</text>
<text x="533.38" y="378.8" font-size="6.3" text-anchor="end" transform="rotate(-45 533.38 378.8)">XMW1223</text>
<text x="550.67" y="378.8" font-size="6.3" text-anchor="end" transform="rotate(-45 550.67 378.8)">XMW1381</text>
<text x="567.96" y="378.8" font-size="6.3" text-anchor="end" transform="rotate(-45 567.96 378.8)">D238</text>
<text x="585.25" y="378.8" font-size="6.3" text-anchor="end" transform="rotate(-45 585.25 378.8)">KMW0613</text>
<text x="602.54" y="378.8" font-size="6.3" text-anchor="end" transform="rotate(-45 602.54 378.8)">WMW0007</text>
<text x="619.83" y="378.8" font-size="6.3" text-anchor="end" transform="rotate(-45 619.83 378.8)">XMW0264</text>
<text x="637.12" y="378.8" font-size="6.3" text-anchor="end" transform="rotate(-45 637.12 378.8)">D244</text>
<text x="654.41" y="378.8" font-size="6.3" text-anchor="end" transform="rotate(-45 654.41 378.8)">HMW0240</text>
<text x="671.7" y="378.8" font-size="6.3" text-anchor="end" transform="rotate(-45 671.7 378.8)">XMW0812</text>
<text x="688.99" y="378.8" font-size="6.3" text-anchor="end" transform="rotate(-45 688.99 378.8)">KMW0323</text>
<defs><linearGradient id="bwr" x1="0" y1="0" x2="0" y2="1"><stop offset="0" stop-color="#f63a10"/><stop offset=".25" stop-color="#f9917a"/><stop offset=".5" stop-color="#fff"/><stop offset=".75" stop-color="#8fbdf7"/><stop offset="1" stop-color="#3a8af2"/></linearGradient></defs>
<rect x="699.4" y="38" width="5.7" height="312.9" fill="url(#bwr)" stroke="#222" stroke-width=".4"/>
<text x="708.8" y="40.6" font-size="6.3">1</text>
<text x="708.8" y="118.7" font-size="6.3">0.5</text>
<text x="708.8" y="196.8" font-size="6.3">0</text>
<text x="708.8" y="275.2" font-size="6.3">-0.5</text>
<text x="708.8" y="353.5" font-size="6.3">-1</text>
<path d="M705.1 38h2.2M705.1 116.1h2.2M705.1 194.2h2.2M705.1 272.6h2.2M705.1 350.9h2.2" stroke="#222" stroke-width=".5"/>
</g>
<g id="panel_c">
<text x="4.5" y="293" font-size="23">c</text>
<text x="191.5" y="295.3" font-size="5.4" text-anchor="middle" font-weight="bold">magenta</text>
<rect x="47.9" y="300.2" width="284.7" height="46" fill="#0a0f05"/>
<path d="M59.41 298.6v1.6M78.25 298.6v1.6M97.07 298.6v1.6M115.91 298.6v1.6M134.73 298.6v1.6M153.56 298.6v1.6M172.39 298.6v1.6M191.22 298.6v1.6M210.05 298.6v1.6M228.88 298.6v1.6M247.71 298.6v1.6M266.55 298.6v1.6M285.38 298.6v1.6M304.2 298.6v1.6M323.04 298.6v1.6" stroke="#333" stroke-width=".4"/>
<path d="M50 300.56h18.98M238.3 313.5h18.98M257.13 314.93h18.98M68.83 315.65h18.98M219.47 316.37h18.98M219.47 317.09h18.98M219.47 317.81h18.98M68.83 319.97h18.98M219.47 320.68h18.98M219.47 321.4h18.98M125.32 325h18.98M238.3 325h18.98M68.83 327.15h18.98M87.66 327.87h18.98M68.83 330.75h18.98M68.83 331.47h18.98M219.47 331.47h18.98M68.83 332.9h18.98M106.49 335.78h18.98M257.13 339.37h18.98M50 343.68h18.98" stroke="#2a5a0f" stroke-width="0.77" fill="none"/>
<path d="M68.83 300.56h18.98M219.47 302h18.98M50 303.43h18.98M275.96 304.87h18.98M87.66 319.97h18.98M106.49 321.4h18.98M294.79 329.31h18.98M87.66 332.18h18.98M87.66 337.22h18.98M87.66 338.65h18.98M219.47 341.53h18.98M50 342.97h18.98" stroke="#2a7e0f" stroke-width="0.77" fill="none"/>
<path d="M87.66 300.56h18.98M238.3 302h18.98M257.13 302h18.98M68.83 303.43h18.98M87.66 303.43h18.98M50 305.59h18.98M219.47 306.31h18.98M257.13 307.03h18.98M68.83 309.18h18.98M238.3 309.18h18.98M125.32 309.9h18.98M238.3 309.9h18.98M219.47 310.62h18.98M219.47 311.34h18.98M87.66 314.93h18.98M106.49 315.65h18.98M257.13 316.37h18.98M50 318.53h18.98M68.83 318.53h18.98M106.49 320.68h18.98M125.32 321.4h18.98M144.15 322.12h18.98M219.47 322.84h18.98M68.83 324.28h18.98M144.15 325h18.98M144.15 326.43h18.98M257.13 327.15h18.98M68.83 330.03h18.98M238.3 330.03h18.98M257.13 330.75h18.98M144.15 331.47h18.98M257.13 332.18h18.98M125.32 335.78h18.98M219.47 335.78h18.98M50 337.22h18.98M50 339.37h18.98M125.32 339.37h18.98M125.32 340.09h18.98M219.47 340.09h18.98M257.13 340.09h18.98M144.15 342.97h18.98M68.83 343.68h18.98M219.47 343.68h18.98M219.47 344.4h18.98M144.15 345.84h18.98" stroke="#1e420f" stroke-width="0.77" fill="none"/>
<path d="M106.49 300.56h18.98M257.13 301.28h18.98M219.47 302.72h18.98M125.32 304.87h18.98M219.47 304.87h18.98M125.32 305.59h18.98M144.15 307.03h18.98M87.66 309.18h18.98M125.32 310.62h18.98M219.47 314.22h18.98M125.32 314.93h18.98M125.32 318.53h18.98M257.13 318.53h18.98M106.49 324.28h18.98M257.13 324.28h18.98M125.32 326.43h18.98M144.15 328.59h18.98M219.47 328.59h18.98M219.47 329.31h18.98M106.49 330.75h18.98M238.3 334.34h18.98M87.66 337.93h18.98M219.47 337.93h18.98M257.13 340.81h18.98M257.13 342.25h18.98" stroke="#2a1203" stroke-width="0.77" fill="none"/>
<path d="M125.32 300.56h18.98M219.47 300.56h18.98M238.3 304.15h18.98M50 304.87h18.98M68.83 304.87h18.98M144.15 305.59h18.98M257.13 305.59h18.98M238.3 306.31h18.98M257.13 306.31h18.98M68.83 307.75h18.98M219.47 307.75h18.98M219.47 309.18h18.98M257.13 309.18h18.98M50 314.93h18.98M238.3 317.81h18.98M257.13 317.81h18.98M238.3 319.25h18.98M125.32 319.97h18.98M125.32 322.12h18.98M68.83 326.43h18.98M87.66 326.43h18.98M68.83 327.87h18.98M125.32 328.59h18.98M257.13 329.31h18.98M257.13 330.03h18.98M50 330.75h18.98M125.32 330.75h18.98M144.15 332.9h18.98M144.15 336.5h18.98M219.47 339.37h18.98M68.83 340.81h18.98M125.32 343.68h18.98M238.3 343.68h18.98M106.49 344.4h18.98M144.15 344.4h18.98M50 345.12h18.98M257.13 345.12h18.98" stroke="#121e03" stroke-width="0.77" fill="none"/>
<path d="M144.15 300.56h18.98M68.83 301.28h18.98M125.32 302h18.98M219.47 303.43h18.98M238.3 305.59h18.98M68.83 307.03h18.98M87.66 307.03h18.98M106.49 307.03h18.98M257.13 307.75h18.98M50 308.47h18.98M144.15 308.47h18.98M219.47 308.47h18.98M238.3 308.47h18.98M50 309.18h18.98M125.32 311.34h18.98M257.13 311.34h18.98M257.13 315.65h18.98M50 317.81h18.98M106.49 319.97h18.98M50 326.43h18.98M219.47 327.15h18.98M219.47 327.87h18.98M257.13 327.87h18.98M68.83 328.59h18.98M106.49 328.59h18.98M144.15 330.75h18.98M106.49 331.47h18.98M238.3 332.9h18.98M68.83 334.34h18.98M144.15 339.37h18.98M238.3 339.37h18.98M144.15 340.09h18.98M238.3 340.09h18.98M144.15 341.53h18.98M238.3 341.53h18.98M238.3 342.25h18.98M238.3 342.97h18.98M144.15 343.68h18.98M257.13 343.68h18.98M125.32 345.84h18.98" stroke="#122a03" stroke-width="0.77" fill="none"/>
<path d="M162.98 300.56h18.98M200.64 300.56h18.98M162.98 303.43h18.98M181.81 303.43h18.98M200.64 303.43h18.98M162.98 304.15h18.98M200.64 304.87h18.98M181.81 305.59h18.98M162.98 306.31h18.98M200.64 306.31h18.98M162.98 307.03h18.98M200.64 307.03h18.98M181.81 311.34h18.98M200.64 311.34h18.98M200.64 314.93h18.98M181.81 315.65h18.98M200.64 315.65h18.98M181.81 320.68h18.98M181.81 321.4h18.98M162.98 322.12h18.98M200.64 322.84h18.98M162.98 323.56h18.98M162.98 329.31h18.98M200.64 329.31h18.98M181.81 330.03h18.98M200.64 330.03h18.98M162.98 330.75h18.98M181.81 330.75h18.98M162.98 332.18h18.98M200.64 334.34h18.98M162.98 335.06h18.98M200.64 335.06h18.98M162.98 335.78h18.98M181.81 335.78h18.98M162.98 336.5h18.98M181.81 338.65h18.98M162.98 340.09h18.98M200.64 340.09h18.98M200.64 343.68h18.98M200.64 344.4h18.98M200.64 345.84h18.98" stroke="#ae1e0f" stroke-width="0.77" fill="none"/>
<path d="M181.81 300.56h18.98M181.81 301.28h18.98M200.64 302.72h18.98M162.98 304.87h18.98M162.98 305.59h18.98M181.81 307.03h18.98M181.81 313.5h18.98M200.64 314.22h18.98M200.64 318.53h18.98M162.98 319.25h18.98M181.81 324.28h18.98M200.64 324.28h18.98M162.98 325.72h18.98M181.81 326.43h18.98M200.64 326.43h18.98M181.81 331.47h18.98M200.64 331.47h18.98M162.98 334.34h18.98M200.64 337.93h18.98M200.64 340.81h18.98M181.81 343.68h18.98" stroke="#d21e0f" stroke-width="0.77" fill="none"/>
<path d="M238.3 300.56h18.98M50 301.28h18.98M144.15 302h18.98M106.49 303.43h18.98M238.3 303.43h18.98M257.13 303.43h18.98M125.32 304.15h18.98M219.47 305.59h18.98M87.66 306.31h18.98M257.13 308.47h18.98M144.15 311.34h18.98M68.83 314.93h18.98M106.49 314.93h18.98M144.15 314.93h18.98M144.15 315.65h18.98M68.83 317.81h18.98M68.83 319.25h18.98M87.66 319.25h18.98M257.13 319.25h18.98M50 320.68h18.98M238.3 320.68h18.98M106.49 322.12h18.98M50 327.87h18.98M50 328.59h18.98M50 332.9h18.98M219.47 332.9h18.98M257.13 332.9h18.98M87.66 345.12h18.98M238.3 345.12h18.98M106.49 345.84h18.98M257.13 345.84h18.98" stroke="#123603" stroke-width="0.77" fill="none"/>
<path d="M257.13 300.56h18.98M87.66 301.28h18.98M219.47 301.28h18.98M125.32 303.43h18.98M50 306.31h18.98M106.49 306.31h18.98M125.32 306.31h18.98M106.49 308.47h18.98M106.49 310.62h18.98M238.3 311.34h18.98M219.47 314.93h18.98M125.32 315.65h18.98M87.66 318.53h18.98M219.47 319.25h18.98M238.3 319.97h18.98M50 324.28h18.98M106.49 326.43h18.98M238.3 327.15h18.98M238.3 329.31h18.98M238.3 330.75h18.98M125.32 331.47h18.98M257.13 331.47h18.98M144.15 332.18h18.98M106.49 332.9h18.98M50 334.34h18.98M238.3 340.81h18.98M219.47 342.25h18.98" stroke="#121203" stroke-width="0.77" fill="none"/>
<path d="M275.96 300.56h18.98M275.96 301.28h18.98M313.62 301.28h18.98M275.96 302h18.98M294.79 304.87h18.98M275.96 305.59h18.98M294.79 305.59h18.98M313.62 305.59h18.98M294.79 306.31h18.98M294.79 308.47h18.98M313.62 308.47h18.98M275.96 309.9h18.98M275.96 310.62h18.98M275.96 312.06h18.98M275.96 313.5h18.98M294.79 316.37h18.98M275.96 317.81h18.98M275.96 318.53h18.98M294.79 319.97h18.98M275.96 320.68h18.98M313.62 320.68h18.98M275.96 322.12h18.98M313.62 322.12h18.98M275.96 324.28h18.98M313.62 324.28h18.98M68.83 325h18.98M313.62 326.43h18.98M294.79 328.59h18.98M313.62 329.31h18.98M294.79 330.75h18.98M313.62 332.18h18.98M275.96 332.9h18.98M313.62 332.9h18.98M275.96 334.34h18.98M313.62 334.34h18.98M275.96 335.78h18.98M50 338.65h18.98M275.96 340.09h18.98M294.79 340.09h18.98M313.62 340.81h18.98M313.62 342.97h18.98M275.96 343.68h18.98M275.96 344.4h18.98M313.62 344.4h18.98M313.62 345.12h18.98M313.62 345.84h18.98" stroke="#42ae1b" stroke-width="0.77" fill="none"/>
<path d="M294.79 300.56h18.98M313.62 302h18.98M313.62 303.43h18.98M313.62 306.31h18.98M275.96 308.47h18.98M313.62 309.9h18.98M294.79 310.62h18.98M313.62 310.62h18.98M275.96 311.34h18.98M275.96 312.78h18.98M294.79 313.5h18.98M275.96 314.22h18.98M294.79 314.22h18.98M275.96 314.93h18.98M313.62 315.65h18.98M275.96 316.37h18.98M313.62 317.09h18.98M313.62 317.81h18.98M294.79 318.53h18.98M294.79 320.68h18.98M313.62 321.4h18.98M294.79 322.12h18.98M275.96 323.56h18.98M294.79 325h18.98M275.96 325.72h18.98M294.79 325.72h18.98M275.96 327.15h18.98M294.79 327.15h18.98M294.79 327.87h18.98M313.62 327.87h18.98M275.96 328.59h18.98M275.96 330.03h18.98M294.79 330.03h18.98M275.96 330.75h18.98M275.96 331.47h18.98M313.62 331.47h18.98M275.96 332.18h18.98M313.62 333.62h18.98M294.79 334.34h18.98M294.79 335.06h18.98M313.62 335.06h18.98M275.96 336.5h18.98M294.79 336.5h18.98M275.96 337.22h18.98M313.62 337.22h18.98M294.79 339.37h18.98M313.62 340.09h18.98M294.79 343.68h18.98M275.96 345.12h18.98" stroke="#42ba1b" stroke-width="0.77" fill="none"/>
<path d="M313.62 300.56h18.98M294.79 312.78h18.98M313.62 313.5h18.98M313.62 316.37h18.98M275.96 319.25h18.98M313.62 319.97h18.98M313.62 322.84h18.98M275.96 326.43h18.98M294.79 333.62h18.98M294.79 337.22h18.98M313.62 341.53h18.98M275.96 345.84h18.98M294.79 345.84h18.98" stroke="#4ed21b" stroke-width="0.77" fill="none"/>
<path d="M106.49 301.28h18.98M125.32 301.28h18.98M68.83 302.72h18.98M87.66 302.72h18.98M106.49 304.15h18.98M106.49 309.18h18.98M106.49 313.5h18.98M144.15 316.37h18.98M144.15 324.28h18.98M219.47 324.28h18.98M238.3 324.28h18.98M238.3 326.43h18.98M106.49 327.15h18.98M125.32 327.87h18.98M144.15 327.87h18.98M238.3 328.59h18.98M87.66 329.31h18.98M125.32 334.34h18.98M50 337.93h18.98M106.49 338.65h18.98M144.15 338.65h18.98M106.49 339.37h18.98M144.15 342.25h18.98M125.32 342.97h18.98M125.32 345.12h18.98" stroke="#361203" stroke-width="0.77" fill="none"/>
<path d="M144.15 301.28h18.98M238.3 301.28h18.98M144.15 307.75h18.98M125.32 309.18h18.98M125.32 313.5h18.98M144.15 313.5h18.98M238.3 314.22h18.98M106.49 316.37h18.98M125.32 316.37h18.98M106.49 318.53h18.98M144.15 318.53h18.98M106.49 319.25h18.98M125.32 319.25h18.98M144.15 319.25h18.98M125.32 324.28h18.98M125.32 325.72h18.98M144.15 325.72h18.98M238.3 325.72h18.98M125.32 327.15h18.98M144.15 327.15h18.98M106.49 327.87h18.98M68.83 329.31h18.98M106.49 330.03h18.98M125.32 330.03h18.98M106.49 334.34h18.98M144.15 334.34h18.98M257.13 334.34h18.98M125.32 335.06h18.98M144.15 335.06h18.98M106.49 337.22h18.98M125.32 337.22h18.98M144.15 337.22h18.98M106.49 337.93h18.98M144.15 337.93h18.98M257.13 337.93h18.98M125.32 338.65h18.98M106.49 340.81h18.98" stroke="#421203" stroke-width="0.77" fill="none"/>
<path d="M162.98 301.28h18.98M162.98 302.72h18.98M181.81 304.15h18.98M181.81 307.75h18.98M200.64 307.75h18.98M200.64 309.18h18.98M181.81 319.25h18.98M200.64 319.25h18.98M162.98 327.87h18.98M181.81 327.87h18.98M181.81 332.9h18.98M200.64 336.5h18.98M181.81 337.93h18.98M181.81 340.09h18.98M200.64 342.25h18.98" stroke="#de1e1b" stroke-width="0.77" fill="none"/>
<path d="M200.64 301.28h18.98M200.64 305.59h18.98M200.64 308.47h18.98M162.98 311.34h18.98M162.98 314.22h18.98M181.81 314.22h18.98M181.81 316.37h18.98M162.98 320.68h18.98M162.98 324.28h18.98M200.64 325.72h18.98M162.98 326.43h18.98M200.64 327.87h18.98M181.81 329.31h18.98M181.81 332.18h18.98M200.64 332.18h18.98M200.64 333.62h18.98M181.81 336.5h18.98M181.81 339.37h18.98M162.98 340.81h18.98M181.81 340.81h18.98M181.81 342.25h18.98M162.98 345.12h18.98M181.81 345.12h18.98M200.64 345.12h18.98" stroke="#c61e0f" stroke-width="0.77" fill="none"/>
<path d="M294.79 301.28h18.98M275.96 302.72h18.98M313.62 304.15h18.98M275.96 306.31h18.98M313.62 307.03h18.98M294.79 309.18h18.98M313.62 314.22h18.98M313.62 314.93h18.98M313.62 319.25h18.98M313.62 325.72h18.98M275.96 333.62h18.98M294.79 335.78h18.98M294.79 338.65h18.98M294.79 342.25h18.98" stroke="#36a21b" stroke-width="0.77" fill="none"/>
<path d="M50 302h18.98M87.66 308.47h18.98M68.83 309.9h18.98M87.66 310.62h18.98M68.83 311.34h18.98M87.66 313.5h18.98M257.13 321.4h18.98M257.13 322.84h18.98M50 325h18.98M238.3 331.47h18.98M219.47 332.18h18.98M87.66 335.06h18.98M219.47 335.06h18.98M238.3 335.06h18.98M68.83 335.78h18.98M68.83 336.5h18.98M68.83 337.22h18.98M257.13 337.22h18.98M87.66 339.37h18.98M87.66 341.53h18.98M106.49 341.53h18.98M257.13 341.53h18.98M219.47 342.97h18.98M257.13 344.4h18.98M87.66 345.84h18.98M219.47 345.84h18.98" stroke="#2a720f" stroke-width="0.77" fill="none"/>
<path d="M68.83 302h18.98M87.66 302h18.98M106.49 302h18.98M257.13 304.15h18.98M50 307.03h18.98M87.66 307.75h18.98M87.66 309.9h18.98M219.47 312.06h18.98M238.3 312.06h18.98M50 313.5h18.98M219.47 313.5h18.98M238.3 314.93h18.98M238.3 315.65h18.98M68.83 316.37h18.98M238.3 316.37h18.98M50 317.09h18.98M106.49 317.09h18.98M87.66 317.81h18.98M219.47 318.53h18.98M50 319.25h18.98M257.13 319.97h18.98M87.66 322.12h18.98M238.3 322.12h18.98M257.13 323.56h18.98M219.47 325h18.98M219.47 326.43h18.98M257.13 326.43h18.98M87.66 327.15h18.98M257.13 328.59h18.98M87.66 330.03h18.98M219.47 330.75h18.98M68.83 332.18h18.98M106.49 332.18h18.98M125.32 332.18h18.98M238.3 332.18h18.98M87.66 332.9h18.98M87.66 334.34h18.98M257.13 335.06h18.98M106.49 336.5h18.98M125.32 336.5h18.98M238.3 336.5h18.98M238.3 338.65h18.98M50 340.09h18.98M68.83 340.09h18.98M87.66 342.97h18.98M257.13 342.97h18.98M106.49 343.68h18.98M125.32 344.4h18.98M238.3 344.4h18.98M68.83 345.84h18.98M238.3 345.84h18.98" stroke="#1e4e0f" stroke-width="0.77" fill="none"/>
<path d="M162.98 302h18.98M162.98 307.75h18.98M162.98 308.47h18.98M162.98 309.18h18.98M181.81 309.9h18.98M181.81 310.62h18.98M200.64 310.62h18.98M162.98 312.06h18.98M200.64 312.06h18.98M162.98 313.5h18.98M200.64 313.5h18.98M181.81 314.93h18.98M181.81 317.09h18.98M181.81 317.81h18.98M162.98 318.53h18.98M200.64 319.97h18.98M162.98 325h18.98M181.81 325h18.98M162.98 332.9h18.98M162.98 333.62h18.98M200.64 337.22h18.98M200.64 338.65h18.98M200.64 339.37h18.98M162.98 342.25h18.98M200.64 342.97h18.98M162.98 344.4h18.98" stroke="#a21e0f" stroke-width="0.77" fill="none"/>
<path d="M181.81 302h18.98M200.64 302h18.98M181.81 302.72h18.98M200.64 304.15h18.98M181.81 309.18h18.98M162.98 309.9h18.98M162.98 310.62h18.98M181.81 312.06h18.98M200.64 312.78h18.98M162.98 314.93h18.98M162.98 316.37h18.98M200.64 316.37h18.98M162.98 317.09h18.98M200.64 317.09h18.98M162.98 317.81h18.98M200.64 317.81h18.98M181.81 318.53h18.98M162.98 319.97h18.98M200.64 320.68h18.98M162.98 321.4h18.98M181.81 322.12h18.98M200.64 322.12h18.98M200.64 323.56h18.98M181.81 325.72h18.98M162.98 327.15h18.98M181.81 327.15h18.98M200.64 327.15h18.98M162.98 328.59h18.98M181.81 328.59h18.98M200.64 328.59h18.98M162.98 330.03h18.98M162.98 331.47h18.98M200.64 332.9h18.98M181.81 333.62h18.98M181.81 337.22h18.98M162.98 339.37h18.98M181.81 341.53h18.98M162.98 342.97h18.98M162.98 343.68h18.98M181.81 344.4h18.98M181.81 345.84h18.98" stroke="#ba1e0f" stroke-width="0.77" fill="none"/>
<path d="M294.79 302h18.98M294.79 304.15h18.98M313.62 312.78h18.98M275.96 321.4h18.98M294.79 321.4h18.98M294.79 322.84h18.98M294.79 323.56h18.98M275.96 325h18.98M275.96 335.06h18.98M313.62 335.78h18.98M313.62 338.65h18.98M294.79 341.53h18.98M313.62 343.68h18.98" stroke="#4ede27" stroke-width="0.77" fill="none"/>
<path d="M50 302.72h18.98M144.15 302.72h18.98M144.15 304.87h18.98M125.32 312.06h18.98M219.47 312.78h18.98M50 314.22h18.98M106.49 314.22h18.98M125.32 314.22h18.98" stroke="#4e120f" stroke-width="0.77" fill="none"/>
<path d="M106.49 302.72h18.98M50 312.06h18.98M106.49 312.06h18.98M238.3 312.78h18.98M257.13 312.78h18.98M125.32 323.56h18.98M106.49 329.31h18.98M125.32 329.31h18.98M144.15 329.31h18.98M68.83 333.62h18.98M87.66 333.62h18.98M106.49 333.62h18.98M238.3 333.62h18.98M257.13 333.62h18.98M125.32 337.93h18.98M238.3 337.93h18.98M125.32 340.81h18.98M106.49 342.25h18.98" stroke="#66120f" stroke-width="0.77" fill="none"/>
<path d="M125.32 302.72h18.98M257.13 302.72h18.98M238.3 304.87h18.98M257.13 304.87h18.98M125.32 307.75h18.98M50 329.31h18.98M50 333.62h18.98M125.32 333.62h18.98M144.15 333.62h18.98" stroke="#5a120f" stroke-width="0.77" fill="none"/>
<path d="M238.3 302.72h18.98M144.15 304.15h18.98M87.66 304.87h18.98M106.49 305.59h18.98M144.15 306.31h18.98M238.3 307.03h18.98M106.49 307.75h18.98M144.15 310.62h18.98M125.32 317.09h18.98M125.32 317.81h18.98M144.15 317.81h18.98M125.32 320.68h18.98M219.47 325.72h18.98M238.3 327.87h18.98M219.47 330.03h18.98M125.32 332.9h18.98M68.83 337.93h18.98M50 340.81h18.98M219.47 340.81h18.98M68.83 342.25h18.98M125.32 342.25h18.98M106.49 345.12h18.98M144.15 345.12h18.98M219.47 345.12h18.98" stroke="#1e1203" stroke-width="0.77" fill="none"/>
<path d="M294.79 302.72h18.98M50 311.34h18.98M68.83 313.5h18.98M87.66 325h18.98M68.83 335.06h18.98M68.83 344.4h18.98" stroke="#367e0f" stroke-width="0.77" fill="none"/>
<path d="M313.62 302.72h18.98M294.79 309.9h18.98M313.62 311.34h18.98M294.79 312.06h18.98M294.79 317.09h18.98M313.62 323.56h18.98M313.62 330.03h18.98M313.62 330.75h18.98M275.96 338.65h18.98M275.96 339.37h18.98M313.62 339.37h18.98M275.96 342.97h18.98" stroke="#4ec61b" stroke-width="0.77" fill="none"/>
<path d="M144.15 303.43h18.98M50 304.15h18.98M68.83 306.31h18.98M68.83 310.62h18.98M238.3 310.62h18.98M87.66 311.34h18.98M50 315.65h18.98M87.66 315.65h18.98M219.47 315.65h18.98M87.66 316.37h18.98M68.83 317.09h18.98M144.15 317.09h18.98M257.13 317.09h18.98M87.66 320.68h18.98M238.3 323.56h18.98M87.66 325.72h18.98M87.66 328.59h18.98M144.15 335.78h18.98M87.66 336.5h18.98M68.83 338.65h18.98M68.83 339.37h18.98M68.83 345.12h18.98" stroke="#1e5a0f" stroke-width="0.77" fill="none"/>
<path d="M275.96 303.43h18.98M294.79 303.43h18.98M275.96 304.15h18.98M294.79 307.03h18.98M294.79 311.34h18.98M294.79 315.65h18.98M275.96 317.09h18.98M294.79 319.25h18.98M275.96 319.97h18.98M275.96 322.84h18.98M313.62 325h18.98M275.96 329.31h18.98M294.79 331.47h18.98M294.79 332.18h18.98M294.79 332.9h18.98M313.62 336.5h18.98M275.96 341.53h18.98M294.79 342.97h18.98M294.79 344.4h18.98M294.79 345.12h18.98" stroke="#42c61b" stroke-width="0.77" fill="none"/>
<path d="M68.83 304.15h18.98M219.47 304.15h18.98M50 307.75h18.98M125.32 308.47h18.98M106.49 311.34h18.98M106.49 317.81h18.98M238.3 318.53h18.98M50 325.72h18.98M68.83 325.72h18.98M125.32 341.53h18.98M87.66 342.25h18.98M68.83 342.97h18.98" stroke="#1e3603" stroke-width="0.77" fill="none"/>
<path d="M87.66 304.15h18.98M68.83 305.59h18.98M87.66 305.59h18.98M68.83 308.47h18.98M50 309.9h18.98M219.47 309.9h18.98M257.13 309.9h18.98M257.13 310.62h18.98M257.13 312.06h18.98M257.13 313.5h18.98M87.66 317.09h18.98M238.3 317.09h18.98M50 319.97h18.98M219.47 319.97h18.98M68.83 320.68h18.98M144.15 320.68h18.98M50 321.4h18.98M144.15 321.4h18.98M50 322.12h18.98M68.83 322.12h18.98M238.3 322.84h18.98M219.47 323.56h18.98M87.66 324.28h18.98M106.49 325h18.98M257.13 325h18.98M50 327.15h18.98M87.66 330.75h18.98M87.66 331.47h18.98M50 332.18h18.98M87.66 335.78h18.98M257.13 335.78h18.98M50 336.5h18.98M219.47 336.5h18.98M219.47 337.22h18.98M238.3 337.22h18.98M257.13 338.65h18.98M87.66 340.09h18.98M106.49 340.09h18.98M50 341.53h18.98M106.49 342.97h18.98M87.66 343.68h18.98M50 344.4h18.98M87.66 344.4h18.98M50 345.84h18.98" stroke="#2a660f" stroke-width="0.77" fill="none"/>
<path d="M106.49 304.87h18.98M125.32 312.78h18.98M125.32 322.84h18.98M106.49 323.56h18.98" stroke="#721e0f" stroke-width="0.77" fill="none"/>
<path d="M181.81 304.87h18.98" stroke="#ea1e1b" stroke-width="0.77" fill="none"/>
<path d="M313.62 304.87h18.98M294.79 307.75h18.98M275.96 309.18h18.98M294.79 314.93h18.98M275.96 315.65h18.98M87.66 321.4h18.98M294.79 324.28h18.98M313.62 328.59h18.98M275.96 337.93h18.98M294.79 337.93h18.98M219.47 338.65h18.98M275.96 342.25h18.98M313.62 342.25h18.98" stroke="#36961b" stroke-width="0.77" fill="none"/>
<path d="M181.81 306.31h18.98M181.81 308.47h18.98" stroke="#d21e1b" stroke-width="0.77" fill="none"/>
<path d="M125.32 307.03h18.98M238.3 307.75h18.98M144.15 309.18h18.98M257.13 314.22h18.98M106.49 325.72h18.98M144.15 330.03h18.98M219.47 333.62h18.98M106.49 335.06h18.98M87.66 340.81h18.98" stroke="#4e1203" stroke-width="0.77" fill="none"/>
<path d="M219.47 307.03h18.98M106.49 309.9h18.98M144.15 309.9h18.98M50 316.37h18.98M144.15 319.97h18.98M257.13 320.68h18.98M238.3 321.4h18.98M219.47 322.12h18.98M257.13 322.12h18.98M257.13 325.72h18.98M50 330.03h18.98M50 331.47h18.98M219.47 334.34h18.98M238.3 335.78h18.98M257.13 336.5h18.98M144.15 340.81h18.98M50 342.25h18.98" stroke="#1e360f" stroke-width="0.77" fill="none"/>
<path d="M275.96 307.03h18.98M275.96 307.75h18.98M313.62 309.18h18.98M294.79 317.81h18.98M294.79 326.43h18.98M275.96 327.87h18.98" stroke="#42a21b" stroke-width="0.77" fill="none"/>
<path d="M313.62 307.75h18.98M50 310.62h18.98M313.62 318.53h18.98M68.83 321.4h18.98M313.62 327.15h18.98M50 335.78h18.98M313.62 337.93h18.98M275.96 340.81h18.98M294.79 340.81h18.98M68.83 341.53h18.98" stroke="#368a1b" stroke-width="0.77" fill="none"/>
<path d="M200.64 309.9h18.98M87.66 312.78h18.98M181.81 312.78h18.98M162.98 315.65h18.98M106.49 322.84h18.98M162.98 322.84h18.98M181.81 322.84h18.98M181.81 323.56h18.98M200.64 325h18.98M200.64 330.75h18.98M181.81 335.06h18.98M162.98 338.65h18.98M162.98 341.53h18.98M181.81 342.97h18.98" stroke="#961e0f" stroke-width="0.77" fill="none"/>
<path d="M68.83 312.06h18.98M50 312.78h18.98M106.49 312.78h18.98M181.81 319.97h18.98M200.64 321.4h18.98M68.83 322.84h18.98M87.66 322.84h18.98M144.15 322.84h18.98M50 323.56h18.98M68.83 323.56h18.98M162.98 337.22h18.98" stroke="#8a1e0f" stroke-width="0.77" fill="none"/>
<path d="M87.66 312.06h18.98M144.15 312.78h18.98M162.98 312.78h18.98M68.83 314.22h18.98M50 322.84h18.98M87.66 323.56h18.98M144.15 323.56h18.98M200.64 335.78h18.98M200.64 341.53h18.98" stroke="#7e1e0f" stroke-width="0.77" fill="none"/>
<path d="M144.15 312.06h18.98M68.83 312.78h18.98M87.66 314.22h18.98M144.15 314.22h18.98M162.98 345.84h18.98" stroke="#72120f" stroke-width="0.77" fill="none"/>
<path d="M313.62 312.06h18.98" stroke="#4ed227" stroke-width="0.77" fill="none"/>
<path d="M181.81 334.34h18.98M162.98 337.93h18.98" stroke="#ea2a1b" stroke-width="0.77" fill="none"/>
<path d="M50 335.06h18.98" stroke="#368a0f" stroke-width="0.77" fill="none"/>
<rect x="47.9" y="300.2" width="284.7" height="46" fill="none" stroke="#111" stroke-width=".5"/>
<defs><linearGradient id="rkg" x1="0" y1="0" x2="0" y2="1"><stop offset="0" stop-color="#e0201a"/><stop offset=".2" stop-color="#b01a14"/><stop offset=".5" stop-color="#0c0c06"/><stop offset=".8" stop-color="#2f9a1a"/><stop offset="1" stop-color="#55ee2a"/></linearGradient></defs>
<rect x="336.3" y="301.2" width="4.5" height="44.4" fill="url(#rkg)"/>
<text x="342" y="305.2" font-size="5.6">high</text>
<text x="342" y="344.6" font-size="5.6">low</text>
<path d="M37.5 348V386.8M35.5 348h2M35.5 357.7h2M35.5 367.4h2M35.5 377.1h2M35.5 386.8h2" stroke="#222" stroke-width=".45" fill="none"/>
<text x="33.6" y="348" font-size="3.6" text-anchor="middle" transform="rotate(-90 33.6 348)">0.4</text>
<text x="33.6" y="357.65" font-size="3.6" text-anchor="middle" transform="rotate(-90 33.6 357.65)">0.2</text>
<text x="33.6" y="367.3" font-size="3.6" text-anchor="middle" transform="rotate(-90 33.6 367.3)">0.0</text>
<text x="33.6" y="376.9" font-size="3.6" text-anchor="middle" transform="rotate(-90 33.6 376.9)">-0.2</text>
<text x="33.6" y="386.5" font-size="3.6" text-anchor="middle" transform="rotate(-90 33.6 386.5)">-0.4</text>
<rect x="49.1" y="367.3" width="15.8" height="1.93" fill="#ff33ff" stroke="#5a2a5a" stroke-width=".4"/>
<text x="57" y="394.7" font-size="3.7" text-anchor="middle">F1-1</text>
<rect x="68.08" y="367.3" width="15.8" height="1.93" fill="#ff33ff" stroke="#5a2a5a" stroke-width=".4"/>
<text x="75.98" y="394.7" font-size="3.7" text-anchor="middle">F1-2</text>
<rect x="87.06" y="367.3" width="15.8" height="1.44" fill="#ff33ff" stroke="#5a2a5a" stroke-width=".4"/>
<text x="94.96" y="394.7" font-size="3.7" text-anchor="middle">F1-3</text>
<rect x="106.04" y="366.1" width="15.8" height="1.2" fill="#ff33ff" stroke="#5a2a5a" stroke-width=".4"/>
<text x="113.94" y="394.7" font-size="3.7" text-anchor="middle">F2-1</text>
<rect x="125.02" y="364.65" width="15.8" height="2.65" fill="#ff33ff" stroke="#5a2a5a" stroke-width=".4"/>
<text x="132.92" y="394.7" font-size="3.7" text-anchor="middle">F2-2</text>
<rect x="144" y="366.34" width="15.8" height="0.96" fill="#ff33ff" stroke="#5a2a5a" stroke-width=".4"/>
<text x="151.9" y="394.7" font-size="3.7" text-anchor="middle">F2-3</text>
<rect x="162.98" y="348.05" width="15.8" height="19.25" fill="#ff33ff" stroke="#5a2a5a" stroke-width=".4"/>
<text x="170.88" y="394.7" font-size="3.7" text-anchor="middle">F3-1</text>
<rect x="181.96" y="348.05" width="15.8" height="19.25" fill="#ff33ff" stroke="#5a2a5a" stroke-width=".4"/>
<text x="189.86" y="394.7" font-size="3.7" text-anchor="middle">F3-2</text>
<rect x="200.94" y="348.05" width="15.8" height="19.25" fill="#ff33ff" stroke="#5a2a5a" stroke-width=".4"/>
<text x="208.84" y="394.7" font-size="3.7" text-anchor="middle">F3-3</text>
<rect x="219.92" y="367.3" width="15.8" height="1.93" fill="#ff33ff" stroke="#5a2a5a" stroke-width=".4"/>
<text x="227.82" y="394.7" font-size="3.7" text-anchor="middle">F4-1</text>
<rect x="238.9" y="367.3" width="15.8" height="1.2" fill="#ff33ff" stroke="#5a2a5a" stroke-width=".4"/>
<text x="246.8" y="394.7" font-size="3.7" text-anchor="middle">F4-2</text>
<rect x="257.88" y="367.3" width="15.8" height="0.96" fill="#ff33ff" stroke="#5a2a5a" stroke-width=".4"/>
<text x="265.78" y="394.7" font-size="3.7" text-anchor="middle">F4-3</text>
<rect x="276.86" y="367.3" width="15.8" height="19.25" fill="#ff33ff" stroke="#5a2a5a" stroke-width=".4"/>
<text x="284.76" y="394.7" font-size="3.7" text-anchor="middle">F5-1</text>
<rect x="295.84" y="367.3" width="15.8" height="19.25" fill="#ff33ff" stroke="#5a2a5a" stroke-width=".4"/>
<text x="303.74" y="394.7" font-size="3.7" text-anchor="middle">F5-2</text>
<rect x="314.82" y="367.3" width="15.8" height="19.25" fill="#ff33ff" stroke="#5a2a5a" stroke-width=".4"/>
<text x="322.72" y="394.7" font-size="3.7" text-anchor="middle">F5-3</text>
<text x="190.5" y="402.3" font-size="3.7" text-anchor="middle">array sample</text>
</g>
<g id="panel_d">
<text x="4" y="446" font-size="23">d</text>
<path d="M221 514.5L234.5 480.5M221 514.5L225.5 629.8M221 514.5L224 598.8M221 514.5L147 518.5M221 514.5L211.3 468.8M221 514.5L202 622M221 514.5L206 566M221 514.5L248.2 605.2M221 514.5L188.5 487M221 514.5L159.4 614.6M221 514.5L159.6 643.7M221 514.5L179.3 585.4M234.5 480.5L174 520.5M234.5 480.5L136.5 567M234.5 480.5L252 506M234.5 480.5L211.3 468.8M234.5 480.5L162.5 556.5M234.5 480.5L188.5 487M234.5 480.5L179.3 585.4M226.5 543L136.5 567M226.5 543L225.5 629.8M226.5 543L224 598.8M226.5 543L130.6 595.2M226.5 543L211.3 468.8M226.5 543L163.5 491.5M226.5 543L202 622M226.5 543L291 542M226.5 543L162.5 556.5M226.5 543L275 524M226.5 543L248.2 605.2M226.5 543L188.5 487M226.5 543L159.4 614.6M226.5 543L159.6 643.7M226.5 543L179.3 585.4M226.5 543L103.5 566.5M174 520.5L136.5 567M174 520.5L224 598.8M174 520.5L147 518.5M174 520.5L211.3 468.8M174 520.5L163.5 491.5M174 520.5L206 566M174 520.5L126.5 500.5M174 520.5L188.5 487M174 520.5L159.6 643.7M174 520.5L179.3 585.4M136.5 567L224 598.8M136.5 567L252 506M136.5 567L60 561M136.5 567L147 518.5M136.5 567L211.3 468.8M136.5 567L163.5 491.5M136.5 567L202 622M136.5 567L250.5 579M136.5 567L188.5 487M136.5 567L159.4 614.6M136.5 567L159.6 643.7M136.5 567L179.3 585.4M225.5 629.8L256.7 668.6M225.5 629.8L188.5 487M225.5 629.8L159.6 643.7M225.5 629.8L179.3 585.4M224 598.8L147 518.5M224 598.8L211.3 468.8M224 598.8L163.5 491.5M224 598.8L159.4 614.6M224 598.8L159.6 643.7M224 598.8L179.3 585.4M252 506L147 518.5M252 506L162.5 556.5M252 506L188.5 487M252 506L179.3 585.4M130.6 595.2L60 600.2M130.6 595.2L206 566M130.6 595.2L159.6 643.7M130.6 595.2L179.3 585.4M93.4 613.6L159.6 643.7M93.4 613.6L179.3 585.4M263.4 448.8L179.3 585.4M139.6 465.3L122.3 437.3M139.6 465.3L162.5 556.5M139.6 465.3L187 544M139.6 465.3L179.3 585.4M103 506.5L147 518.5M103 506.5L162.5 556.5M103 506.5L179.3 585.4M291.5 486L179.3 585.4M305 562.5L278.5 568.5M305 562.5L206 566M147 518.5L211.3 468.8M147 518.5L202 622M147 518.5L250.5 579M147 518.5L159.6 643.7M147 518.5L179.3 585.4M211.3 468.8L202 622M211.3 468.8L250.5 579M211.3 468.8L206 566M211.3 468.8L162.5 556.5M211.3 468.8L187 544M211.3 468.8L248.2 605.2M211.3 468.8L188.5 487M211.3 468.8L159.4 614.6M211.3 468.8L179.3 585.4M194.3 687.8L179.3 585.4M149.6 720.6L159.6 643.7M163.5 491.5L202 622M163.5 491.5L206 566M163.5 491.5L187 544M163.5 491.5L159.4 614.6M163.5 491.5L179.3 585.4M278.5 568.5L206 566M278.5 568.5L162.5 556.5M278.5 568.5L179.3 585.4M202 622L250.5 579M202 622L187 544M202 622L159.4 614.6M202 622L159.6 643.7M202 622L179.3 585.4M224.2 674.3L179.3 585.4M132.8 673.6L111.2 707M132.8 673.6L159.6 643.7M250.5 579L206 566M250.5 579L162.5 556.5M250.5 579L284.6 601.7M250.5 579L188.5 487M250.5 579L159.6 643.7M250.5 579L179.3 585.4M86.1 643.5L179.3 585.4M123.5 538L187 544M123.5 538L179.3 585.4M282.8 641.3L179.3 585.4M119.5 640.4L164.2 689.4M119.5 640.4L76.3 693.6M119.5 640.4L111.2 707M119.5 640.4L159.6 643.7M119.5 640.4L179.3 585.4M206 566L188.5 487M206 566L159.4 614.6M206 566L159.6 643.7M206 566L179.3 585.4M206 566L103.5 566.5M164.2 689.4L159.6 643.7M164.2 689.4L179.3 585.4M162.5 556.5L260 553.5M162.5 556.5L159.6 643.7M162.5 556.5L179.3 585.4M187 544L260 553.5M187 544L188.5 487M187 544L159.4 614.6M187 544L159.6 643.7M187 544L179.3 585.4M260 553.5L179.3 585.4M188.5 445L188.5 487M76.3 693.6L159.6 643.7M126.5 500.5L179.3 585.4M248.2 605.2L284.6 601.7M248.2 605.2L159.6 643.7M248.2 605.2L179.3 585.4M188.5 487L159.4 614.6M188.5 487L179.3 585.4M159.4 614.6L159.6 643.7M159.4 614.6L179.3 585.4M159.6 643.7L179.3 585.4M179.3 585.4L103.5 566.5M179.3 585.4L87.5 537" stroke="#979797" stroke-width=".75" fill="none"/>
<circle cx="122.3" cy="437.3" r="10.1" fill="#a9d6f7"/>
<circle cx="188.5" cy="445" r="10.1" fill="#a9d6f7"/>
<circle cx="263.4" cy="448.8" r="10.1" fill="#a9d6f7"/>
<circle cx="139.6" cy="465.3" r="10.1" fill="#a9d6f7"/>
<circle cx="211.3" cy="468.8" r="10.2" fill="#ff2414"/>
<circle cx="234.5" cy="480.5" r="10.1" fill="#a9d6f7"/>
<circle cx="291.5" cy="486" r="10.1" fill="#a9d6f7"/>
<circle cx="188.5" cy="487" r="10.1" fill="#a9d6f7"/>
<circle cx="163.5" cy="491.5" r="10.1" fill="#a9d6f7"/>
<circle cx="126.5" cy="500.5" r="10.1" fill="#a9d6f7"/>
<circle cx="103" cy="506.5" r="10.1" fill="#a9d6f7"/>
<circle cx="252" cy="506" r="10.1" fill="#a9d6f7"/>
<circle cx="221" cy="514.5" r="10.1" fill="#a9d6f7"/>
<circle cx="147" cy="518.5" r="10.1" fill="#a9d6f7"/>
<circle cx="174" cy="520.5" r="10.1" fill="#a9d6f7"/>
<circle cx="275" cy="524" r="10.1" fill="#a9d6f7"/>
<circle cx="87.5" cy="537" r="10.1" fill="#a9d6f7"/>
<circle cx="123.5" cy="538" r="10.1" fill="#a9d6f7"/>
<circle cx="187" cy="544" r="10.1" fill="#a9d6f7"/>
<circle cx="226.5" cy="543" r="10.1" fill="#a9d6f7"/>
<circle cx="291" cy="542" r="10.1" fill="#a9d6f7"/>
<circle cx="260" cy="553.5" r="10.1" fill="#a9d6f7"/>
<circle cx="162.5" cy="556.5" r="10.1" fill="#a9d6f7"/>
<circle cx="60" cy="561" r="10.1" fill="#a9d6f7"/>
<circle cx="103.5" cy="566.5" r="10.1" fill="#a9d6f7"/>
<circle cx="136.5" cy="567" r="10.1" fill="#a9d6f7"/>
<circle cx="206" cy="566" r="10.1" fill="#a9d6f7"/>
<circle cx="305" cy="562.5" r="10.1" fill="#a9d6f7"/>
<circle cx="278.5" cy="568.5" r="10.1" fill="#a9d6f7"/>
<circle cx="250.5" cy="579" r="10.1" fill="#a9d6f7"/>
<circle cx="179.3" cy="585.4" r="11.3" fill="#ff2414"/>
<circle cx="130.6" cy="595.2" r="10.1" fill="#a9d6f7"/>
<circle cx="60" cy="600.2" r="10.1" fill="#a9d6f7"/>
<circle cx="224" cy="598.8" r="10.1" fill="#a9d6f7"/>
<circle cx="248.2" cy="605.2" r="10.1" fill="#a9d6f7"/>
<circle cx="284.6" cy="601.7" r="10.1" fill="#a9d6f7"/>
<circle cx="93.4" cy="613.6" r="10.1" fill="#a9d6f7"/>
<circle cx="159.4" cy="614.6" r="10.1" fill="#a9d6f7"/>
<circle cx="202" cy="622" r="10.1" fill="#a9d6f7"/>
<circle cx="225.5" cy="629.8" r="10.1" fill="#a9d6f7"/>
<circle cx="119.5" cy="640.4" r="10.1" fill="#a9d6f7"/>
<circle cx="159.6" cy="643.7" r="11.3" fill="#ff2414"/>
<circle cx="86.1" cy="643.5" r="10.1" fill="#a9d6f7"/>
<circle cx="282.8" cy="641.3" r="10.1" fill="#a9d6f7"/>
<circle cx="256.7" cy="668.6" r="10.1" fill="#a9d6f7"/>
<circle cx="224.2" cy="674.3" r="10.1" fill="#a9d6f7"/>
<circle cx="132.8" cy="673.6" r="10.1" fill="#a9d6f7"/>
<circle cx="194.3" cy="687.8" r="10.1" fill="#a9d6f7"/>
<circle cx="164.2" cy="689.4" r="10.1" fill="#a9d6f7"/>
<circle cx="76.3" cy="693.6" r="10.1" fill="#a9d6f7"/>
<circle cx="111.2" cy="707" r="10.1" fill="#a9d6f7"/>
<circle cx="149.6" cy="720.6" r="10.1" fill="#a9d6f7"/>
<g font-size="5.9" text-anchor="middle" fill="#1a1a1a"><text x="122.3" y="439.4">PSA1A</text><text x="188.5" y="447.1">SAP12</text><text x="263.4" y="450.9">FIGL1</text><text x="139.6" y="467.4">G2OX1</text><text x="211.3" y="470.9" fill="#8a1a10">HSP90</text><text x="234.5" y="482.6">ACAP1</text><text x="291.5" y="488.1">GLGL3</text><text x="188.5" y="489.1">UCH3</text><text x="163.5" y="493.6">HT17377</text><text x="126.5" y="502.6">SSBP</text><text x="103" y="508.6">GIS2</text><text x="252" y="508.1">CYPR4</text><text x="221" y="516.6">AB12G</text><text x="147" y="520.6">HSP70</text><text x="174" y="522.6">ASP36</text><text x="275" y="526.1">PSB5</text><text x="87.5" y="539.1">sHSP</text><text x="123.5" y="540.1">NAC6</text><text x="187" y="546.1">PSA7</text><text x="226.5" y="545.1">AOX1</text><text x="291" y="544.1">JMT2</text><text x="260" y="555.6">PSB5</text><text x="162.5" y="558.6">PSA4</text><text x="60" y="563.1">GMK2</text><text x="103.5" y="568.6">Y8359</text><text x="136.5" y="569.1">BGAL6</text><text x="206" y="568.1">P2C63</text><text x="305" y="564.6">GRC11</text><text x="278.5" y="570.6">HT17630</text><text x="250.5" y="581.1">MTND1</text><text x="179.3" y="587.5" fill="#8a1a10">WRKY53</text><text x="130.6" y="597.3">DRE1B</text><text x="60" y="602.3">HT15401</text><text x="224" y="600.9">CXE5</text><text x="248.2" y="607.3">SUI11</text><text x="284.6" y="603.8">TPS6</text><text x="93.4" y="615.7">DUF1681</text><text x="159.4" y="616.7">WNK1</text><text x="202" y="624.1">HT29885</text><text x="225.5" y="631.9">BGLC</text><text x="119.5" y="642.5">P2C25</text><text x="159.6" y="645.8" fill="#8a1a10">WRKY41</text><text x="86.1" y="645.6">MYB108</text><text x="282.8" y="643.4">NUD26</text><text x="256.7" y="670.7">HIP26</text><text x="224.2" y="676.4">IPCS2</text><text x="132.8" y="675.7">MAOC</text><text x="194.3" y="689.9">HT10093</text><text x="164.2" y="691.5">PS10B</text><text x="76.3" y="695.7">SDE5</text><text x="111.2" y="709.1">WRKY33</text><text x="149.6" y="722.7">HT14867</text></g>
</g>
<g id="panel_e">
<text x="365.5" y="446" font-size="23">e</text>
<path d="M408.92 511.64A151 151 0 0 1 469.72 450.42L472.49 455.52A145.2 145.2 0 0 0 414.03 514.39Z" fill="#c6dcf2"/>
<path d="M418.26 516.65A140.4 140.4 0 0 1 474.79 459.73L489.2 486.16A110.3 110.3 0 0 0 444.79 530.88Z" fill="#cfe3f6"/>
<text x="427.13" y="470.9" font-size="8.7" text-anchor="middle" font-weight="bold" transform="rotate(314.3 427.13 470.9)" dominant-baseline="central">GroupII-d</text>
<path d="M469.72 450.42A151 151 0 0 1 568.22 434.29L567.21 440.01A145.2 145.2 0 0 0 472.49 455.52Z" fill="#cfead0"/>
<path d="M474.79 459.73A140.4 140.4 0 0 1 566.38 444.73L561.15 474.38A110.3 110.3 0 0 0 489.2 486.16Z" fill="#d6edd3"/>
<text x="523.06" y="424.13" font-size="8.7" text-anchor="middle" font-weight="bold" transform="rotate(353.2 523.06 424.13)" dominant-baseline="central">GroupII-e</text>
<path d="M568.22 434.29A151 151 0 0 1 692.93 578.26L687.13 578.44A145.2 145.2 0 0 0 567.21 440.01Z" fill="#efc4cc"/>
<path d="M566.38 444.73A140.4 140.4 0 0 1 682.33 578.59L652.25 579.54A110.3 110.3 0 0 0 561.15 474.38Z" fill="#f1cbd2"/>
<text x="673.75" y="495.79" font-size="8.7" text-anchor="middle" font-weight="bold" transform="rotate(56.5 673.75 495.79)" dominant-baseline="central">GroupIII</text>
<path d="M692.93 578.26A151 151 0 0 1 689.19 616.71L683.54 615.42A145.2 145.2 0 0 0 687.13 578.44Z" fill="#f0cc9c"/>
<path d="M682.33 578.59A140.4 140.4 0 0 1 678.86 614.34L649.52 607.62A110.3 110.3 0 0 0 652.25 579.54Z" fill="#f2cfa2"/>
<text x="702.34" y="597.59" font-size="8.7" text-anchor="middle" font-weight="bold" transform="rotate(95.2 702.34 597.59)" dominant-baseline="central">GroupII-a</text>
<path d="M689.19 616.71A151 151 0 0 1 634.96 701.99L631.39 697.42A145.2 145.2 0 0 0 683.54 615.42Z" fill="#d9a9c6"/>
<path d="M678.86 614.34A140.4 140.4 0 0 1 628.44 693.64L609.91 669.92A110.3 110.3 0 0 0 649.52 607.62Z" fill="#d6a6c6"/>
<text x="680.7" y="662.76" font-size="8.7" text-anchor="middle" font-weight="bold" transform="rotate(119.9 680.7 662.76)" dominant-baseline="central">GroupII-b</text>
<path d="M634.96 701.99A151 151 0 0 1 467.64 714.42L470.5 709.38A145.2 145.2 0 0 0 631.39 697.42Z" fill="#d6cdea"/>
<path d="M628.44 693.64A140.4 140.4 0 0 1 472.86 705.2L487.69 679A110.3 110.3 0 0 0 609.91 669.92Z" fill="#ddd6ee"/>
<text x="560.26" y="743.26" font-size="8.7" text-anchor="middle" font-weight="bold" transform="rotate(173.5 560.26 743.26)" dominant-baseline="central">GroupI</text>
<path d="M467.64 714.42A151 151 0 0 1 402.39 525.46L407.76 527.67A145.2 145.2 0 0 0 470.5 709.38Z" fill="#9dc6c4"/>
<path d="M472.86 705.2A140.4 140.4 0 0 1 412.19 529.5L440.02 540.97A110.3 110.3 0 0 0 487.69 679Z" fill="#a6cac9"/>
<text x="395.62" y="646.35" font-size="8.7" text-anchor="middle" font-weight="bold" transform="rotate(246.6 395.62 646.35)" dominant-baseline="central">GroupII-c</text>
<g font-size="4.9" fill="#222"><text x="444.02" y="525.12" dy="1.7" text-anchor="end" transform="rotate(390.57 444.02 525.12)">AtWRKY21</text><text x="449.14" y="517.22" dy="1.7" text-anchor="end" transform="rotate(395.31 449.14 517.22)">AtWRKY39</text><text x="454.9" y="509.76" dy="1.7" text-anchor="end" transform="rotate(400.06 454.9 509.76)">AtWRKY74</text><text x="461.25" y="502.81" dy="1.7" text-anchor="end" transform="rotate(404.8 461.25 502.81)">AtWRKY15</text><text x="468.16" y="496.41" dy="1.7" text-anchor="end" transform="rotate(409.54 468.16 496.41)">AtWRKY7</text><text x="475.57" y="490.6" dy="1.7" text-anchor="end" transform="rotate(414.29 475.57 490.6)">AtWRKY17</text><text x="483.44" y="485.43" dy="1.7" text-anchor="end" transform="rotate(419.03 483.44 485.43)">AtWRKY11</text><text x="491.78" y="480.88" dy="1.7" text-anchor="end" transform="rotate(423.81 491.78 480.88)">AtWRKY65</text><text x="500.55" y="477.02" dy="1.7" text-anchor="end" transform="rotate(428.64 500.55 477.02)">AtWRKY69</text><text x="509.61" y="473.91" dy="1.7" text-anchor="end" transform="rotate(433.46 509.61 473.91)">AtWRKY16</text><text x="518.9" y="471.57" dy="1.7" text-anchor="end" transform="rotate(438.29 518.9 471.57)">AtWRKY14</text><text x="528.35" y="470.02" dy="1.7" text-anchor="end" transform="rotate(443.11 528.35 470.02)">AtWRKY35</text><text x="537.9" y="469.27" dy="1.7" text-anchor="end" transform="rotate(447.94 537.9 469.27)">AtWRKY29</text><text x="547.4" y="471.13" dy="1.7" transform="rotate(-87.24 547.4 471.13)">AtWRKY27</text><text x="556.79" y="471.98" dy="1.7" transform="rotate(-82.41 556.79 471.98)">AtWRKY22</text><text x="566.13" y="473.63" dy="1.7" transform="rotate(-77.56 566.13 473.63)">AtWRKY49</text><text x="575.36" y="476.08" dy="1.7" transform="rotate(-72.67 575.36 476.08)">AtWRKY67</text><text x="584.35" y="479.32" dy="1.7" transform="rotate(-67.78 584.35 479.32)">AtWRKY64</text><text x="593.03" y="483.3" dy="1.7" transform="rotate(-62.89 593.03 483.3)">AtWRKY63</text><text x="601.34" y="488.01" dy="1.7" transform="rotate(-58.01 601.34 488.01)">AtWRKY66</text><text x="609.22" y="493.41" dy="1.7" transform="rotate(-53.12 609.22 493.41)">AtWRKY62</text><text x="616.61" y="499.47" dy="1.7" transform="rotate(-48.23 616.61 499.47)">AtWRKY38</text><text x="623.45" y="506.13" dy="1.7" transform="rotate(-43.34 623.45 506.13)">AtWRKY46</text><text x="629.71" y="513.35" dy="1.7" transform="rotate(-38.46 629.71 513.35)">AtWRKY54</text><text x="635.32" y="521.07" dy="1.7" transform="rotate(-33.57 635.32 521.07)">AtWRKY70</text><text x="640.26" y="529.25" dy="1.7" transform="rotate(-28.68 640.26 529.25)">AtWRKY55</text><text x="644.48" y="537.81" dy="1.7" transform="rotate(-23.79 644.48 537.81)">AtWRKY30</text><text x="647.96" y="546.71" dy="1.7" transform="rotate(-18.91 647.96 546.71)">HTWRKY41</text><text x="650.66" y="555.87" dy="1.7" transform="rotate(-14.02 650.66 555.87)">HTWRKY53</text><text x="652.58" y="565.23" dy="1.7" transform="rotate(-9.13 652.58 565.23)">AtWRKY53</text><text x="653.69" y="574.71" dy="1.7" transform="rotate(-4.24 653.69 574.71)">AtWRKY41</text><text x="653.99" y="584.27" dy="1.7" transform="rotate(0.65 653.99 584.27)">AtWRKY40</text><text x="653.47" y="593.83" dy="1.7" transform="rotate(5.55 653.47 593.83)">AtWRKY18</text><text x="652.14" y="603.31" dy="1.7" transform="rotate(10.45 652.14 603.31)">AtWRKY60</text><text x="650.01" y="612.64" dy="1.7" transform="rotate(15.34 650.01 612.64)">AtWRKY47</text><text x="647.09" y="621.73" dy="1.7" transform="rotate(20.23 647.09 621.73)">AtWRKY6</text><text x="643.41" y="630.54" dy="1.7" transform="rotate(25.12 643.41 630.54)">AtWRKY42</text><text x="638.99" y="639.01" dy="1.7" transform="rotate(30.01 638.99 639.01)">AtWRKY31</text><text x="633.86" y="647.07" dy="1.7" transform="rotate(34.89 633.86 647.07)">AtWRKY72</text><text x="628.07" y="654.66" dy="1.7" transform="rotate(39.78 628.07 654.66)">AtWRKY61</text><text x="621.65" y="661.74" dy="1.7" transform="rotate(44.67 621.65 661.74)">AtWRKY9</text><text x="614.65" y="668.24" dy="1.7" transform="rotate(49.56 614.65 668.24)">AtWRKY36</text><text x="607.18" y="674.08" dy="1.7" transform="rotate(54.41 607.18 674.08)">AtWRKY10</text><text x="599.29" y="679.24" dy="1.7" transform="rotate(59.23 599.29 679.24)">AtWRKY44</text><text x="591" y="683.71" dy="1.7" transform="rotate(64.05 591 683.71)">AtWRKY58</text><text x="582.37" y="687.47" dy="1.7" transform="rotate(68.88 582.37 687.47)">AtWRKY1</text><text x="573.44" y="690.5" dy="1.7" transform="rotate(73.7 573.44 690.5)">AtWRKY3</text><text x="564.3" y="692.76" dy="1.7" transform="rotate(78.52 564.3 692.76)">AtWRKY19</text><text x="554.99" y="694.24" dy="1.7" transform="rotate(83.34 554.99 694.24)">AtWRKY4</text><text x="545.59" y="694.94" dy="1.7" transform="rotate(88.16 545.59 694.94)">AtWRKY20</text><text x="536.08" y="696.65" dy="1.7" text-anchor="end" transform="rotate(272.98 536.08 696.65)">AtWRKY2</text><text x="526.55" y="695.75" dy="1.7" text-anchor="end" transform="rotate(277.8 526.55 695.75)">AtWRKY34</text><text x="517.13" y="694.05" dy="1.7" text-anchor="end" transform="rotate(282.62 517.13 694.05)">AtWRKY32</text><text x="507.88" y="691.56" dy="1.7" text-anchor="end" transform="rotate(287.45 507.88 691.56)">AtWRKY33</text><text x="498.88" y="688.31" dy="1.7" text-anchor="end" transform="rotate(292.27 498.88 688.31)">AtWRKY26</text><text x="490.18" y="684.32" dy="1.7" text-anchor="end" transform="rotate(297.09 490.18 684.32)">AtWRKY25</text><text x="481.8" y="679.57" dy="1.7" text-anchor="end" transform="rotate(301.94 481.8 679.57)">AtWRKY45</text><text x="473.81" y="674.11" dy="1.7" text-anchor="end" transform="rotate(306.81 473.81 674.11)">AtWRKY75</text><text x="466.31" y="667.98" dy="1.7" text-anchor="end" transform="rotate(311.69 466.31 667.98)">AtWRKY43</text><text x="459.36" y="661.24" dy="1.7" text-anchor="end" transform="rotate(316.57 459.36 661.24)">AtWRKY24</text><text x="453.01" y="653.93" dy="1.7" text-anchor="end" transform="rotate(321.44 453.01 653.93)">AtWRKY56</text><text x="447.3" y="646.11" dy="1.7" text-anchor="end" transform="rotate(326.32 447.3 646.11)">AtWRKY12</text><text x="442.28" y="637.83" dy="1.7" text-anchor="end" transform="rotate(331.2 442.28 637.83)">AtWRKY13</text><text x="437.98" y="629.15" dy="1.7" text-anchor="end" transform="rotate(336.07 437.98 629.15)">AtWRKY59</text><text x="434.43" y="620.14" dy="1.7" text-anchor="end" transform="rotate(340.95 434.43 620.14)">AtWRKY51</text><text x="431.66" y="610.87" dy="1.7" text-anchor="end" transform="rotate(345.83 431.66 610.87)">AtWRKY50</text><text x="429.69" y="601.38" dy="1.7" text-anchor="end" transform="rotate(350.7 429.69 601.38)">AtWRKY68</text><text x="428.54" y="591.77" dy="1.7" text-anchor="end" transform="rotate(355.58 428.54 591.77)">AtWRKY48</text><text x="428.2" y="582.09" dy="1.7" text-anchor="end" transform="rotate(360.46 428.2 582.09)">AtWRKY23</text><text x="428.69" y="572.42" dy="1.7" text-anchor="end" transform="rotate(365.33 428.69 572.42)">AtWRKY71</text><text x="430" y="562.83" dy="1.7" text-anchor="end" transform="rotate(370.21 430 562.83)">AtWRKY57</text><text x="432.12" y="553.38" dy="1.7" text-anchor="end" transform="rotate(375.09 432.12 553.38)">AtWRKY28</text><text x="435.04" y="544.15" dy="1.7" text-anchor="end" transform="rotate(379.96 435.04 544.15)">AtWRKY8</text></g>
<path d="M458.48 533.66L451.16 529.34M462.85 526.93L455.91 522.01M458.48 533.66A97 97 0 0 1 462.85 526.93M467.31 534.6L460.6 530.25M469.29 521.86L461.25 515.11M474.59 516.06L467.14 508.66M469.29 521.86A95 95 0 0 1 474.59 516.06M476.31 522.95L471.88 518.91M467.31 534.6A89 89 0 0 1 476.31 522.95M477.9 533.48L471.57 528.59M479.71 509.95L473.54 502.73M485.96 505.05L480.42 497.34M479.71 509.95A96 96 0 0 1 485.96 505.05M488.33 514.52L482.78 507.44M497.23 508.4L487.71 492.54M488.33 514.52A87 87 0 0 1 497.23 508.4M496.09 516.27L492.69 511.33M477.9 533.48A81 81 0 0 1 496.09 516.27M493.36 537.65L482.76 527.76M500.96 499.55L495.44 488.33M508.12 496.39L503.57 484.75M500.96 499.55A93 93 0 0 1 508.12 496.39M509.75 509.79L504.51 497.89M516.67 497.68L511.97 481.86M523.93 495.85L520.58 479.7M516.67 497.68A89 89 0 0 1 523.93 495.85M522.48 505.42L520.28 496.69M509.75 509.79A80 80 0 0 1 522.48 505.42M518.78 515.38L516.02 507.34M531.09 492.66L529.35 478.26M538.72 492.06L538.2 477.57M531.09 492.66A91 91 0 0 1 538.72 492.06M535.91 505.24L534.9 492.28M546.14 497.1L547.08 477.62M553.36 497.75L555.93 478.42M546.14 497.1A86 86 0 0 1 553.36 497.75M549.04 505.32L549.76 497.35M535.91 505.24A78 78 0 0 1 549.04 505.32M542.44 511.5L542.48 505M518.78 515.38A71.5 71.5 0 0 1 542.44 511.5M524.79 518.77L523.49 513.94M493.36 537.65A66.5 66.5 0 0 1 524.79 518.77M533.76 569.29L507.75 526M550.62 543.94L564.73 479.98M560.47 523.81L573.43 482.29M573.01 507.09L581.89 485.33M579.36 510.01L590.07 489.09M573.01 507.09A82 82 0 0 1 579.36 510.01M571.21 519.39L576.22 508.48M587.57 510.06L597.9 493.52M593.61 514.21L605.32 498.61M587.57 510.06A86 86 0 0 1 593.61 514.21M581.59 525.27L590.63 512.07M571.21 519.39A70 70 0 0 1 581.59 525.27M572.58 529.06L576.52 522.11M560.47 523.81A62 62 0 0 1 572.58 529.06M557.91 546.3L566.66 526.12M550.62 543.94A40 40 0 0 1 557.91 546.3M552.17 551.6L554.32 544.95M597.95 520.35L612.28 504.31M603.09 525.34L618.72 510.59M597.95 520.35A84 84 0 0 1 603.09 525.34M571.98 552.18L600.58 522.79M580.14 552.71L624.62 517.39M588.24 552.31L629.91 524.67M598.85 551.9L634.56 532.37M607.79 553.99L638.53 540.44M618.25 556.88L638.5 549.95M627.86 561.56L640.96 558.29M637.77 567.61L646.16 566.26M638.73 575.82L647.21 575.19M637.77 567.61A97 97 0 0 1 638.73 575.82M629.9 572.69L638.34 571.7M627.86 561.56A88.5 88.5 0 0 1 629.9 572.69M621.29 568.52L629.06 567.1M618.25 556.88A80.6 80.6 0 0 1 621.29 568.52M611.57 564.84L619.99 562.64M607.79 553.99A71.9 71.9 0 0 1 611.57 564.84M603.19 561.68L609.9 559.34M598.85 551.9A64.8 64.8 0 0 1 603.19 561.68M592.72 560.47L601.22 556.7M588.24 552.31A55.5 55.5 0 0 1 592.72 560.47M584.69 559.57L590.65 556.3M580.14 552.71A48.7 48.7 0 0 1 584.69 559.57M577.81 559.2L582.56 556.04M571.98 552.18A43 43 0 0 1 577.81 559.2M567.39 561.92L575.09 555.53M552.17 551.6A33 33 0 0 1 567.39 561.92M552.35 560.8L555.95 553.09M627.99 583.98L647.49 584.2M637.55 592.28L647.01 593.2M636.41 600.41L645.75 602.14M637.55 592.28A96 96 0 0 1 636.41 600.41M627.16 594.97L637.07 596.36M627.99 583.98A86 86 0 0 1 627.16 594.97M605.22 587.78L627.76 589.49M630.72 607.34L643.74 610.92M628.32 614.81L640.99 619.48M630.72 607.34A92 92 0 0 1 628.32 614.81M618.18 607.44L629.6 611.1M621.68 620.36L637.52 627.78M618.21 627.01L633.36 635.76M621.68 620.36A88 88 0 0 1 618.21 627.01M612.92 620.02L620.01 623.72M618.18 607.44A80 80 0 0 1 612.92 620.02M606.59 609.99L615.82 613.84M613.36 632.77L628.53 643.35M608.86 638.67L623.08 650.51M613.36 632.77A87 87 0 0 1 608.86 638.67M603.22 629.7L611.17 635.77M601.74 642.05L617.03 657.17M596.49 646.93L610.44 663.29M601.74 642.05A84 84 0 0 1 596.49 646.93M594.4 639.42L599.17 644.55M603.22 629.7A77 77 0 0 1 594.4 639.42M593.84 630.04L599.02 634.75M606.59 609.99A70 70 0 0 1 593.84 630.04M595.5 617.02L601.07 620.56M605.22 587.78A63.4 63.4 0 0 1 595.5 617.02M572.6 592.36L602.63 601.54M568.48 620L603.4 668.79M567.83 626.39L595.97 673.65M566.28 632.91L588.16 677.87M574.44 666.95L580.02 681.41M567.27 669.38L571.62 684.26M574.44 666.95A90 90 0 0 1 567.27 669.38M565.74 653.09L570.88 668.24M558.72 665.32L563 686.39M553.02 677.36L554.24 687.79M545.05 677.95L545.39 688.45M553.02 677.36A95 95 0 0 1 545.05 677.95M548.23 666.77L549.04 677.74M558.72 665.32A84 84 0 0 1 548.23 666.77M552.13 656.3L553.5 666.21M565.74 653.09A74 74 0 0 1 552.13 656.3M556.02 642.37L559.01 655.02M537.84 662.89L536.51 688.36M529.51 674.15L527.68 687.52M521.89 672.78L518.94 685.95M529.51 674.15A92 92 0 0 1 521.89 672.78M527.81 661.73L525.69 673.54M537.84 662.89A80 80 0 0 1 527.81 661.73M534.19 650.55L532.81 662.47M518.31 658.37L510.37 683.65M506.76 669.06L502.02 680.63M499.65 665.8L493.96 676.93M506.76 669.06A93 93 0 0 1 499.65 665.8M509.02 654.78L503.17 667.51M518.31 658.37A79 79 0 0 1 509.02 654.78M517.56 646.46L513.61 656.72M534.19 650.55A68 68 0 0 1 517.56 646.46M527.42 642.23L525.74 649.03M556.02 642.37A61 61 0 0 1 527.42 642.23M541.74 638.5L541.71 644M566.28 632.91A55.5 55.5 0 0 1 541.74 638.5M553.22 632.24L554.33 637.11M567.83 626.39A50.5 50.5 0 0 1 553.22 632.24M558.9 625.25L560.76 629.89M568.48 620A45.5 45.5 0 0 1 558.9 625.25M561.01 618.76L563.36 623.17M493.33 661.07L486.19 672.53M486.87 656.65L478.78 667.46M493.33 661.07A92 92 0 0 1 486.87 656.65M496.27 649.85L490.05 658.93M482.14 650.21L471.83 661.78M476.64 644.87L465.39 655.53M482.14 650.21A90 90 0 0 1 476.64 644.87M485.6 641.14L479.33 647.6M496.27 649.85A81 81 0 0 1 485.6 641.14M498.34 636.43L490.75 645.72M480.22 632.24L459.5 648.76M467.11 632.91L454.21 641.5M463.13 626.36L449.55 633.83M467.11 632.91A90 90 0 0 1 463.13 626.36M474.46 623.97L465.05 629.68M480.22 632.24A79 79 0 0 1 474.46 623.97M485.41 622.48L477.21 628.2M498.34 636.43A69 69 0 0 1 485.41 622.48M501.66 620.39L491.39 629.9M462.48 618.28L445.57 625.79M451.26 614.33L442.28 617.43M448.92 606.51L439.71 608.83M451.26 614.33A96 96 0 0 1 448.92 606.51M458.63 607.87L450.01 610.44M462.48 618.28A87 87 0 0 1 458.63 607.87M471.64 608.98L460.39 613.14M458.12 596.73L437.89 600.04M457.25 589.55L436.81 591.13M458.12 596.73A85 85 0 0 1 457.25 589.55M467.54 591.96L457.61 593.15M471.64 608.98A75 75 0 0 1 467.54 591.96M481.73 597.54L469.09 600.59M459 582.34L436.5 582.16M448.41 574.26L436.96 573.2M449.49 566.34L438.17 564.3M448.41 574.26A94 94 0 0 1 449.49 566.34M459.76 571.78L448.86 570.29M459 582.34A83 83 0 0 1 459.76 571.78M470.19 577.84L459.21 577.05M455.1 559.58L440.14 555.54M457.41 552.27L442.84 546.98M455.1 559.58A90 90 0 0 1 457.41 552.27M473.34 561.32L456.18 555.9M470.19 577.84A72 72 0 0 1 473.34 561.32M481.1 571.36L471.28 569.49M481.73 597.54A62 62 0 0 1 481.1 571.36M487.02 584.32L480.02 584.49M501.66 620.39A55 55 0 0 1 487.02 584.32M508.42 605.65L496.4 613.76M561.01 618.76A40.5 40.5 0 0 1 508.42 605.65M533.18 613.76L530.84 621.93M572.6 592.36A32 32 0 0 1 533.18 613.76M554.25 604.22L558 610.71M552.35 560.8A24.5 24.5 0 0 1 554.25 604.22M557.96 581.88L566.44 581.29M533.76 569.29A16 16 0 0 1 557.96 581.88M546.68 567.7L544.49 574.87" stroke="#1a1a1a" stroke-width=".68" fill="none"/>
<polygon points="643.79,544.84 644.59,547.04 646.93,547.12 645.08,548.55 645.73,550.81 643.79,549.49 641.86,550.81 642.51,548.55 640.66,547.12 643,547.04" fill="#f5222d"/>
<polygon points="646.4,553.64 647.19,555.84 649.53,555.92 647.68,557.35 648.33,559.6 646.4,558.29 644.46,559.6 645.11,557.35 643.26,555.92 645.6,555.84" fill="#f5222d"/>
</g>
<g id="panel_f">
<text x="6.5" y="757" font-size="23">f</text>
<text x="69.5" y="764.1" font-size="6" font-weight="bold">WRKYGQK</text>
<path d="M71.1 767.2H98" stroke="#e8251f" stroke-width="1.1"/>
<path d="M149 767.4H284.3" stroke="#2f74c8" stroke-width=".95"/>
<g font-size="5.5" font-weight="bold"><text x="147.9" y="763.8">C</text><text x="164.6" y="763.8">X</text><text x="180.8" y="763.8">C</text><text x="227.3" y="763.8">X</text><text x="271.6" y="763.8">HXC</text></g>
<g font-size="3" font-weight="bold"><text x="168.5" y="765.7">7</text><text x="231.2" y="765.7">23</text></g>
<path d="M152.6 762.1H164M171.4 762.1H180.3M185.4 762.1H226.8M235.5 762.1H271" stroke="#333" stroke-width=".75" stroke-dasharray=".7 .75"/>
<text x="16.1" y="776.1" font-size="5.95">HTWRKY41</text>
<text x="365.8" y="776.1" font-size="5.4" font-weight="bold">202</text>
<text x="16.1" y="783.83" font-size="5.95">HTWRKY53</text>
<text x="365.8" y="783.83" font-size="5.4" font-weight="bold">203</text>
<text x="16.1" y="791.56" font-size="5.95">AtWRKY53</text>
<text x="365.8" y="791.56" font-size="5.4" font-weight="bold">237</text>
<text x="16.1" y="799.29" font-size="5.95">AtWRKY41</text>
<text x="365.8" y="799.29" font-size="5.4" font-weight="bold">213</text>
<rect x="51.9" y="770.1" width="7.88" height="8.18" fill="#16165e"/><rect x="59.68" y="770.1" width="7.88" height="8.18" fill="#7ffcff"/><rect x="71.34" y="770.1" width="46.77" height="8.18" fill="#16165e"/><rect x="121.9" y="770.1" width="3.99" height="8.18" fill="#f57fd6"/><rect x="125.79" y="770.1" width="31.21" height="8.18" fill="#16165e"/><rect x="156.9" y="770.1" width="3.99" height="8.18" fill="#7ffcff"/><rect x="160.79" y="770.1" width="3.99" height="8.18" fill="#16165e"/><rect x="164.68" y="770.1" width="3.99" height="8.18" fill="#7ffcff"/><rect x="168.57" y="770.1" width="3.99" height="8.18" fill="#f57fd6"/><rect x="172.46" y="770.1" width="3.99" height="8.18" fill="#16165e"/><rect x="176.35" y="770.1" width="3.99" height="8.18" fill="#7ffcff"/><rect x="180.24" y="770.1" width="3.99" height="8.18" fill="#16165e"/><rect x="184.13" y="770.1" width="3.99" height="8.18" fill="#f57fd6"/><rect x="188.01" y="770.1" width="35.1" height="8.18" fill="#16165e"/><rect x="223.02" y="770.1" width="3.99" height="8.18" fill="#7ffcff"/><rect x="226.91" y="770.1" width="3.99" height="8.18" fill="#16165e"/><rect x="230.79" y="770.1" width="3.99" height="8.18" fill="#f57fd6"/><rect x="234.68" y="770.1" width="3.99" height="8.18" fill="#7ffcff"/><rect x="238.57" y="770.1" width="15.66" height="8.18" fill="#f57fd6"/><rect x="258.02" y="770.1" width="3.99" height="8.18" fill="#16165e"/><rect x="261.91" y="770.1" width="3.99" height="8.18" fill="#f57fd6"/><rect x="265.79" y="770.1" width="3.99" height="8.18" fill="#16165e"/><rect x="273.57" y="770.1" width="11.77" height="8.18" fill="#16165e"/><rect x="289.13" y="770.1" width="3.99" height="8.18" fill="#f57fd6"/><rect x="300.8" y="770.1" width="3.99" height="8.18" fill="#f57fd6"/><rect x="339.69" y="770.1" width="3.99" height="8.18" fill="#16165e"/><rect x="347.46" y="770.1" width="7.88" height="8.18" fill="#7ffcff"/><rect x="359.13" y="770.1" width="3.99" height="8.18" fill="#7ffcff"/><rect x="51.9" y="777.83" width="7.88" height="8.18" fill="#16165e"/><rect x="59.68" y="777.83" width="3.99" height="8.18" fill="#7ffcff"/><rect x="67.46" y="777.83" width="3.99" height="8.18" fill="#f57fd6"/><rect x="71.34" y="777.83" width="46.77" height="8.18" fill="#16165e"/><rect x="118.01" y="777.83" width="7.88" height="8.18" fill="#f57fd6"/><rect x="125.79" y="777.83" width="31.21" height="8.18" fill="#16165e"/><rect x="156.9" y="777.83" width="3.99" height="8.18" fill="#7ffcff"/><rect x="160.79" y="777.83" width="3.99" height="8.18" fill="#16165e"/><rect x="164.68" y="777.83" width="3.99" height="8.18" fill="#7ffcff"/><rect x="172.46" y="777.83" width="3.99" height="8.18" fill="#16165e"/><rect x="180.24" y="777.83" width="3.99" height="8.18" fill="#16165e"/><rect x="184.13" y="777.83" width="3.99" height="8.18" fill="#f57fd6"/><rect x="188.01" y="777.83" width="35.1" height="8.18" fill="#16165e"/><rect x="223.02" y="777.83" width="3.99" height="8.18" fill="#7ffcff"/><rect x="226.91" y="777.83" width="3.99" height="8.18" fill="#16165e"/><rect x="230.79" y="777.83" width="3.99" height="8.18" fill="#f57fd6"/><rect x="234.68" y="777.83" width="3.99" height="8.18" fill="#7ffcff"/><rect x="238.57" y="777.83" width="19.55" height="8.18" fill="#f57fd6"/><rect x="258.02" y="777.83" width="3.99" height="8.18" fill="#16165e"/><rect x="261.91" y="777.83" width="3.99" height="8.18" fill="#f57fd6"/><rect x="265.79" y="777.83" width="3.99" height="8.18" fill="#16165e"/><rect x="269.68" y="777.83" width="3.99" height="8.18" fill="#f57fd6"/><rect x="273.57" y="777.83" width="11.77" height="8.18" fill="#16165e"/><rect x="300.8" y="777.83" width="3.99" height="8.18" fill="#f57fd6"/><rect x="308.57" y="777.83" width="3.99" height="8.18" fill="#7ffcff"/><rect x="324.13" y="777.83" width="7.88" height="8.18" fill="#7ffcff"/><rect x="331.91" y="777.83" width="3.99" height="8.18" fill="#f57fd6"/><rect x="339.69" y="777.83" width="3.99" height="8.18" fill="#16165e"/><rect x="359.13" y="777.83" width="3.99" height="8.18" fill="#7ffcff"/><rect x="51.9" y="785.56" width="7.88" height="8.18" fill="#16165e"/><rect x="63.57" y="785.56" width="3.99" height="8.18" fill="#7ffcff"/><rect x="67.46" y="785.56" width="3.99" height="8.18" fill="#f57fd6"/><rect x="71.34" y="785.56" width="46.77" height="8.18" fill="#16165e"/><rect x="118.01" y="785.56" width="7.88" height="8.18" fill="#f57fd6"/><rect x="125.79" y="785.56" width="31.21" height="8.18" fill="#16165e"/><rect x="156.9" y="785.56" width="3.99" height="8.18" fill="#7ffcff"/><rect x="160.79" y="785.56" width="3.99" height="8.18" fill="#16165e"/><rect x="168.57" y="785.56" width="3.99" height="8.18" fill="#f57fd6"/><rect x="172.46" y="785.56" width="3.99" height="8.18" fill="#16165e"/><rect x="180.24" y="785.56" width="3.99" height="8.18" fill="#16165e"/><rect x="184.13" y="785.56" width="3.99" height="8.18" fill="#f57fd6"/><rect x="188.01" y="785.56" width="35.1" height="8.18" fill="#16165e"/><rect x="223.02" y="785.56" width="3.99" height="8.18" fill="#7ffcff"/><rect x="226.91" y="785.56" width="3.99" height="8.18" fill="#16165e"/><rect x="230.79" y="785.56" width="3.99" height="8.18" fill="#f57fd6"/><rect x="234.68" y="785.56" width="3.99" height="8.18" fill="#7ffcff"/><rect x="238.57" y="785.56" width="19.55" height="8.18" fill="#f57fd6"/><rect x="258.02" y="785.56" width="3.99" height="8.18" fill="#16165e"/><rect x="261.91" y="785.56" width="3.99" height="8.18" fill="#f57fd6"/><rect x="265.79" y="785.56" width="3.99" height="8.18" fill="#16165e"/><rect x="269.68" y="785.56" width="3.99" height="8.18" fill="#f57fd6"/><rect x="273.57" y="785.56" width="11.77" height="8.18" fill="#16165e"/><rect x="285.24" y="785.56" width="3.99" height="8.18" fill="#7ffcff"/><rect x="289.13" y="785.56" width="3.99" height="8.18" fill="#f57fd6"/><rect x="296.91" y="785.56" width="3.99" height="8.18" fill="#7ffcff"/><rect x="308.57" y="785.56" width="3.99" height="8.18" fill="#7ffcff"/><rect x="324.13" y="785.56" width="7.88" height="8.18" fill="#7ffcff"/><rect x="331.91" y="785.56" width="3.99" height="8.18" fill="#f57fd6"/><rect x="335.8" y="785.56" width="3.99" height="8.18" fill="#7ffcff"/><rect x="339.69" y="785.56" width="3.99" height="8.18" fill="#16165e"/><rect x="343.57" y="785.56" width="15.66" height="8.18" fill="#7ffcff"/><rect x="51.9" y="793.29" width="7.88" height="7.73" fill="#16165e"/><rect x="63.57" y="793.29" width="3.99" height="7.73" fill="#7ffcff"/><rect x="67.46" y="793.29" width="3.99" height="7.73" fill="#f57fd6"/><rect x="71.34" y="793.29" width="46.77" height="7.73" fill="#16165e"/><rect x="118.01" y="793.29" width="7.88" height="7.73" fill="#f57fd6"/><rect x="125.79" y="793.29" width="31.21" height="7.73" fill="#16165e"/><rect x="156.9" y="793.29" width="3.99" height="7.73" fill="#7ffcff"/><rect x="160.79" y="793.29" width="3.99" height="7.73" fill="#16165e"/><rect x="168.57" y="793.29" width="3.99" height="7.73" fill="#f57fd6"/><rect x="172.46" y="793.29" width="3.99" height="7.73" fill="#16165e"/><rect x="176.35" y="793.29" width="3.99" height="7.73" fill="#7ffcff"/><rect x="180.24" y="793.29" width="3.99" height="7.73" fill="#16165e"/><rect x="184.13" y="793.29" width="3.99" height="7.73" fill="#f57fd6"/><rect x="188.01" y="793.29" width="35.1" height="7.73" fill="#16165e"/><rect x="223.02" y="793.29" width="3.99" height="7.73" fill="#7ffcff"/><rect x="226.91" y="793.29" width="3.99" height="7.73" fill="#16165e"/><rect x="230.79" y="793.29" width="3.99" height="7.73" fill="#f57fd6"/><rect x="234.68" y="793.29" width="3.99" height="7.73" fill="#7ffcff"/><rect x="238.57" y="793.29" width="19.55" height="7.73" fill="#f57fd6"/><rect x="258.02" y="793.29" width="3.99" height="7.73" fill="#16165e"/><rect x="261.91" y="793.29" width="3.99" height="7.73" fill="#f57fd6"/><rect x="265.79" y="793.29" width="3.99" height="7.73" fill="#16165e"/><rect x="269.68" y="793.29" width="3.99" height="7.73" fill="#f57fd6"/><rect x="273.57" y="793.29" width="11.77" height="7.73" fill="#16165e"/><rect x="285.24" y="793.29" width="3.99" height="7.73" fill="#7ffcff"/><rect x="289.13" y="793.29" width="3.99" height="7.73" fill="#f57fd6"/><rect x="296.91" y="793.29" width="3.99" height="7.73" fill="#7ffcff"/><rect x="300.8" y="793.29" width="3.99" height="7.73" fill="#f57fd6"/><rect x="331.91" y="793.29" width="3.99" height="7.73" fill="#f57fd6"/><rect x="335.8" y="793.29" width="3.99" height="7.73" fill="#7ffcff"/><rect x="339.69" y="793.29" width="3.99" height="7.73" fill="#16165e"/><rect x="343.57" y="793.29" width="3.99" height="7.73" fill="#7ffcff"/><rect x="355.24" y="793.29" width="3.99" height="7.73" fill="#7ffcff"/>
<text x="51.9" y="776" class="mo" font-size="6.48" fill="#a5a7cf" xml:space="preserve" textLength="311.12">DD   WRKYGQKDILGA  PRSYYRCT R  Q C ATKQVQRSD D       Y G HTC              K     </text>
<text x="51.9" y="776" class="mo" font-size="6.48" fill="#333" xml:space="preserve" textLength="311.12">  GYN            NF        Y HT G L         E PSVYEVN R R   IQEKPKQ...DYNV EQDYN</text>
<text x="51.9" y="783.73" class="mo" font-size="6.48" fill="#a5a7cf" xml:space="preserve" textLength="311.12">DD   WRKYGQKDILGA  PRSYYRCT R  Q C ATKQVQRSD D       Y G HTC              P     </text>
<text x="51.9" y="783.73" class="mo" font-size="6.48" fill="#333" xml:space="preserve" textLength="311.12">  GHS            KY        Y HV N W         E PSVFDIT R T   NLSVPST...ASPK QEPIN</text>
<text x="51.9" y="791.46" class="mo" font-size="6.48" fill="#a5a7cf" xml:space="preserve" textLength="311.12">DD   WRKYGQKDILGA  PRSYYRCT R  Q C ATKQVQRSD D       Y G HTC              K     </text>
<text x="51.9" y="791.46" class="mo" font-size="6.48" fill="#333" xml:space="preserve" textLength="311.12">  VFS            KF        F NT Y W         G ATVFEVT R T   SQAITRTPPLASPE RQDTR</text>
<text x="51.9" y="799.19" class="mo" font-size="6.48" fill="#a5a7cf" xml:space="preserve" textLength="311.12">DD   WRKYGQKDILGA  PRSYYRCT R  Q C ATKQVQRSD D       Y G HTC              K     </text>
<text x="51.9" y="799.19" class="mo" font-size="6.48" fill="#333" xml:space="preserve" textLength="311.12">  IFS            KF        F ST G W         E PTIFEVT R S   SQGIP......LPE R.ETK</text>
<text x="16.1" y="807.02" font-size="5.95">Consensus</text>
<text x="51.9" y="806.92" class="mo" font-size="6.48" fill="#333" xml:space="preserve" textLength="311.12">dd   wrkygqkdilga prsyyrct r  q c atkqvq sd d       y g htc                  k  </text>
</g>
<g id="panel_g">
<text x="3.3" y="839.8" font-size="21.5">g</text>
<text x="52.55" y="850.1" font-size="5.85" text-anchor="middle">GFP</text>
<text x="124.55" y="850.1" font-size="5.85" text-anchor="middle">mKATE</text>
<text x="196.45" y="850.1" font-size="5.85" text-anchor="middle">Cy5</text>
<text x="268.45" y="850.1" font-size="5.85" text-anchor="middle">Bright</text>
<text x="340.15" y="850.1" font-size="5.85" text-anchor="middle">Merged</text>
<text x="16.7" y="885.9" font-size="5.95" text-anchor="middle" transform="rotate(-90 16.7 885.9)">35S::HTWRKY53-GFP</text>
<text x="16.7" y="956" font-size="5.95" text-anchor="middle" transform="rotate(-90 16.7 956)">35S::GFP</text>
<defs>
<filter id="b05" x="-30%" y="-30%" width="160%" height="160%"><feGaussianBlur stdDeviation=".5"/></filter>
<filter id="b07" x="-30%" y="-30%" width="160%" height="160%"><feGaussianBlur stdDeviation=".75"/></filter>
<filter id="b1" x="-30%" y="-30%" width="160%" height="160%"><feGaussianBlur stdDeviation="1"/></filter>
<filter id="b2" x="-50%" y="-50%" width="200%" height="200%"><feGaussianBlur stdDeviation="2.2"/></filter>
<filter id="b4" x="-50%" y="-50%" width="200%" height="200%"><feGaussianBlur stdDeviation="4"/></filter>
<filter id="nzk" x="0" y="0" width="100%" height="100%"><feTurbulence type="fractalNoise" baseFrequency=".1" numOctaves="3" seed="4"/><feColorMatrix type="matrix" values="0 0 0 0 0  0 0 0 0 0  0 0 0 0 0  3 0 0 0 -1.15"/></filter>
<filter id="nzw" x="0" y="0" width="100%" height="100%"><feTurbulence type="fractalNoise" baseFrequency=".1" numOctaves="3" seed="4"/><feColorMatrix type="matrix" values="0 0 0 0 1  0 0 0 0 1  0 0 0 0 1  0 3 0 0 -1.2"/></filter>
<filter id="nz2" x="0" y="0" width="100%" height="100%"><feTurbulence type="fractalNoise" baseFrequency=".14" numOctaves="4" seed="9"/><feColorMatrix type="matrix" values="0 0 0 0 .75  0 0 0 0 .75  0 0 0 0 .75  3 0 0 0 -1.1"/></filter>
<linearGradient id="gbg" x1="0" y1="0" x2=".3" y2="1"><stop offset="0" stop-color="#cbcbcb"/><stop offset="1" stop-color="#b3b3b3"/></linearGradient>
<clipPath id="cb1"><circle cx="268.4" cy="887.3" r="26.4"/></clipPath>
<clipPath id="cb2"><circle cx="267.4" cy="959.2" r="25"/></clipPath>
<clipPath id="cm1"><circle cx="340.1" cy="887.3" r="26.4"/></clipPath>
<clipPath id="cm2"><circle cx="339.1" cy="959.2" r="25"/></clipPath>
</defs>
<rect x="18.3" y="852.1" width="68.5" height="68.5" fill="#000"/>
<rect x="90.3" y="852.1" width="68.5" height="68.5" fill="#000"/>
<rect x="162.2" y="852.1" width="68.5" height="68.5" fill="#000"/>
<rect x="234.2" y="852.1" width="68.5" height="68.5" fill="url(#gbg)"/>
<rect x="305.9" y="852.1" width="68.5" height="68.5" fill="url(#gbg)"/>
<rect x="18.3" y="924.7" width="68.5" height="68.5" fill="#000"/>
<rect x="90.3" y="924.7" width="68.5" height="68.5" fill="#000"/>
<rect x="162.2" y="924.7" width="68.5" height="68.5" fill="#000"/>
<rect x="234.2" y="924.7" width="68.5" height="68.5" fill="url(#gbg)"/>
<rect x="305.9" y="924.7" width="68.5" height="68.5" fill="url(#gbg)"/>
<polygon points="73.78,871.7 70.7,877.62 66.91,879.99 61.22,879.45 59.59,875.66 58.87,869.35 62.72,866.56 66.86,864.7 71.58,866.69" fill="#2cff1c" filter="url(#b05)"/>
<polygon points="145.38,874.46 143.02,876.78 138.25,880.78 134.07,879.01 130.88,875.64 131.72,871.06 134.17,867.56 139.57,865.8 143.68,869.62" fill="#ff2410" filter="url(#b05)"/>
<path d="M138.6 940.5C142 942 146.5 946 146 950.5C145.5 955 140 957 135.5 955.5C131.5 954 131.5 949.5 133.5 946.5C135 944 136.5 942 138.6 940.5Z" fill="#ff2410" filter="url(#b05)"/>
<ellipse cx="135" cy="953" rx="5" ry="4" fill="#a01008" opacity=".5" filter="url(#b2)"/>
<path d="M173.86 884.22A22.6 22.6 0 0 1 212.1 869.54" stroke="#5e1470" stroke-width="5.4" fill="none" stroke-linecap="round" filter="url(#b1)" opacity="0.75"/><path d="M173.52 884.2A22.94 22.94 0 0 1 174.39 879.34" stroke="#cc38dc" stroke-width="2.89" fill="none" stroke-linecap="round" filter="url(#b07)"/><path d="M175.63 877.91A22.21 22.21 0 0 1 177.27 874.51" stroke="#bc30cc" stroke-width="2.99" fill="none" stroke-linecap="round" filter="url(#b07)"/><path d="M178.11 873.37A22.11 22.11 0 0 1 180.48 870.45" stroke="#bc30cc" stroke-width="4.26" fill="none" stroke-linecap="round" filter="url(#b07)"/><path d="M181.21 869.52A22.26 22.26 0 0 1 184.26 867.14" stroke="#ac2abe" stroke-width="5.51" fill="none" stroke-linecap="round" filter="url(#b07)"/><path d="M185.77 866.27A22.23 22.23 0 0 1 188.94 864.86" stroke="#bc30cc" stroke-width="5.05" fill="none" stroke-linecap="round" filter="url(#b07)"/><path d="M190.58 863.58A22.97 22.97 0 0 1 193.75 862.98" stroke="#bc30cc" stroke-width="5.3" fill="none" stroke-linecap="round" filter="url(#b07)"/><path d="M195.08 863.56A22.28 22.28 0 0 1 200.78 863.95" stroke="#bc30cc" stroke-width="4.92" fill="none" stroke-linecap="round" filter="url(#b07)"/><path d="M202.67 864.3A22.4 22.4 0 0 1 206.09 865.6" stroke="#ac2abe" stroke-width="5.61" fill="none" stroke-linecap="round" filter="url(#b07)"/><path d="M207.29 866.19A22.43 22.43 0 0 1 210.27 868.17" stroke="#cc38dc" stroke-width="4.29" fill="none" stroke-linecap="round" filter="url(#b07)"/>
<path d="M214.02 871.02A23 23 0 0 1 210.56 903.92" stroke="#5e1470" stroke-width="4.4" fill="none" stroke-linecap="round" filter="url(#b1)" opacity="0.6"/><path d="M213.76 871.24A22.66 22.66 0 0 1 216.89 876.14" stroke="#cc38dc" stroke-width="3.32" fill="none" stroke-linecap="round" filter="url(#b07)"/><path d="M218.31 877.71A23.36 23.36 0 0 1 219.23 880.88" stroke="#bc30cc" stroke-width="4.46" fill="none" stroke-linecap="round" filter="url(#b07)"/><path d="M219 882.96A22.78 22.78 0 0 1 219.16 886.8" stroke="#d640e4" stroke-width="3.75" fill="none" stroke-linecap="round" filter="url(#b07)"/><path d="M219.58 888.1A23.3 23.3 0 0 1 218.87 891.94" stroke="#d640e4" stroke-width="4.43" fill="none" stroke-linecap="round" filter="url(#b07)"/><path d="M218.31 893.06A23.08 23.08 0 0 1 215.8 898.3" stroke="#bc30cc" stroke-width="3.98" fill="none" stroke-linecap="round" filter="url(#b07)"/><path d="M214.62 899.74A22.94 22.94 0 0 1 211.5 903.07" stroke="#d640e4" stroke-width="3.91" fill="none" stroke-linecap="round" filter="url(#b07)"/>
<circle cx="195.8" cy="958.9" r="23.2" fill="none" stroke="#6a1a7c" stroke-width="4.2" filter="url(#b1)" opacity=".9"/>
<path d="M175.49 948.1A23 23 0 0 1 218.3 954.12" stroke="#5e1470" stroke-width="5.0" fill="none" stroke-linecap="round" filter="url(#b1)" opacity="0.75"/><path d="M175.26 947.98A23.26 23.26 0 0 1 178.39 943.47" stroke="#ac2abe" stroke-width="4.98" fill="none" stroke-linecap="round" filter="url(#b07)"/><path d="M179.43 943.01A22.82 22.82 0 0 1 182.12 940.64" stroke="#d640e4" stroke-width="4.63" fill="none" stroke-linecap="round" filter="url(#b07)"/><path d="M182.61 939.56A23.41 23.41 0 0 1 186.71 937.33" stroke="#ac2abe" stroke-width="4.05" fill="none" stroke-linecap="round" filter="url(#b07)"/><path d="M188.25 937A23.16 23.16 0 0 1 191.64 936.11" stroke="#d640e4" stroke-width="4.6" fill="none" stroke-linecap="round" filter="url(#b07)"/><path d="M193.28 936.18A22.86 22.86 0 0 1 196.71 936.06" stroke="#cc38dc" stroke-width="4.39" fill="none" stroke-linecap="round" filter="url(#b07)"/><path d="M198.15 935.82A23.2 23.2 0 0 1 202.03 936.55" stroke="#bc30cc" stroke-width="4.8" fill="none" stroke-linecap="round" filter="url(#b07)"/><path d="M203.8 936.99A23.33 23.33 0 0 1 207.02 938.45" stroke="#bc30cc" stroke-width="3.82" fill="none" stroke-linecap="round" filter="url(#b07)"/><path d="M208.51 939.71A23.01 23.01 0 0 1 212.05 942.61" stroke="#bc30cc" stroke-width="5" fill="none" stroke-linecap="round" filter="url(#b07)"/><path d="M213.27 943.74A23.13 23.13 0 0 1 216.21 948.01" stroke="#cc38dc" stroke-width="4.96" fill="none" stroke-linecap="round" filter="url(#b07)"/><path d="M216.28 949.37A22.59 22.59 0 0 1 217.72 953.45" stroke="#cc38dc" stroke-width="4.29" fill="none" stroke-linecap="round" filter="url(#b07)"/>
<path d="M218.74 957.3A23 23 0 0 1 183.61 978.41" stroke="#5e1470" stroke-width="5.0" fill="none" stroke-linecap="round" filter="url(#b1)" opacity="0.75"/><path d="M218.32 957.33A22.57 22.57 0 0 1 218.24 961.36" stroke="#cc38dc" stroke-width="3.98" fill="none" stroke-linecap="round" filter="url(#b07)"/><path d="M217.99 962.85A22.54 22.54 0 0 1 216.89 966.85" stroke="#bc30cc" stroke-width="3.84" fill="none" stroke-linecap="round" filter="url(#b07)"/><path d="M216.37 968.17A22.56 22.56 0 0 1 214.78 971.1" stroke="#ac2abe" stroke-width="3.89" fill="none" stroke-linecap="round" filter="url(#b07)"/><path d="M214.31 972.68A23.08 23.08 0 0 1 210.23 976.91" stroke="#cc38dc" stroke-width="4.7" fill="none" stroke-linecap="round" filter="url(#b07)"/><path d="M208.94 977.52A22.79 22.79 0 0 1 203.74 980.26" stroke="#bc30cc" stroke-width="3.82" fill="none" stroke-linecap="round" filter="url(#b07)"/><path d="M202.61 980.45A22.6 22.6 0 0 1 199.22 981.24" stroke="#bc30cc" stroke-width="4.21" fill="none" stroke-linecap="round" filter="url(#b07)"/><path d="M197.72 981.88A23.06 23.06 0 0 1 193.97 981.89" stroke="#cc38dc" stroke-width="3.9" fill="none" stroke-linecap="round" filter="url(#b07)"/><path d="M192.37 981.61A22.97 22.97 0 0 1 187.92 980.47" stroke="#d640e4" stroke-width="4.55" fill="none" stroke-linecap="round" filter="url(#b07)"/><path d="M186.04 979.95A23.2 23.2 0 0 1 183.51 978.57" stroke="#bc30cc" stroke-width="4.12" fill="none" stroke-linecap="round" filter="url(#b07)"/>
<path d="M180.89 976.67A23.2 23.2 0 0 1 174.29 950.21" stroke="#5e1470" stroke-width="3.0" fill="none" stroke-linecap="round" filter="url(#b1)" opacity="0.4"/><path d="M181.08 976.44A22.89 22.89 0 0 1 178.37 973.74" stroke="#bc30cc" stroke-width="3.12" fill="none" stroke-linecap="round" filter="url(#b07)"/><path d="M177.55 973.06A23.1 23.1 0 0 1 175.57 970.04" stroke="#bc30cc" stroke-width="2.98" fill="none" stroke-linecap="round" filter="url(#b07)"/><path d="M174.64 969.34A23.6 23.6 0 0 1 172.99 964.95" stroke="#bc30cc" stroke-width="2.6" fill="none" stroke-linecap="round" filter="url(#b07)"/><path d="M173.03 963.47A23.22 23.22 0 0 1 172.58 958.88" stroke="#d640e4" stroke-width="2.93" fill="none" stroke-linecap="round" filter="url(#b07)"/><path d="M173.05 957.42A22.8 22.8 0 0 1 174.13 951.81" stroke="#d640e4" stroke-width="2.9" fill="none" stroke-linecap="round" filter="url(#b07)"/>
<circle cx="52.2" cy="960.2" r="24.3" fill="#0b3a07" filter="url(#b1)"/>
<ellipse cx="46.2" cy="963.2" rx="12" ry="14" fill="#000" opacity=".92" filter="url(#b2)"/>
<ellipse cx="63.2" cy="971.2" rx="6" ry="8" fill="#021202" opacity=".85" filter="url(#b2)"/>
<circle cx="52.2" cy="960.2" r="23.8" fill="none" stroke="#1f8a16" stroke-width="3.6" filter="url(#b1)"/>
<circle cx="52.2" cy="960.2" r="23.8" fill="none" stroke="#3ed02a" stroke-width="2.3" stroke-dasharray="7 5 12 4 5 8 9 6 14 5" filter="url(#b07)" opacity=".95"/>
<circle cx="52.2" cy="960.2" r="23.8" fill="none" stroke="#7af55a" stroke-width="1.8" stroke-dasharray="3 14 4 22 3 17" stroke-dashoffset="-60" filter="url(#b07)" opacity=".8"/>
<path d="M55 938C58 948 61.5 958 59 968S53 980 54 984" stroke="#2f9a20" stroke-width="1.4" fill="none" filter="url(#b07)"/>
<ellipse cx="66" cy="951" rx="12" ry="11" fill="#2aa81c" opacity=".7" filter="url(#b2)"/>
<polygon points="75.13,948.26 73.51,953.94 68.03,956.37 63.85,956.84 59.92,952.07 59.92,945.05 63.69,941.54 68.64,941.43 73.79,943.66" fill="#3cff26" filter="url(#b05)"/>
<rect x="79.3" y="915.6" width="4" height=".9" fill="#eee"/><rect x="79.8" y="917.2" width="3" height=".7" fill="#bbb" opacity=".8"/>
<rect x="151.3" y="915.6" width="4" height=".9" fill="#eee"/><rect x="151.8" y="917.2" width="3" height=".7" fill="#bbb" opacity=".8"/>
<rect x="223.2" y="915.6" width="4" height=".9" fill="#eee"/><rect x="223.7" y="917.2" width="3" height=".7" fill="#bbb" opacity=".8"/>
<rect x="295.2" y="915.6" width="4" height=".9" fill="#eee"/><rect x="295.7" y="917.2" width="3" height=".7" fill="#bbb" opacity=".8"/>
<rect x="366.9" y="915.6" width="4" height=".9" fill="#eee"/><rect x="367.4" y="917.2" width="3" height=".7" fill="#bbb" opacity=".8"/>
<rect x="79.8" y="987.6" width="3.4" height="2.6" fill="#ddd" opacity=".9"/>
<rect x="151.8" y="987.6" width="3.4" height="2.6" fill="#ddd" opacity=".9"/>
<rect x="223.7" y="987.6" width="3.4" height="2.6" fill="#ddd" opacity=".9"/>
<rect x="295.7" y="987.6" width="3.4" height="2.6" fill="#ddd" opacity=".9"/>
<rect x="367.4" y="987.6" width="3.4" height="2.6" fill="#ddd" opacity=".9"/>
<circle cx="268.4" cy="887.3" r="27.5" fill="none" stroke="#e9e9e9" stroke-width="1.3" filter="url(#b05)"/><g clip-path="url(#cb1)"><rect x="240.39999999999998" y="859.3" width="56" height="56" fill="#8a8a8a"/><ellipse cx="271.4" cy="868.3" rx="30" ry="16" fill="#161616" filter="url(#b2)"/><ellipse cx="282.4" cy="873.3" rx="15" ry="13" fill="#020202" filter="url(#b2)"/><ellipse cx="290.4" cy="891.3" rx="6" ry="15" fill="#101010" filter="url(#b2)"/><ellipse cx="251.39999999999998" cy="875.3" rx="8" ry="7" fill="#2a2a2a" filter="url(#b2)"/><ellipse cx="264.4" cy="878.3" rx="8" ry="5" fill="#6a6a6a" filter="url(#b2)"/><ellipse cx="255.39999999999998" cy="894.3" rx="11" ry="8" fill="#fafafa" filter="url(#b2)"/><ellipse cx="264.4" cy="906.3" rx="15" ry="6" fill="#efefef" filter="url(#b2)"/><ellipse cx="247.39999999999998" cy="890.3" rx="4" ry="8" fill="#ededed" filter="url(#b2)"/><ellipse cx="254.39999999999998" cy="899.3" rx="3" ry="3.6" fill="#5a5a5a" filter="url(#b1)"/><ellipse cx="266.4" cy="900.3" rx="4" ry="3.2" fill="#707070" filter="url(#b1)"/><ellipse cx="276.4" cy="904.3" rx="4" ry="3" fill="#333" filter="url(#b1)"/><ellipse cx="282.4" cy="897.3" rx="4" ry="5" fill="#3a3a3a" filter="url(#b1)"/><ellipse cx="272.4" cy="891.3" rx="5" ry="3" fill="#8d8d8d" filter="url(#b1)"/><rect x="240.39999999999998" y="859.3" width="56" height="56" filter="url(#nzk)" opacity=".36"/><rect x="240.39999999999998" y="859.3" width="56" height="56" filter="url(#nzw)" opacity=".28"/><circle cx="268.4" cy="887.3" r="26" fill="none" stroke="#111" stroke-width="1.6" stroke-dasharray="88 75.4" stroke-dashoffset="52" filter="url(#b05)"/></g><circle cx="268.4" cy="887.3" r="26.6" fill="none" stroke="#8a8a8a" stroke-width=".6"/>
<circle cx="267.4" cy="959.2" r="25.8" fill="none" stroke="#dcdcdc" stroke-width="1" filter="url(#b05)"/><g clip-path="url(#cb2)"><rect x="241.39999999999998" y="933.2" width="52" height="52" fill="#1e1e1e"/><ellipse cx="264.4" cy="960.2" rx="15" ry="16" fill="#484848" filter="url(#b4)"/><ellipse cx="274.4" cy="953.2" rx="7" ry="9" fill="#545454" filter="url(#b2)"/><rect x="241.39999999999998" y="933.2" width="52" height="52" filter="url(#nz2)" opacity=".22"/><circle cx="267.4" cy="959.2" r="24.4" fill="none" stroke="#080808" stroke-width="2.6" filter="url(#b1)"/></g><g fill="none" stroke="#8f8f8f" stroke-width=".5"><circle cx="280.4" cy="984.2" r="1.8"/><circle cx="283.9" cy="981.7" r="1.4"/><circle cx="277.4" cy="987.2" r="2"/><circle cx="285.4" cy="986.2" r="1.5"/><circle cx="281.4" cy="989.2" r="1.6"/></g>
<circle cx="340.1" cy="887.3" r="27.5" fill="none" stroke="#e9e9e9" stroke-width="1.3" filter="url(#b05)"/><g clip-path="url(#cm1)"><rect x="312.1" y="859.3" width="56" height="56" fill="#8a8a8a"/><ellipse cx="343.1" cy="868.3" rx="30" ry="16" fill="#161616" filter="url(#b2)"/><ellipse cx="354.1" cy="873.3" rx="15" ry="13" fill="#020202" filter="url(#b2)"/><ellipse cx="362.1" cy="891.3" rx="6" ry="15" fill="#101010" filter="url(#b2)"/><ellipse cx="323.1" cy="875.3" rx="8" ry="7" fill="#2a2a2a" filter="url(#b2)"/><ellipse cx="336.1" cy="878.3" rx="8" ry="5" fill="#6a6a6a" filter="url(#b2)"/><ellipse cx="327.1" cy="894.3" rx="11" ry="8" fill="#fafafa" filter="url(#b2)"/><ellipse cx="336.1" cy="906.3" rx="15" ry="6" fill="#efefef" filter="url(#b2)"/><ellipse cx="319.1" cy="890.3" rx="4" ry="8" fill="#ededed" filter="url(#b2)"/><ellipse cx="326.1" cy="899.3" rx="3" ry="3.6" fill="#5a5a5a" filter="url(#b1)"/><ellipse cx="338.1" cy="900.3" rx="4" ry="3.2" fill="#707070" filter="url(#b1)"/><ellipse cx="348.1" cy="904.3" rx="4" ry="3" fill="#333" filter="url(#b1)"/><ellipse cx="354.1" cy="897.3" rx="4" ry="5" fill="#3a3a3a" filter="url(#b1)"/><ellipse cx="344.1" cy="891.3" rx="5" ry="3" fill="#8d8d8d" filter="url(#b1)"/><rect x="312.1" y="859.3" width="56" height="56" filter="url(#nzk)" opacity=".36"/><rect x="312.1" y="859.3" width="56" height="56" filter="url(#nzw)" opacity=".28"/><circle cx="340.1" cy="887.3" r="26" fill="none" stroke="#111" stroke-width="1.6" stroke-dasharray="88 75.4" stroke-dashoffset="52" filter="url(#b05)"/></g><circle cx="340.1" cy="887.3" r="26.6" fill="none" stroke="#8a8a8a" stroke-width=".6"/>
<circle cx="339.1" cy="959.2" r="25.8" fill="none" stroke="#dcdcdc" stroke-width="1" filter="url(#b05)"/><g clip-path="url(#cm2)"><rect x="313.1" y="933.2" width="52" height="52" fill="#1e1e1e"/><ellipse cx="336.1" cy="960.2" rx="15" ry="16" fill="#484848" filter="url(#b4)"/><ellipse cx="346.1" cy="953.2" rx="7" ry="9" fill="#545454" filter="url(#b2)"/><rect x="313.1" y="933.2" width="52" height="52" filter="url(#nz2)" opacity=".22"/><circle cx="339.1" cy="959.2" r="24.4" fill="none" stroke="#080808" stroke-width="2.6" filter="url(#b1)"/></g><g fill="none" stroke="#8f8f8f" stroke-width=".5"><circle cx="352.1" cy="984.2" r="1.8"/><circle cx="355.6" cy="981.7" r="1.4"/><circle cx="349.1" cy="987.2" r="2"/><circle cx="357.1" cy="986.2" r="1.5"/><circle cx="353.1" cy="989.2" r="1.6"/></g>
<circle cx="295.9" cy="879.5" r="1.5" fill="none" stroke="#999" stroke-width=".5"/>
<circle cx="367.6" cy="879.5" r="1.5" fill="none" stroke="#999" stroke-width=".5"/>
<path d="M316.59 885.24A23.6 23.6 0 1 1 354.63 905.9" stroke="#c62ad6" stroke-width="4.4" fill="none" stroke-linecap="round" filter="url(#b05)"/><path d="M316.79 883.61A23.6 23.6 0 0 1 316.95 882.72M318.33 878.19A23.6 23.6 0 0 1 318.7 877.36M321.27 873.07A23.6 23.6 0 0 1 321.83 872.36M326.1 868.3A23.6 23.6 0 0 1 326.84 867.78M331.04 865.51A23.6 23.6 0 0 1 331.88 865.18M336.6 863.96A23.6 23.6 0 0 1 337.49 863.84M342.56 863.83A23.6 23.6 0 0 1 343.46 863.94M347.43 864.87A23.6 23.6 0 0 1 348.28 865.16M352.66 867.32A23.6 23.6 0 0 1 353.42 867.82M357.34 871.19A23.6 23.6 0 0 1 357.95 871.86M361.07 876.48A23.6 23.6 0 0 1 361.47 877.29M362.82 880.9A23.6 23.6 0 0 1 363.04 881.78M363.67 886.1A23.6 23.6 0 0 1 363.7 887.01M363.43 890.84A23.6 23.6 0 0 1 363.28 891.73M361.58 897.08A23.6 23.6 0 0 1 361.19 897.9M358.27 902.36A23.6 23.6 0 0 1 357.68 903.04" stroke="#5a1a66" stroke-width="3.8000000000000003" fill="none" opacity=".55" filter="url(#b05)"/>
<polygon points="360.14,872.07 357.3,877.52 353.81,879.71 348.57,879.21 347.07,875.72 346.4,869.91 349.95,867.34 353.76,865.62 358.11,867.45" fill="#f4f52a" filter="url(#b05)"/>
<g clip-path="url(#cm2)"><ellipse cx="352.1" cy="962.2" rx="8" ry="16" fill="#35d824" opacity=".6" filter="url(#b2)"/><ellipse cx="342.1" cy="978.2" rx="15" ry="4.5" fill="#35d824" opacity=".6" filter="url(#b2)"/><ellipse cx="322.1" cy="969.2" rx="3.5" ry="8" fill="#35d824" opacity=".4" filter="url(#b2)"/><ellipse cx="346.1" cy="965.2" rx="5" ry="7" fill="#35d824" opacity=".35" filter="url(#b2)"/><ellipse cx="352.1" cy="949.2" rx="10" ry="8" fill="#55f030" opacity=".65" filter="url(#b2)"/></g>
<circle cx="339.1" cy="959.2" r="23.6" fill="none" stroke="#3fd030" stroke-width="1.6" opacity=".7" filter="url(#b05)"/>
<circle cx="339.1" cy="959.2" r="23.6" fill="none" stroke="#c838d8" stroke-width="2.7" stroke-dasharray="6.5 4 8 3.5 5.5 4.5" filter="url(#b05)"/>
<polygon points="361.03,947.11 359.55,952.31 354.54,954.52 350.72,954.95 347.13,950.6 347.13,944.18 350.58,940.98 355.1,940.88 359.8,942.91" fill="#eef53a" filter="url(#b05)"/>
<ellipse cx="351" cy="953.5" rx="5" ry="2.5" fill="#9aff3a" opacity=".8" filter="url(#b1)"/>
</g>
<g id="panel_h">
<text x="391" y="760.8" font-size="23">h</text>
<defs><linearGradient id="arg" x1="0" y1="0" x2="1" y2="1"><stop offset="0" stop-color="#b98aec"/><stop offset="1" stop-color="#9e68d6"/></linearGradient></defs>
<text x="417" y="768.7" font-size="8.5" font-weight="bold">Reporter</text>
<text x="417" y="797.2" font-size="8.5" font-weight="bold">Effector</text>
<path d="M429.7 778.6H711.6" stroke="#0a0a0a" stroke-width="1.45"/>
<path d="M443.7 772H476.8V768.4L488.3 778.6L476.8 788.8V785.2H443.7Z" fill="url(#arg)"/><text x="462.75" y="780.8" font-size="6.6" text-anchor="middle" font-weight="bold" fill="#2b2140">35s promoter</text>
<rect x="496.2" y="772.4" width="24.8" height="13.8" rx=".7" fill="#a9efd9" stroke="#000" stroke-opacity=".13" stroke-width=".6"/><text x="508.6" y="781.68" font-size="6.6" text-anchor="middle" font-weight="bold" fill="#222">REN</text>
<rect x="528.2" y="772.6" width="16.2" height="13.4" rx=".7" fill="#adadad" stroke="#000" stroke-opacity=".13" stroke-width=".6"/><text x="536.3" y="781.64" font-size="6.5" text-anchor="middle" font-weight="bold" fill="#222">Ter</text>
<rect x="551.5" y="772.4" width="35.5" height="13.8" rx=".7" fill="#4fb4ec" stroke="#000" stroke-opacity=".13" stroke-width=".6"/><text x="569.25" y="781.68" font-size="6.6" text-anchor="middle" font-weight="bold" fill="#222">5×GAL4</text>
<rect x="592.7" y="772.4" width="25.6" height="13.8" rx=".7" fill="#ea8238" stroke="#000" stroke-opacity=".13" stroke-width=".6"/><text x="605.5" y="781.68" font-size="6.6" text-anchor="middle" font-weight="bold" fill="#222">TATA</text>
<rect x="625.1" y="772.4" width="28.6" height="13.8" rx=".7" fill="#dadef2" stroke="#000" stroke-opacity=".13" stroke-width=".6"/><text x="639.4" y="781.64" font-size="6.5" text-anchor="middle" font-weight="bold" fill="#222">Mini 35s</text>
<rect x="658.4" y="773.2" width="22" height="13.8" rx=".7" fill="#f6da4c" stroke="#000" stroke-opacity=".13" stroke-width=".6"/><text x="669.4" y="782.48" font-size="6.6" text-anchor="middle" font-weight="bold" fill="#222">LUC</text>
<rect x="686.2" y="772.4" width="16" height="13.4" rx=".7" fill="#adadad" stroke="#000" stroke-opacity=".13" stroke-width=".6"/><text x="694.2" y="781.44" font-size="6.5" text-anchor="middle" font-weight="bold" fill="#222">Ter</text>
<text x="469" y="810.3" font-size="6.5" text-anchor="end" font-weight="bold">BD-62SK</text>
<path d="M473.3 808.0H632.5" stroke="#0a0a0a" stroke-width="1.45"/>
<path d="M483.8 801.4H516.3V797.8L527.8 808L516.3 818.2V814.6H483.8Z" fill="url(#arg)"/><text x="502.55" y="810.2" font-size="6.6" text-anchor="middle" font-weight="bold" fill="#2b2140">35s promoter</text>
<rect x="542.2" y="801.6" width="35.3" height="14" rx=".7" fill="#4fb4ec" stroke="#000" stroke-opacity=".13" stroke-width=".6"/><text x="559.85" y="810.98" font-size="6.6" text-anchor="middle" font-weight="bold" fill="#222">GAL4BD</text>
<rect x="596.6" y="801.9" width="16.4" height="13.4" rx=".7" fill="#adadad" stroke="#000" stroke-opacity=".13" stroke-width=".6"/><text x="604.8" y="810.94" font-size="6.5" text-anchor="middle" font-weight="bold" fill="#222">Ter</text>
<text x="469" y="834" font-size="6.5" text-anchor="end" font-weight="bold">BD-62SK-HTWRKY53</text>
<path d="M473.3 831.7H673.7" stroke="#0a0a0a" stroke-width="1.45"/>
<path d="M483.8 825.1H516.3V821.5L527.8 831.7L516.3 841.9V838.3H483.8Z" fill="url(#arg)"/><text x="502.55" y="833.9" font-size="6.6" text-anchor="middle" font-weight="bold" fill="#2b2140">35s promoter</text>
<rect x="542.2" y="825.3" width="35.3" height="14" rx=".7" fill="#4fb4ec" stroke="#000" stroke-opacity=".13" stroke-width=".6"/><text x="559.85" y="834.68" font-size="6.6" text-anchor="middle" font-weight="bold" fill="#222">GAL4BD</text>
<rect x="589.2" y="825.3" width="38.5" height="14" rx=".7" fill="#aae392" stroke="#000" stroke-opacity=".13" stroke-width=".6"/><text x="608.45" y="834.68" font-size="6.6" text-anchor="middle" font-weight="bold" fill="#222">HTWRKY53</text>
<rect x="640.4" y="825.6" width="16.6" height="13.4" rx=".7" fill="#adadad" stroke="#000" stroke-opacity=".13" stroke-width=".6"/><text x="648.7" y="834.64" font-size="6.5" text-anchor="middle" font-weight="bold" fill="#222">Ter</text>
<text x="469" y="857" font-size="6.5" text-anchor="end" font-weight="bold">BD-62SK-VP16</text>
<path d="M473.3 854.7H673.7" stroke="#0a0a0a" stroke-width="1.45"/>
<path d="M483.8 848.1H516.3V844.5L527.8 854.7L516.3 864.9V861.3H483.8Z" fill="url(#arg)"/><text x="502.55" y="856.9" font-size="6.6" text-anchor="middle" font-weight="bold" fill="#2b2140">35s promoter</text>
<rect x="543" y="848.3" width="34.8" height="14" rx=".7" fill="#4fb4ec" stroke="#000" stroke-opacity=".13" stroke-width=".6"/><text x="560.4" y="857.68" font-size="6.6" text-anchor="middle" font-weight="bold" fill="#222">GAL4BD</text>
<rect x="590.6" y="848.3" width="26" height="14" rx=".7" fill="#efefef" stroke="#000" stroke-opacity=".13" stroke-width=".6"/><text x="603.6" y="857.68" font-size="6.6" text-anchor="middle" font-weight="bold" fill="#222">VP16</text>
<rect x="628.9" y="848.6" width="16.3" height="13.4" rx=".7" fill="#adadad" stroke="#000" stroke-opacity=".13" stroke-width=".6"/><text x="637.05" y="857.64" font-size="6.5" text-anchor="middle" font-weight="bold" fill="#222">Ter</text>
<rect x="489.9" y="871.5" width="161.5" height="108.1" fill="none" stroke="#111" stroke-width=".8"/>
<rect x="489.9" y="882.3" width="61.4" height="21.3" fill="#000"/>
<rect x="559.2" y="882.3" width="61.6" height="21.3" fill="#000"/>
<rect x="489.9" y="914.9" width="34.9" height="21.1" fill="#000"/>
<rect x="489.9" y="946.8" width="45.4" height="21.2" fill="#000"/>
<path d="M620.6 893.2H638.8M638.8 888.2V898.2" stroke="#111" stroke-width=".8" fill="none"/>
<path d="M524.5 925.2H526.6M526.6 922.5V928" stroke="#111" stroke-width=".7" fill="none"/>
<path d="M535.4 957.3H537.3M537.3 954.5V960.2" stroke="#111" stroke-width=".7" fill="none"/>
<circle cx="605.4" cy="893.2" r="2.15" fill="#a6a6a6"/>
<circle cx="631.6" cy="884.4" r="2.15" fill="#a6a6a6"/>
<circle cx="630.8" cy="902.9" r="2.15" fill="#a6a6a6"/>
<circle cx="523.9" cy="916.9" r="2.15" fill="#a6a6a6"/>
<circle cx="525.6" cy="925.6" r="2.15" fill="#a6a6a6"/>
<circle cx="526.4" cy="934.1" r="2.15" fill="#a6a6a6"/>
<circle cx="534.8" cy="949.3" r="2.15" fill="#a6a6a6"/>
<circle cx="536.8" cy="957.2" r="2.15" fill="#a6a6a6"/>
<circle cx="535.1" cy="966" r="2.15" fill="#a6a6a6"/>
<path d="M540 924.9H543.6V957.7H540" stroke="#111" stroke-width=".7" fill="none"/>
<text x="543.2" y="940.2" font-size="12" text-anchor="middle" font-weight="bold" transform="rotate(90 543.2 940.2)">**</text>
<rect x="552.6" y="978.1" width="5.6" height="3" fill="#fff"/>
<path d="M551 982.0L553.8 977.2M557.2 982.0L560 977.2" stroke="#111" stroke-width=".7"/>
<text x="489.9" y="986.9" font-size="4.6" text-anchor="middle" font-weight="bold">0</text>
<text x="510.3" y="986.9" font-size="4.6" text-anchor="middle" font-weight="bold">0.005</text>
<text x="530.6" y="986.9" font-size="4.6" text-anchor="middle" font-weight="bold">0.001</text>
<text x="546.7" y="986.9" font-size="4.6" text-anchor="middle" font-weight="bold">0.015</text>
<text x="561.4" y="986.9" font-size="4.6" text-anchor="middle" font-weight="bold">0.25</text>
<text x="579" y="986.9" font-size="4.6" text-anchor="middle" font-weight="bold">0.30</text>
<text x="597" y="986.9" font-size="4.6" text-anchor="middle" font-weight="bold">0.35</text>
<text x="615.4" y="986.9" font-size="4.6" text-anchor="middle" font-weight="bold">0.40</text>
<text x="633.4" y="986.9" font-size="4.6" text-anchor="middle" font-weight="bold">0.45</text>
<text x="651.4" y="986.9" font-size="4.6" text-anchor="middle" font-weight="bold">0.50</text>
<path d="M489.9 979.6v1.8M510.3 979.6v1.8M530.6 979.6v1.8M546.7 979.6v1.8M561.4 979.6v1.8M579 979.6v1.8M597 979.6v1.8M615.4 979.6v1.8M633.4 979.6v1.8M651.4 979.6v1.8" stroke="#111" stroke-width=".6"/>
<text x="562.6" y="996.6" font-size="7.3" text-anchor="middle" font-weight="bold">LUC/REN ratio</text>
<text x="487.5" y="895.6" font-size="7.1" text-anchor="end" font-weight="bold">BD-62SK-VP16</text>
<text x="487.5" y="927.8" font-size="7.1" text-anchor="end" font-weight="bold">BD-62SK-HTWRKY53</text>
<text x="487.5" y="961.9" font-size="7.1" text-anchor="end" font-weight="bold">BD-62SK</text>
</g>
</svg>
</body></html>
